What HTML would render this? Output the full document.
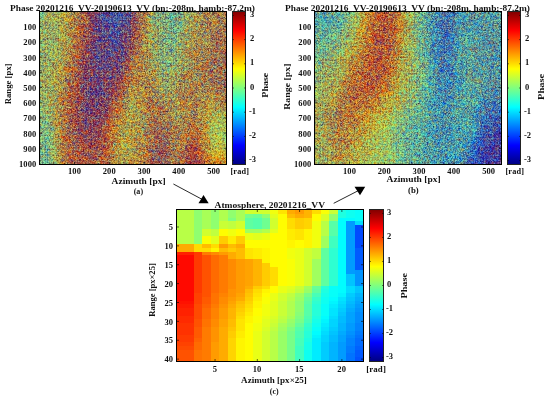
<!DOCTYPE html>
<html><head><meta charset="utf-8"><title>Figure</title>
<style>
html,body{margin:0;padding:0;background:#fff}
svg{display:block}
text{font-family:"Liberation Serif",serif;fill:#111}
.tk{font-size:8.5px;font-weight:bold;letter-spacing:.12px}
.tt{font-size:8.6px;font-weight:bold}
.lb{font-size:8.6px;font-weight:bold}
.cp{font-size:7.6px;font-weight:bold}
</style></head><body>
<svg width="550" height="401" viewBox="0 0 550 401">
<defs>
<linearGradient id="jet" x1="0" y1="0" x2="0" y2="1"><stop offset="0.0000" stop-color="#800000"/><stop offset="0.1250" stop-color="#ff0000"/><stop offset="0.3750" stop-color="#ffff00"/><stop offset="0.6250" stop-color="#00ffff"/><stop offset="0.8750" stop-color="#0000ff"/><stop offset="1.0000" stop-color="#000080"/></linearGradient>
<clipPath id="clipa"><rect x="40" y="12" width="186" height="152"/></clipPath>
<clipPath id="clipb"><rect x="315" y="12" width="186" height="152"/></clipPath>
<clipPath id="clipc"><rect x="177" y="210" width="186" height="151"/></clipPath>
<filter id="fa" filterUnits="userSpaceOnUse" x="24" y="-4" width="218" height="184" color-interpolation-filters="sRGB">
<feGaussianBlur in="SourceGraphic" stdDeviation="3" result="sb"/>
<feColorMatrix in="sb" type="matrix" values="1 0 0 0 0 1 0 0 0 0 1 0 0 0 0 0 0 0 0 1" result="b"/>
<feColorMatrix in="sb" type="matrix" values="0 1 0 0 0 0 1 0 0 0 0 1 0 0 0 0 0 0 0 1" result="a"/>
<feTurbulence type="fractalNoise" baseFrequency="1.618 1.37" numOctaves="1" seed="7"/>
<feComponentTransfer result="n0"><feFuncR type="table" tableValues="0.3333 0.3333 0.3333 0.3333 0.3333 0.3333 0.3333 0.3333 0.3333 0.3334 0.3334 0.3334 0.3334 0.3334 0.3334 0.3334 0.3335 0.3335 0.3336 0.3337 0.3338 0.3339 0.3341 0.3343 0.3345 0.3349 0.3352 0.3357 0.3363 0.337 0.3379 0.3389 0.3401 0.3416 0.3433 0.3453 0.3476 0.3502 0.3532 0.3566 0.3604 0.3645 0.3691 0.374 0.3793 0.3848 0.3906 0.3966 0.4027 0.4089 0.4151 0.4214 0.4276 0.4339 0.4401 0.4462 0.4523 0.4584 0.4644 0.4704 0.4763 0.4823 0.4882 0.4941 0.5 0.5059 0.5118 0.5177 0.5237 0.5296 0.5356 0.5416 0.5477 0.5538 0.5599 0.5661 0.5724 0.5786 0.5849 0.5911 0.5973 0.6034 0.6094 0.6152 0.6207 0.626 0.6309 0.6355 0.6396 0.6434 0.6468 0.6498 0.6524 0.6547 0.6567 0.6584 0.6599 0.6611 0.6621 0.663 0.6637 0.6643 0.6648 0.6651 0.6655 0.6657 0.6659 0.6661 0.6662 0.6663 0.6664 0.6665 0.6665 0.6666 0.6666 0.6666 0.6666 0.6666 0.6666 0.6666 0.6667 0.6667 0.6667 0.6667 0.6667 0.6667 0.6667 0.6667 0.6667"/><feFuncG type="table" tableValues="0.3333 0.3333 0.3333 0.3333 0.3333 0.3333 0.3333 0.3333 0.3333 0.3334 0.3334 0.3334 0.3334 0.3334 0.3334 0.3334 0.3335 0.3335 0.3336 0.3337 0.3338 0.3339 0.3341 0.3343 0.3345 0.3349 0.3352 0.3357 0.3363 0.337 0.3379 0.3389 0.3401 0.3416 0.3433 0.3453 0.3476 0.3502 0.3532 0.3566 0.3604 0.3645 0.3691 0.374 0.3793 0.3848 0.3906 0.3966 0.4027 0.4089 0.4151 0.4214 0.4276 0.4339 0.4401 0.4462 0.4523 0.4584 0.4644 0.4704 0.4763 0.4823 0.4882 0.4941 0.5 0.5059 0.5118 0.5177 0.5237 0.5296 0.5356 0.5416 0.5477 0.5538 0.5599 0.5661 0.5724 0.5786 0.5849 0.5911 0.5973 0.6034 0.6094 0.6152 0.6207 0.626 0.6309 0.6355 0.6396 0.6434 0.6468 0.6498 0.6524 0.6547 0.6567 0.6584 0.6599 0.6611 0.6621 0.663 0.6637 0.6643 0.6648 0.6651 0.6655 0.6657 0.6659 0.6661 0.6662 0.6663 0.6664 0.6665 0.6665 0.6666 0.6666 0.6666 0.6666 0.6666 0.6666 0.6666 0.6667 0.6667 0.6667 0.6667 0.6667 0.6667 0.6667 0.6667 0.6667"/><feFuncB type="table" tableValues="0.3333 0.3333 0.3333 0.3333 0.3333 0.3333 0.3333 0.3333 0.3333 0.3334 0.3334 0.3334 0.3334 0.3334 0.3334 0.3334 0.3335 0.3335 0.3336 0.3337 0.3338 0.3339 0.3341 0.3343 0.3345 0.3349 0.3352 0.3357 0.3363 0.337 0.3379 0.3389 0.3401 0.3416 0.3433 0.3453 0.3476 0.3502 0.3532 0.3566 0.3604 0.3645 0.3691 0.374 0.3793 0.3848 0.3906 0.3966 0.4027 0.4089 0.4151 0.4214 0.4276 0.4339 0.4401 0.4462 0.4523 0.4584 0.4644 0.4704 0.4763 0.4823 0.4882 0.4941 0.5 0.5059 0.5118 0.5177 0.5237 0.5296 0.5356 0.5416 0.5477 0.5538 0.5599 0.5661 0.5724 0.5786 0.5849 0.5911 0.5973 0.6034 0.6094 0.6152 0.6207 0.626 0.6309 0.6355 0.6396 0.6434 0.6468 0.6498 0.6524 0.6547 0.6567 0.6584 0.6599 0.6611 0.6621 0.663 0.6637 0.6643 0.6648 0.6651 0.6655 0.6657 0.6659 0.6661 0.6662 0.6663 0.6664 0.6665 0.6665 0.6666 0.6666 0.6666 0.6666 0.6666 0.6666 0.6666 0.6667 0.6667 0.6667 0.6667 0.6667 0.6667 0.6667 0.6667 0.6667"/><feFuncA type="linear" slope="0" intercept="1"/></feComponentTransfer>
<feColorMatrix in="n0" type="matrix" values="1 0 0 0 0 1 0 0 0 0 1 0 0 0 0 0 0 0 0 1"/>
<feComposite in2="a" operator="arithmetic" k1="1" k2="0" k3="-0.5" k4="0.5"/>
<feComposite in2="b" operator="arithmetic" k1="0" k2="1" k3="1" k4="-0.5"/>
<feComponentTransfer result="c0"><feFuncR type="table" tableValues="0 0 0 0.0846 0.21 0.335 0.46 0.585 0.71 0.835 0.96 1 1 1 1 1 1 1 1 0.915 0.79 0.665 0.54 0 0 0 0 0 0 0 0 0 0 0 0 0.0846 0.21 0.335 0.46 0.585 0.71 0.835 0.96 1 1 1 1 1 1 1 1 0.915 0.79 0.665 0.54 0 0 0 0 0 0 0 0 0 0 0 0 0.0846 0.21 0.335 0.46 0.585 0.71 0.835 0.96 1 1 1 1 1 1 1 1 0.915 0.79 0.665 0.54 0 0 0 0 0 0 0 0 0 0"/><feFuncG type="table" tableValues="0.71 0.835 0.96 1 1 1 1 1 1 1 1 0.915 0.79 0.665 0.54 0.415 0.29 0.165 0.0404 0 0 0 0 0 0 0 0 0.0846 0.21 0.335 0.46 0.585 0.71 0.835 0.96 1 1 1 1 1 1 1 1 0.915 0.79 0.665 0.54 0.415 0.29 0.165 0.0404 0 0 0 0 0 0 0 0 0.0846 0.21 0.335 0.46 0.585 0.71 0.835 0.96 1 1 1 1 1 1 1 1 0.915 0.79 0.665 0.54 0.415 0.29 0.165 0.0404 0 0 0 0 0 0 0 0 0.0846 0.21 0.335 0.46 0.585 0.71"/><feFuncB type="table" tableValues="1 1 1 0.915 0.79 0.665 0.54 0.415 0.29 0.165 0.0404 0 0 0 0 0 0 0 0 0 0 0 0 0.585 0.71 0.835 0.96 1 1 1 1 1 1 1 1 0.915 0.79 0.665 0.54 0.415 0.29 0.165 0.0404 0 0 0 0 0 0 0 0 0 0 0 0 0.585 0.71 0.835 0.96 1 1 1 1 1 1 1 1 0.915 0.79 0.665 0.54 0.415 0.29 0.165 0.0404 0 0 0 0 0 0 0 0 0 0 0 0 0.585 0.71 0.835 0.96 1 1 1 1 1 1"/></feComponentTransfer>
<feColorMatrix in="n0" type="matrix" values="0 1 0 0 0 0 1 0 0 0 0 1 0 0 0 0 0 0 0 1"/>
<feComposite in2="a" operator="arithmetic" k1="1" k2="0" k3="-0.5" k4="0.5"/>
<feComposite in2="b" operator="arithmetic" k1="0" k2="1" k3="1" k4="-0.5"/>
<feComponentTransfer result="c1"><feFuncR type="table" tableValues="0 0 0 0.0846 0.21 0.335 0.46 0.585 0.71 0.835 0.96 1 1 1 1 1 1 1 1 0.915 0.79 0.665 0.54 0 0 0 0 0 0 0 0 0 0 0 0 0.0846 0.21 0.335 0.46 0.585 0.71 0.835 0.96 1 1 1 1 1 1 1 1 0.915 0.79 0.665 0.54 0 0 0 0 0 0 0 0 0 0 0 0 0.0846 0.21 0.335 0.46 0.585 0.71 0.835 0.96 1 1 1 1 1 1 1 1 0.915 0.79 0.665 0.54 0 0 0 0 0 0 0 0 0 0"/><feFuncG type="table" tableValues="0.71 0.835 0.96 1 1 1 1 1 1 1 1 0.915 0.79 0.665 0.54 0.415 0.29 0.165 0.0404 0 0 0 0 0 0 0 0 0.0846 0.21 0.335 0.46 0.585 0.71 0.835 0.96 1 1 1 1 1 1 1 1 0.915 0.79 0.665 0.54 0.415 0.29 0.165 0.0404 0 0 0 0 0 0 0 0 0.0846 0.21 0.335 0.46 0.585 0.71 0.835 0.96 1 1 1 1 1 1 1 1 0.915 0.79 0.665 0.54 0.415 0.29 0.165 0.0404 0 0 0 0 0 0 0 0 0.0846 0.21 0.335 0.46 0.585 0.71"/><feFuncB type="table" tableValues="1 1 1 0.915 0.79 0.665 0.54 0.415 0.29 0.165 0.0404 0 0 0 0 0 0 0 0 0 0 0 0 0.585 0.71 0.835 0.96 1 1 1 1 1 1 1 1 0.915 0.79 0.665 0.54 0.415 0.29 0.165 0.0404 0 0 0 0 0 0 0 0 0 0 0 0 0.585 0.71 0.835 0.96 1 1 1 1 1 1 1 1 0.915 0.79 0.665 0.54 0.415 0.29 0.165 0.0404 0 0 0 0 0 0 0 0 0 0 0 0 0.585 0.71 0.835 0.96 1 1 1 1 1 1"/></feComponentTransfer>
<feTurbulence type="fractalNoise" baseFrequency="1.23 1.71" numOctaves="1" seed="12"/>
<feComponentTransfer result="n1"><feFuncR type="table" tableValues="0.3333 0.3333 0.3333 0.3333 0.3333 0.3333 0.3333 0.3333 0.3333 0.3334 0.3334 0.3334 0.3334 0.3334 0.3334 0.3334 0.3335 0.3335 0.3336 0.3337 0.3338 0.3339 0.3341 0.3343 0.3345 0.3349 0.3352 0.3357 0.3363 0.337 0.3379 0.3389 0.3401 0.3416 0.3433 0.3453 0.3476 0.3502 0.3532 0.3566 0.3604 0.3645 0.3691 0.374 0.3793 0.3848 0.3906 0.3966 0.4027 0.4089 0.4151 0.4214 0.4276 0.4339 0.4401 0.4462 0.4523 0.4584 0.4644 0.4704 0.4763 0.4823 0.4882 0.4941 0.5 0.5059 0.5118 0.5177 0.5237 0.5296 0.5356 0.5416 0.5477 0.5538 0.5599 0.5661 0.5724 0.5786 0.5849 0.5911 0.5973 0.6034 0.6094 0.6152 0.6207 0.626 0.6309 0.6355 0.6396 0.6434 0.6468 0.6498 0.6524 0.6547 0.6567 0.6584 0.6599 0.6611 0.6621 0.663 0.6637 0.6643 0.6648 0.6651 0.6655 0.6657 0.6659 0.6661 0.6662 0.6663 0.6664 0.6665 0.6665 0.6666 0.6666 0.6666 0.6666 0.6666 0.6666 0.6666 0.6667 0.6667 0.6667 0.6667 0.6667 0.6667 0.6667 0.6667 0.6667"/><feFuncG type="table" tableValues="0.3333 0.3333 0.3333 0.3333 0.3333 0.3333 0.3333 0.3333 0.3333 0.3334 0.3334 0.3334 0.3334 0.3334 0.3334 0.3334 0.3335 0.3335 0.3336 0.3337 0.3338 0.3339 0.3341 0.3343 0.3345 0.3349 0.3352 0.3357 0.3363 0.337 0.3379 0.3389 0.3401 0.3416 0.3433 0.3453 0.3476 0.3502 0.3532 0.3566 0.3604 0.3645 0.3691 0.374 0.3793 0.3848 0.3906 0.3966 0.4027 0.4089 0.4151 0.4214 0.4276 0.4339 0.4401 0.4462 0.4523 0.4584 0.4644 0.4704 0.4763 0.4823 0.4882 0.4941 0.5 0.5059 0.5118 0.5177 0.5237 0.5296 0.5356 0.5416 0.5477 0.5538 0.5599 0.5661 0.5724 0.5786 0.5849 0.5911 0.5973 0.6034 0.6094 0.6152 0.6207 0.626 0.6309 0.6355 0.6396 0.6434 0.6468 0.6498 0.6524 0.6547 0.6567 0.6584 0.6599 0.6611 0.6621 0.663 0.6637 0.6643 0.6648 0.6651 0.6655 0.6657 0.6659 0.6661 0.6662 0.6663 0.6664 0.6665 0.6665 0.6666 0.6666 0.6666 0.6666 0.6666 0.6666 0.6666 0.6667 0.6667 0.6667 0.6667 0.6667 0.6667 0.6667 0.6667 0.6667"/><feFuncB type="table" tableValues="0.3333 0.3333 0.3333 0.3333 0.3333 0.3333 0.3333 0.3333 0.3333 0.3334 0.3334 0.3334 0.3334 0.3334 0.3334 0.3334 0.3335 0.3335 0.3336 0.3337 0.3338 0.3339 0.3341 0.3343 0.3345 0.3349 0.3352 0.3357 0.3363 0.337 0.3379 0.3389 0.3401 0.3416 0.3433 0.3453 0.3476 0.3502 0.3532 0.3566 0.3604 0.3645 0.3691 0.374 0.3793 0.3848 0.3906 0.3966 0.4027 0.4089 0.4151 0.4214 0.4276 0.4339 0.4401 0.4462 0.4523 0.4584 0.4644 0.4704 0.4763 0.4823 0.4882 0.4941 0.5 0.5059 0.5118 0.5177 0.5237 0.5296 0.5356 0.5416 0.5477 0.5538 0.5599 0.5661 0.5724 0.5786 0.5849 0.5911 0.5973 0.6034 0.6094 0.6152 0.6207 0.626 0.6309 0.6355 0.6396 0.6434 0.6468 0.6498 0.6524 0.6547 0.6567 0.6584 0.6599 0.6611 0.6621 0.663 0.6637 0.6643 0.6648 0.6651 0.6655 0.6657 0.6659 0.6661 0.6662 0.6663 0.6664 0.6665 0.6665 0.6666 0.6666 0.6666 0.6666 0.6666 0.6666 0.6666 0.6667 0.6667 0.6667 0.6667 0.6667 0.6667 0.6667 0.6667 0.6667"/><feFuncA type="linear" slope="0" intercept="1"/></feComponentTransfer>
<feColorMatrix in="n1" type="matrix" values="1 0 0 0 0 1 0 0 0 0 1 0 0 0 0 0 0 0 0 1"/>
<feComposite in2="a" operator="arithmetic" k1="1" k2="0" k3="-0.5" k4="0.5"/>
<feComposite in2="b" operator="arithmetic" k1="0" k2="1" k3="1" k4="-0.5"/>
<feComponentTransfer result="c2"><feFuncR type="table" tableValues="0 0 0 0.0846 0.21 0.335 0.46 0.585 0.71 0.835 0.96 1 1 1 1 1 1 1 1 0.915 0.79 0.665 0.54 0 0 0 0 0 0 0 0 0 0 0 0 0.0846 0.21 0.335 0.46 0.585 0.71 0.835 0.96 1 1 1 1 1 1 1 1 0.915 0.79 0.665 0.54 0 0 0 0 0 0 0 0 0 0 0 0 0.0846 0.21 0.335 0.46 0.585 0.71 0.835 0.96 1 1 1 1 1 1 1 1 0.915 0.79 0.665 0.54 0 0 0 0 0 0 0 0 0 0"/><feFuncG type="table" tableValues="0.71 0.835 0.96 1 1 1 1 1 1 1 1 0.915 0.79 0.665 0.54 0.415 0.29 0.165 0.0404 0 0 0 0 0 0 0 0 0.0846 0.21 0.335 0.46 0.585 0.71 0.835 0.96 1 1 1 1 1 1 1 1 0.915 0.79 0.665 0.54 0.415 0.29 0.165 0.0404 0 0 0 0 0 0 0 0 0.0846 0.21 0.335 0.46 0.585 0.71 0.835 0.96 1 1 1 1 1 1 1 1 0.915 0.79 0.665 0.54 0.415 0.29 0.165 0.0404 0 0 0 0 0 0 0 0 0.0846 0.21 0.335 0.46 0.585 0.71"/><feFuncB type="table" tableValues="1 1 1 0.915 0.79 0.665 0.54 0.415 0.29 0.165 0.0404 0 0 0 0 0 0 0 0 0 0 0 0 0.585 0.71 0.835 0.96 1 1 1 1 1 1 1 1 0.915 0.79 0.665 0.54 0.415 0.29 0.165 0.0404 0 0 0 0 0 0 0 0 0 0 0 0 0.585 0.71 0.835 0.96 1 1 1 1 1 1 1 1 0.915 0.79 0.665 0.54 0.415 0.29 0.165 0.0404 0 0 0 0 0 0 0 0 0 0 0 0 0.585 0.71 0.835 0.96 1 1 1 1 1 1"/></feComponentTransfer>
<feTurbulence type="fractalNoise" baseFrequency="1.45 1.19" numOctaves="1" seed="17"/>
<feComponentTransfer result="n2"><feFuncR type="table" tableValues="0.3333 0.3333 0.3333 0.3333 0.3333 0.3333 0.3333 0.3333 0.3333 0.3334 0.3334 0.3334 0.3334 0.3334 0.3334 0.3334 0.3335 0.3335 0.3336 0.3337 0.3338 0.3339 0.3341 0.3343 0.3345 0.3349 0.3352 0.3357 0.3363 0.337 0.3379 0.3389 0.3401 0.3416 0.3433 0.3453 0.3476 0.3502 0.3532 0.3566 0.3604 0.3645 0.3691 0.374 0.3793 0.3848 0.3906 0.3966 0.4027 0.4089 0.4151 0.4214 0.4276 0.4339 0.4401 0.4462 0.4523 0.4584 0.4644 0.4704 0.4763 0.4823 0.4882 0.4941 0.5 0.5059 0.5118 0.5177 0.5237 0.5296 0.5356 0.5416 0.5477 0.5538 0.5599 0.5661 0.5724 0.5786 0.5849 0.5911 0.5973 0.6034 0.6094 0.6152 0.6207 0.626 0.6309 0.6355 0.6396 0.6434 0.6468 0.6498 0.6524 0.6547 0.6567 0.6584 0.6599 0.6611 0.6621 0.663 0.6637 0.6643 0.6648 0.6651 0.6655 0.6657 0.6659 0.6661 0.6662 0.6663 0.6664 0.6665 0.6665 0.6666 0.6666 0.6666 0.6666 0.6666 0.6666 0.6666 0.6667 0.6667 0.6667 0.6667 0.6667 0.6667 0.6667 0.6667 0.6667"/><feFuncG type="table" tableValues="0.3333 0.3333 0.3333 0.3333 0.3333 0.3333 0.3333 0.3333 0.3333 0.3334 0.3334 0.3334 0.3334 0.3334 0.3334 0.3334 0.3335 0.3335 0.3336 0.3337 0.3338 0.3339 0.3341 0.3343 0.3345 0.3349 0.3352 0.3357 0.3363 0.337 0.3379 0.3389 0.3401 0.3416 0.3433 0.3453 0.3476 0.3502 0.3532 0.3566 0.3604 0.3645 0.3691 0.374 0.3793 0.3848 0.3906 0.3966 0.4027 0.4089 0.4151 0.4214 0.4276 0.4339 0.4401 0.4462 0.4523 0.4584 0.4644 0.4704 0.4763 0.4823 0.4882 0.4941 0.5 0.5059 0.5118 0.5177 0.5237 0.5296 0.5356 0.5416 0.5477 0.5538 0.5599 0.5661 0.5724 0.5786 0.5849 0.5911 0.5973 0.6034 0.6094 0.6152 0.6207 0.626 0.6309 0.6355 0.6396 0.6434 0.6468 0.6498 0.6524 0.6547 0.6567 0.6584 0.6599 0.6611 0.6621 0.663 0.6637 0.6643 0.6648 0.6651 0.6655 0.6657 0.6659 0.6661 0.6662 0.6663 0.6664 0.6665 0.6665 0.6666 0.6666 0.6666 0.6666 0.6666 0.6666 0.6666 0.6667 0.6667 0.6667 0.6667 0.6667 0.6667 0.6667 0.6667 0.6667"/><feFuncB type="table" tableValues="0.3333 0.3333 0.3333 0.3333 0.3333 0.3333 0.3333 0.3333 0.3333 0.3334 0.3334 0.3334 0.3334 0.3334 0.3334 0.3334 0.3335 0.3335 0.3336 0.3337 0.3338 0.3339 0.3341 0.3343 0.3345 0.3349 0.3352 0.3357 0.3363 0.337 0.3379 0.3389 0.3401 0.3416 0.3433 0.3453 0.3476 0.3502 0.3532 0.3566 0.3604 0.3645 0.3691 0.374 0.3793 0.3848 0.3906 0.3966 0.4027 0.4089 0.4151 0.4214 0.4276 0.4339 0.4401 0.4462 0.4523 0.4584 0.4644 0.4704 0.4763 0.4823 0.4882 0.4941 0.5 0.5059 0.5118 0.5177 0.5237 0.5296 0.5356 0.5416 0.5477 0.5538 0.5599 0.5661 0.5724 0.5786 0.5849 0.5911 0.5973 0.6034 0.6094 0.6152 0.6207 0.626 0.6309 0.6355 0.6396 0.6434 0.6468 0.6498 0.6524 0.6547 0.6567 0.6584 0.6599 0.6611 0.6621 0.663 0.6637 0.6643 0.6648 0.6651 0.6655 0.6657 0.6659 0.6661 0.6662 0.6663 0.6664 0.6665 0.6665 0.6666 0.6666 0.6666 0.6666 0.6666 0.6666 0.6666 0.6667 0.6667 0.6667 0.6667 0.6667 0.6667 0.6667 0.6667 0.6667"/><feFuncA type="linear" slope="0" intercept="1"/></feComponentTransfer>
<feColorMatrix in="n2" type="matrix" values="1 0 0 0 0 1 0 0 0 0 1 0 0 0 0 0 0 0 0 1"/>
<feComposite in2="a" operator="arithmetic" k1="1" k2="0" k3="-0.5" k4="0.5"/>
<feComposite in2="b" operator="arithmetic" k1="0" k2="1" k3="1" k4="-0.5"/>
<feComponentTransfer result="c3"><feFuncR type="table" tableValues="0 0 0 0.0846 0.21 0.335 0.46 0.585 0.71 0.835 0.96 1 1 1 1 1 1 1 1 0.915 0.79 0.665 0.54 0 0 0 0 0 0 0 0 0 0 0 0 0.0846 0.21 0.335 0.46 0.585 0.71 0.835 0.96 1 1 1 1 1 1 1 1 0.915 0.79 0.665 0.54 0 0 0 0 0 0 0 0 0 0 0 0 0.0846 0.21 0.335 0.46 0.585 0.71 0.835 0.96 1 1 1 1 1 1 1 1 0.915 0.79 0.665 0.54 0 0 0 0 0 0 0 0 0 0"/><feFuncG type="table" tableValues="0.71 0.835 0.96 1 1 1 1 1 1 1 1 0.915 0.79 0.665 0.54 0.415 0.29 0.165 0.0404 0 0 0 0 0 0 0 0 0.0846 0.21 0.335 0.46 0.585 0.71 0.835 0.96 1 1 1 1 1 1 1 1 0.915 0.79 0.665 0.54 0.415 0.29 0.165 0.0404 0 0 0 0 0 0 0 0 0.0846 0.21 0.335 0.46 0.585 0.71 0.835 0.96 1 1 1 1 1 1 1 1 0.915 0.79 0.665 0.54 0.415 0.29 0.165 0.0404 0 0 0 0 0 0 0 0 0.0846 0.21 0.335 0.46 0.585 0.71"/><feFuncB type="table" tableValues="1 1 1 0.915 0.79 0.665 0.54 0.415 0.29 0.165 0.0404 0 0 0 0 0 0 0 0 0 0 0 0 0.585 0.71 0.835 0.96 1 1 1 1 1 1 1 1 0.915 0.79 0.665 0.54 0.415 0.29 0.165 0.0404 0 0 0 0 0 0 0 0 0 0 0 0 0.585 0.71 0.835 0.96 1 1 1 1 1 1 1 1 0.915 0.79 0.665 0.54 0.415 0.29 0.165 0.0404 0 0 0 0 0 0 0 0 0 0 0 0 0.585 0.71 0.835 0.96 1 1 1 1 1 1"/></feComponentTransfer>
<feComposite in="c0" in2="c1" operator="arithmetic" k1="0" k2="0.5000" k3="0.5000" k4="0" result="m0_0"/>
<feComposite in="c2" in2="c3" operator="arithmetic" k1="0" k2="0.5000" k3="0.5000" k4="0" result="m0_2"/>
<feComposite in="m0_0" in2="m0_2" operator="arithmetic" k1="0" k2="0.5000" k3="0.5000" k4="0" result="m1_0"/>
<feConvolveMatrix in="m1_0" order="3" kernelMatrix="0 1 0 1 14 1 0 1 0" preserveAlpha="true" edgeMode="duplicate" result="c"/>
<feConvolveMatrix in="c" order="3" kernelMatrix="1 2 1 2 4 2 1 2 1" preserveAlpha="true" edgeMode="duplicate" result="cb"/>
<feColorMatrix in="c" type="matrix" values=".299 .587 .114 0 0 .299 .587 .114 0 0 .299 .587 .114 0 0 0 0 0 0 1" result="g1"/>
<feColorMatrix in="cb" type="matrix" values=".299 .587 .114 0 0 .299 .587 .114 0 0 .299 .587 .114 0 0 0 0 0 0 1" result="g2"/>
<feComposite in="g1" in2="g2" operator="arithmetic" k1="0" k2=".5" k3="-.5" k4=".5" result="d"/>
<feComposite in="cb" in2="d" operator="arithmetic" k1="0" k2="1" k3="2" k4="-1"/>
</filter>
<filter id="fb" filterUnits="userSpaceOnUse" x="299" y="-4" width="218" height="184" color-interpolation-filters="sRGB">
<feGaussianBlur in="SourceGraphic" stdDeviation="3" result="sb"/>
<feColorMatrix in="sb" type="matrix" values="1 0 0 0 0 1 0 0 0 0 1 0 0 0 0 0 0 0 0 1" result="b"/>
<feColorMatrix in="sb" type="matrix" values="0 1 0 0 0 0 1 0 0 0 0 1 0 0 0 0 0 0 0 1" result="a"/>
<feTurbulence type="fractalNoise" baseFrequency="1.618 1.37" numOctaves="1" seed="11"/>
<feComponentTransfer result="n0"><feFuncR type="table" tableValues="0.3333 0.3333 0.3333 0.3333 0.3333 0.3333 0.3333 0.3333 0.3333 0.3334 0.3334 0.3334 0.3334 0.3334 0.3334 0.3334 0.3335 0.3335 0.3336 0.3337 0.3338 0.3339 0.3341 0.3343 0.3345 0.3349 0.3352 0.3357 0.3363 0.337 0.3379 0.3389 0.3401 0.3416 0.3433 0.3453 0.3476 0.3502 0.3532 0.3566 0.3604 0.3645 0.3691 0.374 0.3793 0.3848 0.3906 0.3966 0.4027 0.4089 0.4151 0.4214 0.4276 0.4339 0.4401 0.4462 0.4523 0.4584 0.4644 0.4704 0.4763 0.4823 0.4882 0.4941 0.5 0.5059 0.5118 0.5177 0.5237 0.5296 0.5356 0.5416 0.5477 0.5538 0.5599 0.5661 0.5724 0.5786 0.5849 0.5911 0.5973 0.6034 0.6094 0.6152 0.6207 0.626 0.6309 0.6355 0.6396 0.6434 0.6468 0.6498 0.6524 0.6547 0.6567 0.6584 0.6599 0.6611 0.6621 0.663 0.6637 0.6643 0.6648 0.6651 0.6655 0.6657 0.6659 0.6661 0.6662 0.6663 0.6664 0.6665 0.6665 0.6666 0.6666 0.6666 0.6666 0.6666 0.6666 0.6666 0.6667 0.6667 0.6667 0.6667 0.6667 0.6667 0.6667 0.6667 0.6667"/><feFuncG type="table" tableValues="0.3333 0.3333 0.3333 0.3333 0.3333 0.3333 0.3333 0.3333 0.3333 0.3334 0.3334 0.3334 0.3334 0.3334 0.3334 0.3334 0.3335 0.3335 0.3336 0.3337 0.3338 0.3339 0.3341 0.3343 0.3345 0.3349 0.3352 0.3357 0.3363 0.337 0.3379 0.3389 0.3401 0.3416 0.3433 0.3453 0.3476 0.3502 0.3532 0.3566 0.3604 0.3645 0.3691 0.374 0.3793 0.3848 0.3906 0.3966 0.4027 0.4089 0.4151 0.4214 0.4276 0.4339 0.4401 0.4462 0.4523 0.4584 0.4644 0.4704 0.4763 0.4823 0.4882 0.4941 0.5 0.5059 0.5118 0.5177 0.5237 0.5296 0.5356 0.5416 0.5477 0.5538 0.5599 0.5661 0.5724 0.5786 0.5849 0.5911 0.5973 0.6034 0.6094 0.6152 0.6207 0.626 0.6309 0.6355 0.6396 0.6434 0.6468 0.6498 0.6524 0.6547 0.6567 0.6584 0.6599 0.6611 0.6621 0.663 0.6637 0.6643 0.6648 0.6651 0.6655 0.6657 0.6659 0.6661 0.6662 0.6663 0.6664 0.6665 0.6665 0.6666 0.6666 0.6666 0.6666 0.6666 0.6666 0.6666 0.6667 0.6667 0.6667 0.6667 0.6667 0.6667 0.6667 0.6667 0.6667"/><feFuncB type="table" tableValues="0.3333 0.3333 0.3333 0.3333 0.3333 0.3333 0.3333 0.3333 0.3333 0.3334 0.3334 0.3334 0.3334 0.3334 0.3334 0.3334 0.3335 0.3335 0.3336 0.3337 0.3338 0.3339 0.3341 0.3343 0.3345 0.3349 0.3352 0.3357 0.3363 0.337 0.3379 0.3389 0.3401 0.3416 0.3433 0.3453 0.3476 0.3502 0.3532 0.3566 0.3604 0.3645 0.3691 0.374 0.3793 0.3848 0.3906 0.3966 0.4027 0.4089 0.4151 0.4214 0.4276 0.4339 0.4401 0.4462 0.4523 0.4584 0.4644 0.4704 0.4763 0.4823 0.4882 0.4941 0.5 0.5059 0.5118 0.5177 0.5237 0.5296 0.5356 0.5416 0.5477 0.5538 0.5599 0.5661 0.5724 0.5786 0.5849 0.5911 0.5973 0.6034 0.6094 0.6152 0.6207 0.626 0.6309 0.6355 0.6396 0.6434 0.6468 0.6498 0.6524 0.6547 0.6567 0.6584 0.6599 0.6611 0.6621 0.663 0.6637 0.6643 0.6648 0.6651 0.6655 0.6657 0.6659 0.6661 0.6662 0.6663 0.6664 0.6665 0.6665 0.6666 0.6666 0.6666 0.6666 0.6666 0.6666 0.6666 0.6667 0.6667 0.6667 0.6667 0.6667 0.6667 0.6667 0.6667 0.6667"/><feFuncA type="linear" slope="0" intercept="1"/></feComponentTransfer>
<feColorMatrix in="n0" type="matrix" values="1 0 0 0 0 1 0 0 0 0 1 0 0 0 0 0 0 0 0 1"/>
<feComposite in2="a" operator="arithmetic" k1="1" k2="0" k3="-0.5" k4="0.5"/>
<feComposite in2="b" operator="arithmetic" k1="0" k2="1" k3="1" k4="-0.5"/>
<feComponentTransfer result="c0"><feFuncR type="table" tableValues="0.627 0.502 0 0 0 0 0 0 0 0 0 0 0 0 0.123 0.248 0.373 0.498 0.623 0.748 0.873 0.998 1 1 1 1 1 1 1 1 0.877 0.752 0.627 0.502 0 0 0 0 0 0 0 0 0 0 0 0 0.123 0.248 0.373 0.498 0.623 0.748 0.873 0.998 1 1 1 1 1 1 1 1 0.877 0.752 0.627 0.502 0 0 0 0 0 0 0 0 0 0 0 0 0.123 0.248 0.373 0.498 0.623 0.748 0.873 0.998 1 1 1 1 1 1 1 1 0.877 0.752 0.627"/><feFuncG type="table" tableValues="0 0 0 0 0 0 0.123 0.248 0.373 0.498 0.623 0.748 0.873 0.998 1 1 1 1 1 1 1 1 0.877 0.752 0.627 0.502 0.377 0.252 0.127 0.00232 0 0 0 0 0 0 0 0 0.123 0.248 0.373 0.498 0.623 0.748 0.873 0.998 1 1 1 1 1 1 1 1 0.877 0.752 0.627 0.502 0.377 0.252 0.127 0.00232 0 0 0 0 0 0 0 0 0.123 0.248 0.373 0.498 0.623 0.748 0.873 0.998 1 1 1 1 1 1 1 1 0.877 0.752 0.627 0.502 0.377 0.252 0.127 0.00232 0 0 0"/><feFuncB type="table" tableValues="0 0 0.623 0.748 0.873 0.998 1 1 1 1 1 1 1 1 0.877 0.752 0.627 0.502 0.377 0.252 0.127 0.00232 0 0 0 0 0 0 0 0 0 0 0 0 0.623 0.748 0.873 0.998 1 1 1 1 1 1 1 1 0.877 0.752 0.627 0.502 0.377 0.252 0.127 0.00232 0 0 0 0 0 0 0 0 0 0 0 0 0.623 0.748 0.873 0.998 1 1 1 1 1 1 1 1 0.877 0.752 0.627 0.502 0.377 0.252 0.127 0.00232 0 0 0 0 0 0 0 0 0 0 0"/></feComponentTransfer>
<feColorMatrix in="n0" type="matrix" values="0 1 0 0 0 0 1 0 0 0 0 1 0 0 0 0 0 0 0 1"/>
<feComposite in2="a" operator="arithmetic" k1="1" k2="0" k3="-0.5" k4="0.5"/>
<feComposite in2="b" operator="arithmetic" k1="0" k2="1" k3="1" k4="-0.5"/>
<feComponentTransfer result="c1"><feFuncR type="table" tableValues="0.627 0.502 0 0 0 0 0 0 0 0 0 0 0 0 0.123 0.248 0.373 0.498 0.623 0.748 0.873 0.998 1 1 1 1 1 1 1 1 0.877 0.752 0.627 0.502 0 0 0 0 0 0 0 0 0 0 0 0 0.123 0.248 0.373 0.498 0.623 0.748 0.873 0.998 1 1 1 1 1 1 1 1 0.877 0.752 0.627 0.502 0 0 0 0 0 0 0 0 0 0 0 0 0.123 0.248 0.373 0.498 0.623 0.748 0.873 0.998 1 1 1 1 1 1 1 1 0.877 0.752 0.627"/><feFuncG type="table" tableValues="0 0 0 0 0 0 0.123 0.248 0.373 0.498 0.623 0.748 0.873 0.998 1 1 1 1 1 1 1 1 0.877 0.752 0.627 0.502 0.377 0.252 0.127 0.00232 0 0 0 0 0 0 0 0 0.123 0.248 0.373 0.498 0.623 0.748 0.873 0.998 1 1 1 1 1 1 1 1 0.877 0.752 0.627 0.502 0.377 0.252 0.127 0.00232 0 0 0 0 0 0 0 0 0.123 0.248 0.373 0.498 0.623 0.748 0.873 0.998 1 1 1 1 1 1 1 1 0.877 0.752 0.627 0.502 0.377 0.252 0.127 0.00232 0 0 0"/><feFuncB type="table" tableValues="0 0 0.623 0.748 0.873 0.998 1 1 1 1 1 1 1 1 0.877 0.752 0.627 0.502 0.377 0.252 0.127 0.00232 0 0 0 0 0 0 0 0 0 0 0 0 0.623 0.748 0.873 0.998 1 1 1 1 1 1 1 1 0.877 0.752 0.627 0.502 0.377 0.252 0.127 0.00232 0 0 0 0 0 0 0 0 0 0 0 0 0.623 0.748 0.873 0.998 1 1 1 1 1 1 1 1 0.877 0.752 0.627 0.502 0.377 0.252 0.127 0.00232 0 0 0 0 0 0 0 0 0 0 0"/></feComponentTransfer>
<feTurbulence type="fractalNoise" baseFrequency="1.23 1.71" numOctaves="1" seed="16"/>
<feComponentTransfer result="n1"><feFuncR type="table" tableValues="0.3333 0.3333 0.3333 0.3333 0.3333 0.3333 0.3333 0.3333 0.3333 0.3334 0.3334 0.3334 0.3334 0.3334 0.3334 0.3334 0.3335 0.3335 0.3336 0.3337 0.3338 0.3339 0.3341 0.3343 0.3345 0.3349 0.3352 0.3357 0.3363 0.337 0.3379 0.3389 0.3401 0.3416 0.3433 0.3453 0.3476 0.3502 0.3532 0.3566 0.3604 0.3645 0.3691 0.374 0.3793 0.3848 0.3906 0.3966 0.4027 0.4089 0.4151 0.4214 0.4276 0.4339 0.4401 0.4462 0.4523 0.4584 0.4644 0.4704 0.4763 0.4823 0.4882 0.4941 0.5 0.5059 0.5118 0.5177 0.5237 0.5296 0.5356 0.5416 0.5477 0.5538 0.5599 0.5661 0.5724 0.5786 0.5849 0.5911 0.5973 0.6034 0.6094 0.6152 0.6207 0.626 0.6309 0.6355 0.6396 0.6434 0.6468 0.6498 0.6524 0.6547 0.6567 0.6584 0.6599 0.6611 0.6621 0.663 0.6637 0.6643 0.6648 0.6651 0.6655 0.6657 0.6659 0.6661 0.6662 0.6663 0.6664 0.6665 0.6665 0.6666 0.6666 0.6666 0.6666 0.6666 0.6666 0.6666 0.6667 0.6667 0.6667 0.6667 0.6667 0.6667 0.6667 0.6667 0.6667"/><feFuncG type="table" tableValues="0.3333 0.3333 0.3333 0.3333 0.3333 0.3333 0.3333 0.3333 0.3333 0.3334 0.3334 0.3334 0.3334 0.3334 0.3334 0.3334 0.3335 0.3335 0.3336 0.3337 0.3338 0.3339 0.3341 0.3343 0.3345 0.3349 0.3352 0.3357 0.3363 0.337 0.3379 0.3389 0.3401 0.3416 0.3433 0.3453 0.3476 0.3502 0.3532 0.3566 0.3604 0.3645 0.3691 0.374 0.3793 0.3848 0.3906 0.3966 0.4027 0.4089 0.4151 0.4214 0.4276 0.4339 0.4401 0.4462 0.4523 0.4584 0.4644 0.4704 0.4763 0.4823 0.4882 0.4941 0.5 0.5059 0.5118 0.5177 0.5237 0.5296 0.5356 0.5416 0.5477 0.5538 0.5599 0.5661 0.5724 0.5786 0.5849 0.5911 0.5973 0.6034 0.6094 0.6152 0.6207 0.626 0.6309 0.6355 0.6396 0.6434 0.6468 0.6498 0.6524 0.6547 0.6567 0.6584 0.6599 0.6611 0.6621 0.663 0.6637 0.6643 0.6648 0.6651 0.6655 0.6657 0.6659 0.6661 0.6662 0.6663 0.6664 0.6665 0.6665 0.6666 0.6666 0.6666 0.6666 0.6666 0.6666 0.6666 0.6667 0.6667 0.6667 0.6667 0.6667 0.6667 0.6667 0.6667 0.6667"/><feFuncB type="table" tableValues="0.3333 0.3333 0.3333 0.3333 0.3333 0.3333 0.3333 0.3333 0.3333 0.3334 0.3334 0.3334 0.3334 0.3334 0.3334 0.3334 0.3335 0.3335 0.3336 0.3337 0.3338 0.3339 0.3341 0.3343 0.3345 0.3349 0.3352 0.3357 0.3363 0.337 0.3379 0.3389 0.3401 0.3416 0.3433 0.3453 0.3476 0.3502 0.3532 0.3566 0.3604 0.3645 0.3691 0.374 0.3793 0.3848 0.3906 0.3966 0.4027 0.4089 0.4151 0.4214 0.4276 0.4339 0.4401 0.4462 0.4523 0.4584 0.4644 0.4704 0.4763 0.4823 0.4882 0.4941 0.5 0.5059 0.5118 0.5177 0.5237 0.5296 0.5356 0.5416 0.5477 0.5538 0.5599 0.5661 0.5724 0.5786 0.5849 0.5911 0.5973 0.6034 0.6094 0.6152 0.6207 0.626 0.6309 0.6355 0.6396 0.6434 0.6468 0.6498 0.6524 0.6547 0.6567 0.6584 0.6599 0.6611 0.6621 0.663 0.6637 0.6643 0.6648 0.6651 0.6655 0.6657 0.6659 0.6661 0.6662 0.6663 0.6664 0.6665 0.6665 0.6666 0.6666 0.6666 0.6666 0.6666 0.6666 0.6666 0.6667 0.6667 0.6667 0.6667 0.6667 0.6667 0.6667 0.6667 0.6667"/><feFuncA type="linear" slope="0" intercept="1"/></feComponentTransfer>
<feColorMatrix in="n1" type="matrix" values="1 0 0 0 0 1 0 0 0 0 1 0 0 0 0 0 0 0 0 1"/>
<feComposite in2="a" operator="arithmetic" k1="1" k2="0" k3="-0.5" k4="0.5"/>
<feComposite in2="b" operator="arithmetic" k1="0" k2="1" k3="1" k4="-0.5"/>
<feComponentTransfer result="c2"><feFuncR type="table" tableValues="0.627 0.502 0 0 0 0 0 0 0 0 0 0 0 0 0.123 0.248 0.373 0.498 0.623 0.748 0.873 0.998 1 1 1 1 1 1 1 1 0.877 0.752 0.627 0.502 0 0 0 0 0 0 0 0 0 0 0 0 0.123 0.248 0.373 0.498 0.623 0.748 0.873 0.998 1 1 1 1 1 1 1 1 0.877 0.752 0.627 0.502 0 0 0 0 0 0 0 0 0 0 0 0 0.123 0.248 0.373 0.498 0.623 0.748 0.873 0.998 1 1 1 1 1 1 1 1 0.877 0.752 0.627"/><feFuncG type="table" tableValues="0 0 0 0 0 0 0.123 0.248 0.373 0.498 0.623 0.748 0.873 0.998 1 1 1 1 1 1 1 1 0.877 0.752 0.627 0.502 0.377 0.252 0.127 0.00232 0 0 0 0 0 0 0 0 0.123 0.248 0.373 0.498 0.623 0.748 0.873 0.998 1 1 1 1 1 1 1 1 0.877 0.752 0.627 0.502 0.377 0.252 0.127 0.00232 0 0 0 0 0 0 0 0 0.123 0.248 0.373 0.498 0.623 0.748 0.873 0.998 1 1 1 1 1 1 1 1 0.877 0.752 0.627 0.502 0.377 0.252 0.127 0.00232 0 0 0"/><feFuncB type="table" tableValues="0 0 0.623 0.748 0.873 0.998 1 1 1 1 1 1 1 1 0.877 0.752 0.627 0.502 0.377 0.252 0.127 0.00232 0 0 0 0 0 0 0 0 0 0 0 0 0.623 0.748 0.873 0.998 1 1 1 1 1 1 1 1 0.877 0.752 0.627 0.502 0.377 0.252 0.127 0.00232 0 0 0 0 0 0 0 0 0 0 0 0 0.623 0.748 0.873 0.998 1 1 1 1 1 1 1 1 0.877 0.752 0.627 0.502 0.377 0.252 0.127 0.00232 0 0 0 0 0 0 0 0 0 0 0"/></feComponentTransfer>
<feTurbulence type="fractalNoise" baseFrequency="1.45 1.19" numOctaves="1" seed="21"/>
<feComponentTransfer result="n2"><feFuncR type="table" tableValues="0.3333 0.3333 0.3333 0.3333 0.3333 0.3333 0.3333 0.3333 0.3333 0.3334 0.3334 0.3334 0.3334 0.3334 0.3334 0.3334 0.3335 0.3335 0.3336 0.3337 0.3338 0.3339 0.3341 0.3343 0.3345 0.3349 0.3352 0.3357 0.3363 0.337 0.3379 0.3389 0.3401 0.3416 0.3433 0.3453 0.3476 0.3502 0.3532 0.3566 0.3604 0.3645 0.3691 0.374 0.3793 0.3848 0.3906 0.3966 0.4027 0.4089 0.4151 0.4214 0.4276 0.4339 0.4401 0.4462 0.4523 0.4584 0.4644 0.4704 0.4763 0.4823 0.4882 0.4941 0.5 0.5059 0.5118 0.5177 0.5237 0.5296 0.5356 0.5416 0.5477 0.5538 0.5599 0.5661 0.5724 0.5786 0.5849 0.5911 0.5973 0.6034 0.6094 0.6152 0.6207 0.626 0.6309 0.6355 0.6396 0.6434 0.6468 0.6498 0.6524 0.6547 0.6567 0.6584 0.6599 0.6611 0.6621 0.663 0.6637 0.6643 0.6648 0.6651 0.6655 0.6657 0.6659 0.6661 0.6662 0.6663 0.6664 0.6665 0.6665 0.6666 0.6666 0.6666 0.6666 0.6666 0.6666 0.6666 0.6667 0.6667 0.6667 0.6667 0.6667 0.6667 0.6667 0.6667 0.6667"/><feFuncG type="table" tableValues="0.3333 0.3333 0.3333 0.3333 0.3333 0.3333 0.3333 0.3333 0.3333 0.3334 0.3334 0.3334 0.3334 0.3334 0.3334 0.3334 0.3335 0.3335 0.3336 0.3337 0.3338 0.3339 0.3341 0.3343 0.3345 0.3349 0.3352 0.3357 0.3363 0.337 0.3379 0.3389 0.3401 0.3416 0.3433 0.3453 0.3476 0.3502 0.3532 0.3566 0.3604 0.3645 0.3691 0.374 0.3793 0.3848 0.3906 0.3966 0.4027 0.4089 0.4151 0.4214 0.4276 0.4339 0.4401 0.4462 0.4523 0.4584 0.4644 0.4704 0.4763 0.4823 0.4882 0.4941 0.5 0.5059 0.5118 0.5177 0.5237 0.5296 0.5356 0.5416 0.5477 0.5538 0.5599 0.5661 0.5724 0.5786 0.5849 0.5911 0.5973 0.6034 0.6094 0.6152 0.6207 0.626 0.6309 0.6355 0.6396 0.6434 0.6468 0.6498 0.6524 0.6547 0.6567 0.6584 0.6599 0.6611 0.6621 0.663 0.6637 0.6643 0.6648 0.6651 0.6655 0.6657 0.6659 0.6661 0.6662 0.6663 0.6664 0.6665 0.6665 0.6666 0.6666 0.6666 0.6666 0.6666 0.6666 0.6666 0.6667 0.6667 0.6667 0.6667 0.6667 0.6667 0.6667 0.6667 0.6667"/><feFuncB type="table" tableValues="0.3333 0.3333 0.3333 0.3333 0.3333 0.3333 0.3333 0.3333 0.3333 0.3334 0.3334 0.3334 0.3334 0.3334 0.3334 0.3334 0.3335 0.3335 0.3336 0.3337 0.3338 0.3339 0.3341 0.3343 0.3345 0.3349 0.3352 0.3357 0.3363 0.337 0.3379 0.3389 0.3401 0.3416 0.3433 0.3453 0.3476 0.3502 0.3532 0.3566 0.3604 0.3645 0.3691 0.374 0.3793 0.3848 0.3906 0.3966 0.4027 0.4089 0.4151 0.4214 0.4276 0.4339 0.4401 0.4462 0.4523 0.4584 0.4644 0.4704 0.4763 0.4823 0.4882 0.4941 0.5 0.5059 0.5118 0.5177 0.5237 0.5296 0.5356 0.5416 0.5477 0.5538 0.5599 0.5661 0.5724 0.5786 0.5849 0.5911 0.5973 0.6034 0.6094 0.6152 0.6207 0.626 0.6309 0.6355 0.6396 0.6434 0.6468 0.6498 0.6524 0.6547 0.6567 0.6584 0.6599 0.6611 0.6621 0.663 0.6637 0.6643 0.6648 0.6651 0.6655 0.6657 0.6659 0.6661 0.6662 0.6663 0.6664 0.6665 0.6665 0.6666 0.6666 0.6666 0.6666 0.6666 0.6666 0.6666 0.6667 0.6667 0.6667 0.6667 0.6667 0.6667 0.6667 0.6667 0.6667"/><feFuncA type="linear" slope="0" intercept="1"/></feComponentTransfer>
<feColorMatrix in="n2" type="matrix" values="1 0 0 0 0 1 0 0 0 0 1 0 0 0 0 0 0 0 0 1"/>
<feComposite in2="a" operator="arithmetic" k1="1" k2="0" k3="-0.5" k4="0.5"/>
<feComposite in2="b" operator="arithmetic" k1="0" k2="1" k3="1" k4="-0.5"/>
<feComponentTransfer result="c3"><feFuncR type="table" tableValues="0.627 0.502 0 0 0 0 0 0 0 0 0 0 0 0 0.123 0.248 0.373 0.498 0.623 0.748 0.873 0.998 1 1 1 1 1 1 1 1 0.877 0.752 0.627 0.502 0 0 0 0 0 0 0 0 0 0 0 0 0.123 0.248 0.373 0.498 0.623 0.748 0.873 0.998 1 1 1 1 1 1 1 1 0.877 0.752 0.627 0.502 0 0 0 0 0 0 0 0 0 0 0 0 0.123 0.248 0.373 0.498 0.623 0.748 0.873 0.998 1 1 1 1 1 1 1 1 0.877 0.752 0.627"/><feFuncG type="table" tableValues="0 0 0 0 0 0 0.123 0.248 0.373 0.498 0.623 0.748 0.873 0.998 1 1 1 1 1 1 1 1 0.877 0.752 0.627 0.502 0.377 0.252 0.127 0.00232 0 0 0 0 0 0 0 0 0.123 0.248 0.373 0.498 0.623 0.748 0.873 0.998 1 1 1 1 1 1 1 1 0.877 0.752 0.627 0.502 0.377 0.252 0.127 0.00232 0 0 0 0 0 0 0 0 0.123 0.248 0.373 0.498 0.623 0.748 0.873 0.998 1 1 1 1 1 1 1 1 0.877 0.752 0.627 0.502 0.377 0.252 0.127 0.00232 0 0 0"/><feFuncB type="table" tableValues="0 0 0.623 0.748 0.873 0.998 1 1 1 1 1 1 1 1 0.877 0.752 0.627 0.502 0.377 0.252 0.127 0.00232 0 0 0 0 0 0 0 0 0 0 0 0 0.623 0.748 0.873 0.998 1 1 1 1 1 1 1 1 0.877 0.752 0.627 0.502 0.377 0.252 0.127 0.00232 0 0 0 0 0 0 0 0 0 0 0 0 0.623 0.748 0.873 0.998 1 1 1 1 1 1 1 1 0.877 0.752 0.627 0.502 0.377 0.252 0.127 0.00232 0 0 0 0 0 0 0 0 0 0 0"/></feComponentTransfer>
<feComposite in="c0" in2="c1" operator="arithmetic" k1="0" k2="0.5000" k3="0.5000" k4="0" result="m0_0"/>
<feComposite in="c2" in2="c3" operator="arithmetic" k1="0" k2="0.5000" k3="0.5000" k4="0" result="m0_2"/>
<feComposite in="m0_0" in2="m0_2" operator="arithmetic" k1="0" k2="0.5000" k3="0.5000" k4="0" result="m1_0"/>
<feConvolveMatrix in="m1_0" order="3" kernelMatrix="0 1 0 1 14 1 0 1 0" preserveAlpha="true" edgeMode="duplicate" result="c"/>
<feConvolveMatrix in="c" order="3" kernelMatrix="1 2 1 2 4 2 1 2 1" preserveAlpha="true" edgeMode="duplicate" result="cb"/>
<feColorMatrix in="c" type="matrix" values=".299 .587 .114 0 0 .299 .587 .114 0 0 .299 .587 .114 0 0 0 0 0 0 1" result="g1"/>
<feColorMatrix in="cb" type="matrix" values=".299 .587 .114 0 0 .299 .587 .114 0 0 .299 .587 .114 0 0 0 0 0 0 1" result="g2"/>
<feComposite in="g1" in2="g2" operator="arithmetic" k1="0" k2=".5" k3="-.5" k4=".5" result="d"/>
<feComposite in="cb" in2="d" operator="arithmetic" k1="0" k2="1" k3="2" k4="-1"/>
</filter>
</defs>
<rect width="550" height="401" fill="#fff"/>
<g clip-path="url(#clipa)"><g filter="url(#fa)"><rect x="22" y="-6" width="19" height="7" fill="#67f000"/><rect x="40" y="-6" width="7" height="7" fill="#68f000"/><rect x="46" y="-6" width="7" height="7" fill="#6bf000"/><rect x="52" y="-6" width="7" height="7" fill="#6df000"/><rect x="58" y="-6" width="7" height="7" fill="#71eb00"/><rect x="64" y="-6" width="7" height="7" fill="#74eb00"/><rect x="70" y="-6" width="7" height="7" fill="#79e600"/><rect x="76" y="-6" width="7" height="7" fill="#7ee100"/><rect x="82" y="-6" width="7" height="7" fill="#84e100"/><rect x="88" y="-6" width="7" height="7" fill="#8bdc00"/><rect x="94" y="-6" width="7" height="7" fill="#91dc00"/><rect x="100" y="-6" width="7" height="7" fill="#96dc00"/><rect x="106" y="-6" width="7" height="7" fill="#9ae100"/><rect x="112" y="-6" width="7" height="7" fill="#9de100"/><rect x="118" y="-6" width="7" height="7" fill="#9ce600"/><rect x="124" y="-6" width="7" height="7" fill="#96e600"/><rect x="130" y="-6" width="7" height="7" fill="#8ceb00"/><rect x="136" y="-6" width="7" height="7" fill="#83f000"/><rect x="142" y="-6" width="7" height="7" fill="#79f500"/><rect x="148" y="-6" width="7" height="7" fill="#71fa00"/><rect x="154" y="-6" width="7" height="7" fill="#69ff00"/><rect x="160" y="-6" width="7" height="7" fill="#64ff00"/><rect x="166" y="-6" width="7" height="7" fill="#62ff00"/><rect x="172" y="-6" width="7" height="7" fill="#63ff00"/><rect x="178" y="-6" width="7" height="7" fill="#69ff00"/><rect x="184" y="-6" width="7" height="7" fill="#6eff00"/><rect x="190" y="-6" width="7" height="7" fill="#71ff00"/><rect x="196" y="-6" width="7" height="7" fill="#74ff00"/><rect x="202" y="-6" width="7" height="7" fill="#77ff00"/><rect x="208" y="-6" width="7" height="7" fill="#7aff00"/><rect x="214" y="-6" width="7" height="7" fill="#7cff00"/><rect x="220" y="-6" width="7" height="7" fill="#7dff00"/><rect x="226" y="-6" width="19" height="7" fill="#7eff00"/><rect x="22" y="0" width="19" height="7" fill="#67f000"/><rect x="40" y="0" width="7" height="7" fill="#68f000"/><rect x="46" y="0" width="7" height="7" fill="#6bf000"/><rect x="52" y="0" width="7" height="7" fill="#6df000"/><rect x="58" y="0" width="7" height="7" fill="#71eb00"/><rect x="64" y="0" width="7" height="7" fill="#74eb00"/><rect x="70" y="0" width="7" height="7" fill="#79e600"/><rect x="76" y="0" width="7" height="7" fill="#7ee100"/><rect x="82" y="0" width="7" height="7" fill="#84e100"/><rect x="88" y="0" width="7" height="7" fill="#8bdc00"/><rect x="94" y="0" width="7" height="7" fill="#91dc00"/><rect x="100" y="0" width="7" height="7" fill="#96dc00"/><rect x="106" y="0" width="7" height="7" fill="#9ae100"/><rect x="112" y="0" width="7" height="7" fill="#9de100"/><rect x="118" y="0" width="7" height="7" fill="#9ce600"/><rect x="124" y="0" width="7" height="7" fill="#96e600"/><rect x="130" y="0" width="7" height="7" fill="#8ceb00"/><rect x="136" y="0" width="7" height="7" fill="#83f000"/><rect x="142" y="0" width="7" height="7" fill="#79f500"/><rect x="148" y="0" width="7" height="7" fill="#71fa00"/><rect x="154" y="0" width="7" height="7" fill="#69ff00"/><rect x="160" y="0" width="7" height="7" fill="#64ff00"/><rect x="166" y="0" width="7" height="7" fill="#62ff00"/><rect x="172" y="0" width="7" height="7" fill="#63ff00"/><rect x="178" y="0" width="7" height="7" fill="#69ff00"/><rect x="184" y="0" width="7" height="7" fill="#6eff00"/><rect x="190" y="0" width="7" height="7" fill="#71ff00"/><rect x="196" y="0" width="7" height="7" fill="#74ff00"/><rect x="202" y="0" width="7" height="7" fill="#77ff00"/><rect x="208" y="0" width="7" height="7" fill="#7aff00"/><rect x="214" y="0" width="7" height="7" fill="#7cff00"/><rect x="220" y="0" width="7" height="7" fill="#7dff00"/><rect x="226" y="0" width="19" height="7" fill="#7eff00"/><rect x="22" y="6" width="19" height="7" fill="#67f000"/><rect x="40" y="6" width="7" height="7" fill="#68f000"/><rect x="46" y="6" width="7" height="7" fill="#6bf000"/><rect x="52" y="6" width="7" height="7" fill="#6df000"/><rect x="58" y="6" width="7" height="7" fill="#71eb00"/><rect x="64" y="6" width="7" height="7" fill="#74eb00"/><rect x="70" y="6" width="7" height="7" fill="#79e600"/><rect x="76" y="6" width="7" height="7" fill="#7ee100"/><rect x="82" y="6" width="7" height="7" fill="#84e100"/><rect x="88" y="6" width="7" height="7" fill="#8bdc00"/><rect x="94" y="6" width="7" height="7" fill="#91dc00"/><rect x="100" y="6" width="7" height="7" fill="#96dc00"/><rect x="106" y="6" width="7" height="7" fill="#9ae100"/><rect x="112" y="6" width="7" height="7" fill="#9de100"/><rect x="118" y="6" width="7" height="7" fill="#9ce600"/><rect x="124" y="6" width="7" height="7" fill="#96e600"/><rect x="130" y="6" width="7" height="7" fill="#8ceb00"/><rect x="136" y="6" width="7" height="7" fill="#83f000"/><rect x="142" y="6" width="7" height="7" fill="#79f500"/><rect x="148" y="6" width="7" height="7" fill="#71fa00"/><rect x="154" y="6" width="7" height="7" fill="#69ff00"/><rect x="160" y="6" width="7" height="7" fill="#64ff00"/><rect x="166" y="6" width="7" height="7" fill="#62ff00"/><rect x="172" y="6" width="7" height="7" fill="#63ff00"/><rect x="178" y="6" width="7" height="7" fill="#69ff00"/><rect x="184" y="6" width="7" height="7" fill="#6eff00"/><rect x="190" y="6" width="7" height="7" fill="#71ff00"/><rect x="196" y="6" width="7" height="7" fill="#74ff00"/><rect x="202" y="6" width="7" height="7" fill="#77ff00"/><rect x="208" y="6" width="7" height="7" fill="#7aff00"/><rect x="214" y="6" width="7" height="7" fill="#7cff00"/><rect x="220" y="6" width="7" height="7" fill="#7dff00"/><rect x="226" y="6" width="19" height="7" fill="#7eff00"/><rect x="22" y="12" width="25" height="7" fill="#68f000"/><rect x="46" y="12" width="7" height="7" fill="#6bf000"/><rect x="52" y="12" width="7" height="7" fill="#6df000"/><rect x="58" y="12" width="7" height="7" fill="#71eb00"/><rect x="64" y="12" width="7" height="7" fill="#74eb00"/><rect x="70" y="12" width="7" height="7" fill="#79e600"/><rect x="76" y="12" width="7" height="7" fill="#7fe100"/><rect x="82" y="12" width="7" height="7" fill="#85e100"/><rect x="88" y="12" width="7" height="7" fill="#8bdc00"/><rect x="94" y="12" width="7" height="7" fill="#91dc00"/><rect x="100" y="12" width="7" height="7" fill="#95dc00"/><rect x="106" y="12" width="7" height="7" fill="#9ae100"/><rect x="112" y="12" width="7" height="7" fill="#9ce100"/><rect x="118" y="12" width="7" height="7" fill="#9be600"/><rect x="124" y="12" width="7" height="7" fill="#96e600"/><rect x="130" y="12" width="7" height="7" fill="#8ceb00"/><rect x="136" y="12" width="7" height="7" fill="#83f000"/><rect x="142" y="12" width="7" height="7" fill="#79f500"/><rect x="148" y="12" width="7" height="7" fill="#70fa00"/><rect x="154" y="12" width="7" height="7" fill="#69ff00"/><rect x="160" y="12" width="7" height="7" fill="#64ff00"/><rect x="166" y="12" width="7" height="7" fill="#62ff00"/><rect x="172" y="12" width="7" height="7" fill="#63ff00"/><rect x="178" y="12" width="7" height="7" fill="#69ff00"/><rect x="184" y="12" width="7" height="7" fill="#6eff00"/><rect x="190" y="12" width="7" height="7" fill="#71ff00"/><rect x="196" y="12" width="7" height="7" fill="#74ff00"/><rect x="202" y="12" width="7" height="7" fill="#77ff00"/><rect x="208" y="12" width="7" height="7" fill="#7aff00"/><rect x="214" y="12" width="7" height="7" fill="#7cff00"/><rect x="220" y="12" width="25" height="7" fill="#7eff00"/><rect x="22" y="18" width="25" height="7" fill="#69f000"/><rect x="46" y="18" width="7" height="7" fill="#6bf000"/><rect x="52" y="18" width="7" height="7" fill="#6df000"/><rect x="58" y="18" width="7" height="7" fill="#70eb00"/><rect x="64" y="18" width="7" height="7" fill="#74eb00"/><rect x="70" y="18" width="7" height="7" fill="#79e600"/><rect x="76" y="18" width="7" height="7" fill="#7fe100"/><rect x="82" y="18" width="7" height="7" fill="#86e100"/><rect x="88" y="18" width="7" height="7" fill="#8cdc00"/><rect x="94" y="18" width="7" height="7" fill="#91dc00"/><rect x="100" y="18" width="7" height="7" fill="#95dc00"/><rect x="106" y="18" width="7" height="7" fill="#98e100"/><rect x="112" y="18" width="7" height="7" fill="#9ae100"/><rect x="118" y="18" width="7" height="7" fill="#9ae600"/><rect x="124" y="18" width="7" height="7" fill="#95e600"/><rect x="130" y="18" width="7" height="7" fill="#8ceb00"/><rect x="136" y="18" width="7" height="7" fill="#83f000"/><rect x="142" y="18" width="7" height="7" fill="#79f500"/><rect x="148" y="18" width="7" height="7" fill="#70fa00"/><rect x="154" y="18" width="7" height="7" fill="#69ff00"/><rect x="160" y="18" width="7" height="7" fill="#65ff00"/><rect x="166" y="18" width="7" height="7" fill="#62ff00"/><rect x="172" y="18" width="7" height="7" fill="#63ff00"/><rect x="178" y="18" width="7" height="7" fill="#69ff00"/><rect x="184" y="18" width="7" height="7" fill="#6fff00"/><rect x="190" y="18" width="7" height="7" fill="#73ff00"/><rect x="196" y="18" width="7" height="7" fill="#76ff00"/><rect x="202" y="18" width="7" height="7" fill="#78ff00"/><rect x="208" y="18" width="7" height="7" fill="#7bff00"/><rect x="214" y="18" width="7" height="7" fill="#7dff00"/><rect x="220" y="18" width="7" height="7" fill="#7eff00"/><rect x="226" y="18" width="19" height="7" fill="#7fff00"/><rect x="22" y="24" width="19" height="7" fill="#69f000"/><rect x="40" y="24" width="7" height="7" fill="#6af000"/><rect x="46" y="24" width="7" height="7" fill="#6bf000"/><rect x="52" y="24" width="7" height="7" fill="#6df000"/><rect x="58" y="24" width="7" height="7" fill="#70eb00"/><rect x="64" y="24" width="7" height="7" fill="#74eb00"/><rect x="70" y="24" width="7" height="7" fill="#79e600"/><rect x="76" y="24" width="7" height="7" fill="#80e100"/><rect x="82" y="24" width="7" height="7" fill="#87e100"/><rect x="88" y="24" width="7" height="7" fill="#8cdc00"/><rect x="94" y="24" width="7" height="7" fill="#91dc00"/><rect x="100" y="24" width="7" height="7" fill="#94dc00"/><rect x="106" y="24" width="7" height="7" fill="#97e100"/><rect x="112" y="24" width="7" height="7" fill="#99e100"/><rect x="118" y="24" width="7" height="7" fill="#99e600"/><rect x="124" y="24" width="7" height="7" fill="#94e600"/><rect x="130" y="24" width="7" height="7" fill="#8ceb00"/><rect x="136" y="24" width="7" height="7" fill="#82f000"/><rect x="142" y="24" width="7" height="7" fill="#79f500"/><rect x="148" y="24" width="7" height="7" fill="#70fa00"/><rect x="154" y="24" width="7" height="7" fill="#69ff00"/><rect x="160" y="24" width="7" height="7" fill="#65ff00"/><rect x="166" y="24" width="7" height="7" fill="#63ff00"/><rect x="172" y="24" width="7" height="7" fill="#64ff00"/><rect x="178" y="24" width="7" height="7" fill="#69ff00"/><rect x="184" y="24" width="7" height="7" fill="#6fff00"/><rect x="190" y="24" width="7" height="7" fill="#74ff00"/><rect x="196" y="24" width="7" height="7" fill="#77ff00"/><rect x="202" y="24" width="7" height="7" fill="#79ff00"/><rect x="208" y="24" width="7" height="7" fill="#7bff00"/><rect x="214" y="24" width="7" height="7" fill="#7eff00"/><rect x="220" y="24" width="7" height="7" fill="#7fff00"/><rect x="226" y="24" width="19" height="7" fill="#80ff00"/><rect x="22" y="30" width="25" height="7" fill="#6af000"/><rect x="46" y="30" width="7" height="7" fill="#6bf000"/><rect x="52" y="30" width="7" height="7" fill="#6df000"/><rect x="58" y="30" width="7" height="7" fill="#71eb00"/><rect x="64" y="30" width="7" height="7" fill="#74eb00"/><rect x="70" y="30" width="7" height="7" fill="#7ae600"/><rect x="76" y="30" width="7" height="7" fill="#81e100"/><rect x="82" y="30" width="7" height="7" fill="#87e100"/><rect x="88" y="30" width="7" height="7" fill="#8ddc00"/><rect x="94" y="30" width="7" height="7" fill="#91dc00"/><rect x="100" y="30" width="7" height="7" fill="#94dc00"/><rect x="106" y="30" width="7" height="7" fill="#96e100"/><rect x="112" y="30" width="7" height="7" fill="#98e100"/><rect x="118" y="30" width="7" height="7" fill="#97e600"/><rect x="124" y="30" width="7" height="7" fill="#93e600"/><rect x="130" y="30" width="7" height="7" fill="#8beb00"/><rect x="136" y="30" width="7" height="7" fill="#82f000"/><rect x="142" y="30" width="7" height="7" fill="#78f500"/><rect x="148" y="30" width="7" height="7" fill="#70fa00"/><rect x="154" y="30" width="7" height="7" fill="#6aff00"/><rect x="160" y="30" width="7" height="7" fill="#66ff00"/><rect x="166" y="30" width="7" height="7" fill="#63ff00"/><rect x="172" y="30" width="7" height="7" fill="#64ff00"/><rect x="178" y="30" width="7" height="7" fill="#6aff00"/><rect x="184" y="30" width="7" height="7" fill="#70ff00"/><rect x="190" y="30" width="7" height="7" fill="#75ff00"/><rect x="196" y="30" width="7" height="7" fill="#78ff00"/><rect x="202" y="30" width="7" height="7" fill="#7aff00"/><rect x="208" y="30" width="7" height="7" fill="#7cff00"/><rect x="214" y="30" width="7" height="7" fill="#7eff00"/><rect x="220" y="30" width="25" height="7" fill="#80ff00"/><rect x="22" y="36" width="31" height="7" fill="#6bf000"/><rect x="52" y="36" width="7" height="7" fill="#6ef000"/><rect x="58" y="36" width="7" height="7" fill="#71eb00"/><rect x="64" y="36" width="7" height="7" fill="#75eb00"/><rect x="70" y="36" width="7" height="7" fill="#7ae600"/><rect x="76" y="36" width="7" height="7" fill="#82e100"/><rect x="82" y="36" width="7" height="7" fill="#88e100"/><rect x="88" y="36" width="7" height="7" fill="#8ddc00"/><rect x="94" y="36" width="7" height="7" fill="#91dc00"/><rect x="100" y="36" width="7" height="7" fill="#93dc00"/><rect x="106" y="36" width="7" height="7" fill="#95e100"/><rect x="112" y="36" width="7" height="7" fill="#96e100"/><rect x="118" y="36" width="7" height="7" fill="#95e600"/><rect x="124" y="36" width="7" height="7" fill="#91e600"/><rect x="130" y="36" width="7" height="7" fill="#8aeb00"/><rect x="136" y="36" width="7" height="7" fill="#81f000"/><rect x="142" y="36" width="7" height="7" fill="#78f500"/><rect x="148" y="36" width="7" height="7" fill="#71fa00"/><rect x="154" y="36" width="7" height="7" fill="#6bff00"/><rect x="160" y="36" width="7" height="7" fill="#66ff00"/><rect x="166" y="36" width="7" height="7" fill="#64ff00"/><rect x="172" y="36" width="7" height="7" fill="#65ff00"/><rect x="178" y="36" width="7" height="7" fill="#6bff00"/><rect x="184" y="36" width="7" height="7" fill="#71ff00"/><rect x="190" y="36" width="7" height="7" fill="#76ff00"/><rect x="196" y="36" width="7" height="7" fill="#79ff00"/><rect x="202" y="36" width="7" height="7" fill="#7aff00"/><rect x="208" y="36" width="7" height="7" fill="#7dff00"/><rect x="214" y="36" width="7" height="7" fill="#7fff00"/><rect x="220" y="36" width="7" height="7" fill="#80ff00"/><rect x="226" y="36" width="19" height="7" fill="#81ff00"/><rect x="22" y="42" width="19" height="7" fill="#6cf000"/><rect x="40" y="42" width="7" height="7" fill="#6bf000"/><rect x="46" y="42" width="7" height="7" fill="#6cf000"/><rect x="52" y="42" width="7" height="7" fill="#6ef000"/><rect x="58" y="42" width="7" height="7" fill="#72eb00"/><rect x="64" y="42" width="7" height="7" fill="#76eb00"/><rect x="70" y="42" width="7" height="7" fill="#7be600"/><rect x="76" y="42" width="7" height="7" fill="#83e100"/><rect x="82" y="42" width="7" height="7" fill="#89e100"/><rect x="88" y="42" width="7" height="7" fill="#8edc00"/><rect x="94" y="42" width="7" height="7" fill="#91dc00"/><rect x="100" y="42" width="7" height="7" fill="#93dc00"/><rect x="106" y="42" width="7" height="7" fill="#94e100"/><rect x="112" y="42" width="7" height="7" fill="#95e100"/><rect x="118" y="42" width="7" height="7" fill="#94e600"/><rect x="124" y="42" width="7" height="7" fill="#8fe600"/><rect x="130" y="42" width="7" height="7" fill="#88eb00"/><rect x="136" y="42" width="7" height="7" fill="#80f000"/><rect x="142" y="42" width="7" height="7" fill="#79f500"/><rect x="148" y="42" width="7" height="7" fill="#71fa00"/><rect x="154" y="42" width="7" height="7" fill="#6cff00"/><rect x="160" y="42" width="7" height="7" fill="#67ff00"/><rect x="166" y="42" width="7" height="7" fill="#65ff00"/><rect x="172" y="42" width="7" height="7" fill="#66ff00"/><rect x="178" y="42" width="7" height="7" fill="#6cff00"/><rect x="184" y="42" width="7" height="7" fill="#73ff00"/><rect x="190" y="42" width="7" height="7" fill="#77ff00"/><rect x="196" y="42" width="7" height="7" fill="#79ff00"/><rect x="202" y="42" width="7" height="7" fill="#7bff00"/><rect x="208" y="42" width="7" height="7" fill="#7dff00"/><rect x="214" y="42" width="7" height="7" fill="#7fff00"/><rect x="220" y="42" width="7" height="7" fill="#81ff00"/><rect x="226" y="42" width="19" height="7" fill="#82ff00"/><rect x="22" y="48" width="19" height="7" fill="#6df000"/><rect x="40" y="48" width="13" height="7" fill="#6cf000"/><rect x="52" y="48" width="7" height="7" fill="#6ff000"/><rect x="58" y="48" width="7" height="7" fill="#72eb00"/><rect x="64" y="48" width="7" height="7" fill="#77eb00"/><rect x="70" y="48" width="7" height="7" fill="#7ce600"/><rect x="76" y="48" width="7" height="7" fill="#84e100"/><rect x="82" y="48" width="7" height="7" fill="#8ae100"/><rect x="88" y="48" width="7" height="7" fill="#8edc00"/><rect x="94" y="48" width="7" height="7" fill="#91dc00"/><rect x="100" y="48" width="7" height="7" fill="#93dc00"/><rect x="106" y="48" width="7" height="7" fill="#94e100"/><rect x="112" y="48" width="7" height="7" fill="#93e100"/><rect x="118" y="48" width="7" height="7" fill="#92e600"/><rect x="124" y="48" width="7" height="7" fill="#8de600"/><rect x="130" y="48" width="7" height="7" fill="#86eb00"/><rect x="136" y="48" width="7" height="7" fill="#7ff000"/><rect x="142" y="48" width="7" height="7" fill="#79f500"/><rect x="148" y="48" width="7" height="7" fill="#72fa00"/><rect x="154" y="48" width="7" height="7" fill="#6dff00"/><rect x="160" y="48" width="7" height="7" fill="#68ff00"/><rect x="166" y="48" width="7" height="7" fill="#66ff00"/><rect x="172" y="48" width="7" height="7" fill="#67ff00"/><rect x="178" y="48" width="7" height="7" fill="#6eff00"/><rect x="184" y="48" width="7" height="7" fill="#74ff00"/><rect x="190" y="48" width="7" height="7" fill="#78ff00"/><rect x="196" y="48" width="7" height="7" fill="#7aff00"/><rect x="202" y="48" width="7" height="7" fill="#7bff00"/><rect x="208" y="48" width="7" height="7" fill="#7dff00"/><rect x="214" y="48" width="7" height="7" fill="#80ff00"/><rect x="220" y="48" width="25" height="7" fill="#82ff00"/><rect x="22" y="54" width="31" height="7" fill="#6df000"/><rect x="52" y="54" width="7" height="7" fill="#6ff000"/><rect x="58" y="54" width="7" height="7" fill="#73eb00"/><rect x="64" y="54" width="7" height="7" fill="#78eb00"/><rect x="70" y="54" width="7" height="7" fill="#7de600"/><rect x="76" y="54" width="7" height="7" fill="#85e100"/><rect x="82" y="54" width="7" height="7" fill="#8be100"/><rect x="88" y="54" width="7" height="7" fill="#8edc00"/><rect x="94" y="54" width="7" height="7" fill="#91dc00"/><rect x="100" y="54" width="7" height="7" fill="#92dc00"/><rect x="106" y="54" width="7" height="7" fill="#93e100"/><rect x="112" y="54" width="7" height="7" fill="#92e100"/><rect x="118" y="54" width="7" height="7" fill="#90e600"/><rect x="124" y="54" width="7" height="7" fill="#8be600"/><rect x="130" y="54" width="7" height="7" fill="#84eb00"/><rect x="136" y="54" width="7" height="7" fill="#7ef000"/><rect x="142" y="54" width="7" height="7" fill="#79f500"/><rect x="148" y="54" width="7" height="7" fill="#74fa00"/><rect x="154" y="54" width="7" height="7" fill="#6eff00"/><rect x="160" y="54" width="7" height="7" fill="#69ff00"/><rect x="166" y="54" width="7" height="7" fill="#67ff00"/><rect x="172" y="54" width="7" height="7" fill="#69ff00"/><rect x="178" y="54" width="7" height="7" fill="#6fff00"/><rect x="184" y="54" width="7" height="7" fill="#75ff00"/><rect x="190" y="54" width="7" height="7" fill="#78ff00"/><rect x="196" y="54" width="7" height="7" fill="#7aff00"/><rect x="202" y="54" width="7" height="7" fill="#7bff00"/><rect x="208" y="54" width="7" height="7" fill="#7eff00"/><rect x="214" y="54" width="7" height="7" fill="#80ff00"/><rect x="220" y="54" width="7" height="7" fill="#82ff00"/><rect x="226" y="54" width="19" height="7" fill="#83ff00"/><rect x="22" y="60" width="19" height="7" fill="#6ef000"/><rect x="40" y="60" width="13" height="7" fill="#6df000"/><rect x="52" y="60" width="7" height="7" fill="#70f000"/><rect x="58" y="60" width="7" height="7" fill="#74eb00"/><rect x="64" y="60" width="7" height="7" fill="#79eb00"/><rect x="70" y="60" width="7" height="7" fill="#7fe600"/><rect x="76" y="60" width="7" height="7" fill="#86e100"/><rect x="82" y="60" width="7" height="7" fill="#8be100"/><rect x="88" y="60" width="7" height="7" fill="#8fdc00"/><rect x="94" y="60" width="7" height="7" fill="#91dc00"/><rect x="100" y="60" width="7" height="7" fill="#92dc00"/><rect x="106" y="60" width="7" height="7" fill="#92e100"/><rect x="112" y="60" width="7" height="7" fill="#91e100"/><rect x="118" y="60" width="7" height="7" fill="#8ee600"/><rect x="124" y="60" width="7" height="7" fill="#88e600"/><rect x="130" y="60" width="7" height="7" fill="#81eb00"/><rect x="136" y="60" width="7" height="7" fill="#7df000"/><rect x="142" y="60" width="7" height="7" fill="#79f500"/><rect x="148" y="60" width="7" height="7" fill="#75fa00"/><rect x="154" y="60" width="7" height="7" fill="#70ff00"/><rect x="160" y="60" width="7" height="7" fill="#6aff00"/><rect x="166" y="60" width="7" height="7" fill="#68ff00"/><rect x="172" y="60" width="7" height="7" fill="#6bff00"/><rect x="178" y="60" width="7" height="7" fill="#71ff00"/><rect x="184" y="60" width="7" height="7" fill="#77ff00"/><rect x="190" y="60" width="7" height="7" fill="#79ff00"/><rect x="196" y="60" width="7" height="7" fill="#7aff00"/><rect x="202" y="60" width="7" height="7" fill="#7bff00"/><rect x="208" y="60" width="7" height="7" fill="#7eff00"/><rect x="214" y="60" width="7" height="7" fill="#81ff00"/><rect x="220" y="60" width="7" height="7" fill="#82ff00"/><rect x="226" y="60" width="19" height="7" fill="#83ff00"/><rect x="22" y="66" width="19" height="7" fill="#6ff000"/><rect x="40" y="66" width="13" height="7" fill="#6ef000"/><rect x="52" y="66" width="7" height="7" fill="#71f000"/><rect x="58" y="66" width="7" height="7" fill="#75eb00"/><rect x="64" y="66" width="7" height="7" fill="#7aeb00"/><rect x="70" y="66" width="7" height="7" fill="#80e600"/><rect x="76" y="66" width="7" height="7" fill="#87e100"/><rect x="82" y="66" width="7" height="7" fill="#8ce100"/><rect x="88" y="66" width="7" height="7" fill="#8fdc00"/><rect x="94" y="66" width="7" height="7" fill="#91dc00"/><rect x="100" y="66" width="7" height="7" fill="#92dc00"/><rect x="106" y="66" width="7" height="7" fill="#91e100"/><rect x="112" y="66" width="7" height="7" fill="#8fe100"/><rect x="118" y="66" width="7" height="7" fill="#8ce600"/><rect x="124" y="66" width="7" height="7" fill="#85e600"/><rect x="130" y="66" width="7" height="7" fill="#7eeb00"/><rect x="136" y="66" width="7" height="7" fill="#7cf000"/><rect x="142" y="66" width="7" height="7" fill="#7af500"/><rect x="148" y="66" width="7" height="7" fill="#77fa00"/><rect x="154" y="66" width="7" height="7" fill="#72ff00"/><rect x="160" y="66" width="7" height="7" fill="#6bff00"/><rect x="166" y="66" width="7" height="7" fill="#6aff00"/><rect x="172" y="66" width="7" height="7" fill="#6dff00"/><rect x="178" y="66" width="7" height="7" fill="#73ff00"/><rect x="184" y="66" width="7" height="7" fill="#78ff00"/><rect x="190" y="66" width="7" height="7" fill="#79ff00"/><rect x="196" y="66" width="7" height="7" fill="#7aff00"/><rect x="202" y="66" width="7" height="7" fill="#7bff00"/><rect x="208" y="66" width="7" height="7" fill="#7eff00"/><rect x="214" y="66" width="7" height="7" fill="#81ff00"/><rect x="220" y="66" width="25" height="7" fill="#83ff00"/><rect x="22" y="72" width="19" height="7" fill="#6ff000"/><rect x="40" y="72" width="7" height="7" fill="#6ef000"/><rect x="46" y="72" width="7" height="7" fill="#6ff000"/><rect x="52" y="72" width="7" height="7" fill="#72f000"/><rect x="58" y="72" width="7" height="7" fill="#77eb00"/><rect x="64" y="72" width="7" height="7" fill="#7ceb00"/><rect x="70" y="72" width="7" height="7" fill="#82e600"/><rect x="76" y="72" width="7" height="7" fill="#88e100"/><rect x="82" y="72" width="7" height="7" fill="#8de100"/><rect x="88" y="72" width="7" height="7" fill="#8fdc00"/><rect x="94" y="72" width="13" height="7" fill="#91dc00"/><rect x="106" y="72" width="7" height="7" fill="#90e100"/><rect x="112" y="72" width="7" height="7" fill="#8ee100"/><rect x="118" y="72" width="7" height="7" fill="#89e600"/><rect x="124" y="72" width="7" height="7" fill="#82e600"/><rect x="130" y="72" width="7" height="7" fill="#7beb00"/><rect x="136" y="72" width="7" height="7" fill="#7af000"/><rect x="142" y="72" width="7" height="7" fill="#7af500"/><rect x="148" y="72" width="7" height="7" fill="#79fa00"/><rect x="154" y="72" width="7" height="7" fill="#73ff00"/><rect x="160" y="72" width="7" height="7" fill="#6cff00"/><rect x="166" y="72" width="7" height="7" fill="#6bff00"/><rect x="172" y="72" width="7" height="7" fill="#6fff00"/><rect x="178" y="72" width="7" height="7" fill="#75ff00"/><rect x="184" y="72" width="19" height="7" fill="#7aff00"/><rect x="202" y="72" width="7" height="7" fill="#7bff00"/><rect x="208" y="72" width="7" height="7" fill="#7eff00"/><rect x="214" y="72" width="7" height="7" fill="#81ff00"/><rect x="220" y="72" width="25" height="7" fill="#83ff00"/><rect x="22" y="78" width="19" height="7" fill="#6ff000"/><rect x="40" y="78" width="7" height="7" fill="#6ef000"/><rect x="46" y="78" width="7" height="7" fill="#6ff000"/><rect x="52" y="78" width="7" height="7" fill="#72f000"/><rect x="58" y="78" width="7" height="7" fill="#78eb00"/><rect x="64" y="78" width="7" height="7" fill="#7deb00"/><rect x="70" y="78" width="7" height="7" fill="#83e600"/><rect x="76" y="78" width="7" height="7" fill="#89e100"/><rect x="82" y="78" width="7" height="7" fill="#8de100"/><rect x="88" y="78" width="7" height="7" fill="#8fdc00"/><rect x="94" y="78" width="13" height="7" fill="#91dc00"/><rect x="106" y="78" width="7" height="7" fill="#8fe100"/><rect x="112" y="78" width="7" height="7" fill="#8ce100"/><rect x="118" y="78" width="7" height="7" fill="#87e600"/><rect x="124" y="78" width="7" height="7" fill="#80e600"/><rect x="130" y="78" width="7" height="7" fill="#79eb00"/><rect x="136" y="78" width="7" height="7" fill="#79f000"/><rect x="142" y="78" width="7" height="7" fill="#7bf500"/><rect x="148" y="78" width="7" height="7" fill="#7afa00"/><rect x="154" y="78" width="7" height="7" fill="#75ff00"/><rect x="160" y="78" width="7" height="7" fill="#6eff00"/><rect x="166" y="78" width="7" height="7" fill="#6dff00"/><rect x="172" y="78" width="7" height="7" fill="#70ff00"/><rect x="178" y="78" width="7" height="7" fill="#77ff00"/><rect x="184" y="78" width="7" height="7" fill="#7bff00"/><rect x="190" y="78" width="13" height="7" fill="#7aff00"/><rect x="202" y="78" width="7" height="7" fill="#7bff00"/><rect x="208" y="78" width="7" height="7" fill="#7dff00"/><rect x="214" y="78" width="7" height="7" fill="#80ff00"/><rect x="220" y="78" width="7" height="7" fill="#82ff00"/><rect x="226" y="78" width="19" height="7" fill="#83ff00"/><rect x="22" y="84" width="19" height="7" fill="#6ff000"/><rect x="40" y="84" width="7" height="7" fill="#6ef000"/><rect x="46" y="84" width="7" height="7" fill="#6ff000"/><rect x="52" y="84" width="7" height="7" fill="#73f000"/><rect x="58" y="84" width="7" height="7" fill="#79eb00"/><rect x="64" y="84" width="7" height="7" fill="#7eeb00"/><rect x="70" y="84" width="7" height="7" fill="#84e600"/><rect x="76" y="84" width="7" height="7" fill="#8ae100"/><rect x="82" y="84" width="7" height="7" fill="#8ee100"/><rect x="88" y="84" width="7" height="7" fill="#90dc00"/><rect x="94" y="84" width="7" height="7" fill="#91dc00"/><rect x="100" y="84" width="7" height="7" fill="#90dc00"/><rect x="106" y="84" width="7" height="7" fill="#8ee100"/><rect x="112" y="84" width="7" height="7" fill="#8ae100"/><rect x="118" y="84" width="7" height="7" fill="#85e600"/><rect x="124" y="84" width="7" height="7" fill="#7de600"/><rect x="130" y="84" width="7" height="7" fill="#76eb00"/><rect x="136" y="84" width="7" height="7" fill="#78f000"/><rect x="142" y="84" width="7" height="7" fill="#7bf500"/><rect x="148" y="84" width="7" height="7" fill="#7bfa00"/><rect x="154" y="84" width="7" height="7" fill="#77ff00"/><rect x="160" y="84" width="7" height="7" fill="#70ff00"/><rect x="166" y="84" width="7" height="7" fill="#6eff00"/><rect x="172" y="84" width="7" height="7" fill="#72ff00"/><rect x="178" y="84" width="7" height="7" fill="#78ff00"/><rect x="184" y="84" width="7" height="7" fill="#7cff00"/><rect x="190" y="84" width="7" height="7" fill="#7bff00"/><rect x="196" y="84" width="13" height="7" fill="#7aff00"/><rect x="208" y="84" width="7" height="7" fill="#7cff00"/><rect x="214" y="84" width="7" height="7" fill="#7fff00"/><rect x="220" y="84" width="7" height="7" fill="#80ff00"/><rect x="226" y="84" width="19" height="7" fill="#81ff00"/><rect x="22" y="90" width="19" height="7" fill="#6ff000"/><rect x="40" y="90" width="13" height="7" fill="#6ef000"/><rect x="52" y="90" width="7" height="7" fill="#73f000"/><rect x="58" y="90" width="7" height="7" fill="#7aeb00"/><rect x="64" y="90" width="7" height="7" fill="#7feb00"/><rect x="70" y="90" width="7" height="7" fill="#85e600"/><rect x="76" y="90" width="7" height="7" fill="#8ae100"/><rect x="82" y="90" width="7" height="7" fill="#8ee100"/><rect x="88" y="90" width="7" height="7" fill="#8fdc00"/><rect x="94" y="90" width="13" height="7" fill="#90dc00"/><rect x="106" y="90" width="7" height="7" fill="#8de100"/><rect x="112" y="90" width="7" height="7" fill="#88e100"/><rect x="118" y="90" width="7" height="7" fill="#83e600"/><rect x="124" y="90" width="7" height="7" fill="#7be600"/><rect x="130" y="90" width="7" height="7" fill="#75eb00"/><rect x="136" y="90" width="7" height="7" fill="#76f000"/><rect x="142" y="90" width="7" height="7" fill="#7af500"/><rect x="148" y="90" width="7" height="7" fill="#7cfa00"/><rect x="154" y="90" width="7" height="7" fill="#79ff00"/><rect x="160" y="90" width="7" height="7" fill="#72ff00"/><rect x="166" y="90" width="7" height="7" fill="#70ff00"/><rect x="172" y="90" width="7" height="7" fill="#73ff00"/><rect x="178" y="90" width="7" height="7" fill="#79ff00"/><rect x="184" y="90" width="7" height="7" fill="#7cff00"/><rect x="190" y="90" width="7" height="7" fill="#7bfa00"/><rect x="196" y="90" width="7" height="7" fill="#7afa00"/><rect x="202" y="90" width="7" height="7" fill="#79fa00"/><rect x="208" y="90" width="7" height="7" fill="#7bfa00"/><rect x="214" y="90" width="7" height="7" fill="#7dfa00"/><rect x="220" y="90" width="7" height="7" fill="#7efa00"/><rect x="226" y="90" width="19" height="7" fill="#7ffa00"/><rect x="22" y="96" width="19" height="7" fill="#6ef000"/><rect x="40" y="96" width="7" height="7" fill="#6df000"/><rect x="46" y="96" width="7" height="7" fill="#6ef000"/><rect x="52" y="96" width="7" height="7" fill="#73f000"/><rect x="58" y="96" width="7" height="7" fill="#7aeb00"/><rect x="64" y="96" width="7" height="7" fill="#80eb00"/><rect x="70" y="96" width="7" height="7" fill="#85e600"/><rect x="76" y="96" width="7" height="7" fill="#8ae100"/><rect x="82" y="96" width="7" height="7" fill="#8ee100"/><rect x="88" y="96" width="7" height="7" fill="#8fdc00"/><rect x="94" y="96" width="7" height="7" fill="#90dc00"/><rect x="100" y="96" width="7" height="7" fill="#8fdc00"/><rect x="106" y="96" width="7" height="7" fill="#8be100"/><rect x="112" y="96" width="7" height="7" fill="#86e100"/><rect x="118" y="96" width="7" height="7" fill="#80e600"/><rect x="124" y="96" width="7" height="7" fill="#79e600"/><rect x="130" y="96" width="7" height="7" fill="#74eb00"/><rect x="136" y="96" width="7" height="7" fill="#75f000"/><rect x="142" y="96" width="7" height="7" fill="#7af500"/><rect x="148" y="96" width="7" height="7" fill="#7dfa00"/><rect x="154" y="96" width="7" height="7" fill="#7bff00"/><rect x="160" y="96" width="7" height="7" fill="#75ff00"/><rect x="166" y="96" width="7" height="7" fill="#72ff00"/><rect x="172" y="96" width="7" height="7" fill="#74ff00"/><rect x="178" y="96" width="7" height="7" fill="#79ff00"/><rect x="184" y="96" width="13" height="7" fill="#7cfa00"/><rect x="196" y="96" width="7" height="7" fill="#7af500"/><rect x="202" y="96" width="7" height="7" fill="#78f500"/><rect x="208" y="96" width="7" height="7" fill="#78f000"/><rect x="214" y="96" width="7" height="7" fill="#7af000"/><rect x="220" y="96" width="7" height="7" fill="#7bf000"/><rect x="226" y="96" width="19" height="7" fill="#7cf000"/><rect x="22" y="102" width="19" height="7" fill="#6ef000"/><rect x="40" y="102" width="7" height="7" fill="#6cf000"/><rect x="46" y="102" width="7" height="7" fill="#6df000"/><rect x="52" y="102" width="7" height="7" fill="#73f000"/><rect x="58" y="102" width="7" height="7" fill="#7beb00"/><rect x="64" y="102" width="7" height="7" fill="#80eb00"/><rect x="70" y="102" width="7" height="7" fill="#85e600"/><rect x="76" y="102" width="7" height="7" fill="#8ae100"/><rect x="82" y="102" width="7" height="7" fill="#8ee100"/><rect x="88" y="102" width="13" height="7" fill="#8fdc00"/><rect x="100" y="102" width="7" height="7" fill="#8edc00"/><rect x="106" y="102" width="7" height="7" fill="#8ae100"/><rect x="112" y="102" width="7" height="7" fill="#84e100"/><rect x="118" y="102" width="7" height="7" fill="#7ee600"/><rect x="124" y="102" width="7" height="7" fill="#78e600"/><rect x="130" y="102" width="7" height="7" fill="#73eb00"/><rect x="136" y="102" width="7" height="7" fill="#75f000"/><rect x="142" y="102" width="7" height="7" fill="#79f500"/><rect x="148" y="102" width="7" height="7" fill="#7dfa00"/><rect x="154" y="102" width="7" height="7" fill="#7cff00"/><rect x="160" y="102" width="7" height="7" fill="#77ff00"/><rect x="166" y="102" width="7" height="7" fill="#75ff00"/><rect x="172" y="102" width="7" height="7" fill="#76ff00"/><rect x="178" y="102" width="7" height="7" fill="#79fa00"/><rect x="184" y="102" width="7" height="7" fill="#7cfa00"/><rect x="190" y="102" width="7" height="7" fill="#7cf500"/><rect x="196" y="102" width="7" height="7" fill="#7bf000"/><rect x="202" y="102" width="7" height="7" fill="#77f000"/><rect x="208" y="102" width="7" height="7" fill="#76eb00"/><rect x="214" y="102" width="7" height="7" fill="#76e600"/><rect x="220" y="102" width="7" height="7" fill="#77e600"/><rect x="226" y="102" width="19" height="7" fill="#78e600"/><rect x="22" y="108" width="19" height="7" fill="#6df000"/><rect x="40" y="108" width="13" height="7" fill="#6bf000"/><rect x="52" y="108" width="7" height="7" fill="#72f000"/><rect x="58" y="108" width="7" height="7" fill="#7beb00"/><rect x="64" y="108" width="7" height="7" fill="#81eb00"/><rect x="70" y="108" width="7" height="7" fill="#85e600"/><rect x="76" y="108" width="7" height="7" fill="#8ae100"/><rect x="82" y="108" width="7" height="7" fill="#8de100"/><rect x="88" y="108" width="13" height="7" fill="#8fdc00"/><rect x="100" y="108" width="7" height="7" fill="#8ddc00"/><rect x="106" y="108" width="7" height="7" fill="#88e100"/><rect x="112" y="108" width="7" height="7" fill="#82e100"/><rect x="118" y="108" width="7" height="7" fill="#7ce600"/><rect x="124" y="108" width="7" height="7" fill="#76e600"/><rect x="130" y="108" width="7" height="7" fill="#73eb00"/><rect x="136" y="108" width="7" height="7" fill="#74f000"/><rect x="142" y="108" width="7" height="7" fill="#78f500"/><rect x="148" y="108" width="7" height="7" fill="#7dfa00"/><rect x="154" y="108" width="7" height="7" fill="#7eff00"/><rect x="160" y="108" width="7" height="7" fill="#7aff00"/><rect x="166" y="108" width="7" height="7" fill="#77ff00"/><rect x="172" y="108" width="7" height="7" fill="#76ff00"/><rect x="178" y="108" width="7" height="7" fill="#78fa00"/><rect x="184" y="108" width="7" height="7" fill="#7bf500"/><rect x="190" y="108" width="7" height="7" fill="#7df000"/><rect x="196" y="108" width="7" height="7" fill="#7beb00"/><rect x="202" y="108" width="7" height="7" fill="#76eb00"/><rect x="208" y="108" width="7" height="7" fill="#73e600"/><rect x="214" y="108" width="7" height="7" fill="#72e100"/><rect x="220" y="108" width="7" height="7" fill="#73e100"/><rect x="226" y="108" width="19" height="7" fill="#74e100"/><rect x="22" y="114" width="19" height="7" fill="#6bf000"/><rect x="40" y="114" width="7" height="7" fill="#69f000"/><rect x="46" y="114" width="7" height="7" fill="#6af000"/><rect x="52" y="114" width="7" height="7" fill="#72f000"/><rect x="58" y="114" width="7" height="7" fill="#7ceb00"/><rect x="64" y="114" width="7" height="7" fill="#81eb00"/><rect x="70" y="114" width="7" height="7" fill="#85e600"/><rect x="76" y="114" width="7" height="7" fill="#8ae100"/><rect x="82" y="114" width="7" height="7" fill="#8de100"/><rect x="88" y="114" width="13" height="7" fill="#8edc00"/><rect x="100" y="114" width="7" height="7" fill="#8cdc00"/><rect x="106" y="114" width="7" height="7" fill="#86e100"/><rect x="112" y="114" width="7" height="7" fill="#80e100"/><rect x="118" y="114" width="7" height="7" fill="#7ae600"/><rect x="124" y="114" width="7" height="7" fill="#75e600"/><rect x="130" y="114" width="7" height="7" fill="#73eb00"/><rect x="136" y="114" width="7" height="7" fill="#74f000"/><rect x="142" y="114" width="7" height="7" fill="#77f500"/><rect x="148" y="114" width="7" height="7" fill="#7efa00"/><rect x="154" y="114" width="7" height="7" fill="#80ff00"/><rect x="160" y="114" width="7" height="7" fill="#7dff00"/><rect x="166" y="114" width="7" height="7" fill="#79ff00"/><rect x="172" y="114" width="7" height="7" fill="#77ff00"/><rect x="178" y="114" width="7" height="7" fill="#78fa00"/><rect x="184" y="114" width="7" height="7" fill="#7bf500"/><rect x="190" y="114" width="7" height="7" fill="#7ef000"/><rect x="196" y="114" width="7" height="7" fill="#7ce600"/><rect x="202" y="114" width="7" height="7" fill="#76e100"/><rect x="208" y="114" width="7" height="7" fill="#71dc00"/><rect x="214" y="114" width="13" height="7" fill="#6fd700"/><rect x="226" y="114" width="19" height="7" fill="#70d700"/><rect x="22" y="120" width="19" height="7" fill="#6af000"/><rect x="40" y="120" width="7" height="7" fill="#68f000"/><rect x="46" y="120" width="7" height="7" fill="#69f000"/><rect x="52" y="120" width="7" height="7" fill="#71f000"/><rect x="58" y="120" width="7" height="7" fill="#7ceb00"/><rect x="64" y="120" width="7" height="7" fill="#81eb00"/><rect x="70" y="120" width="7" height="7" fill="#85e600"/><rect x="76" y="120" width="7" height="7" fill="#89e100"/><rect x="82" y="120" width="7" height="7" fill="#8ce100"/><rect x="88" y="120" width="13" height="7" fill="#8ddc00"/><rect x="100" y="120" width="7" height="7" fill="#8adc00"/><rect x="106" y="120" width="7" height="7" fill="#84e100"/><rect x="112" y="120" width="7" height="7" fill="#7ee100"/><rect x="118" y="120" width="7" height="7" fill="#78e600"/><rect x="124" y="120" width="7" height="7" fill="#75e600"/><rect x="130" y="120" width="7" height="7" fill="#73eb00"/><rect x="136" y="120" width="7" height="7" fill="#74f000"/><rect x="142" y="120" width="7" height="7" fill="#77f500"/><rect x="148" y="120" width="7" height="7" fill="#7efa00"/><rect x="154" y="120" width="7" height="7" fill="#81ff00"/><rect x="160" y="120" width="7" height="7" fill="#7fff00"/><rect x="166" y="120" width="7" height="7" fill="#7bff00"/><rect x="172" y="120" width="7" height="7" fill="#78ff00"/><rect x="178" y="120" width="7" height="7" fill="#78fa00"/><rect x="184" y="120" width="7" height="7" fill="#7bf000"/><rect x="190" y="120" width="7" height="7" fill="#7feb00"/><rect x="196" y="120" width="7" height="7" fill="#7de600"/><rect x="202" y="120" width="7" height="7" fill="#76dc00"/><rect x="208" y="120" width="7" height="7" fill="#70d700"/><rect x="214" y="120" width="13" height="7" fill="#6dd200"/><rect x="226" y="120" width="19" height="7" fill="#6ed200"/><rect x="22" y="126" width="19" height="7" fill="#69f000"/><rect x="40" y="126" width="7" height="7" fill="#67f000"/><rect x="46" y="126" width="7" height="7" fill="#68f000"/><rect x="52" y="126" width="7" height="7" fill="#71f000"/><rect x="58" y="126" width="7" height="7" fill="#7ceb00"/><rect x="64" y="126" width="7" height="7" fill="#81eb00"/><rect x="70" y="126" width="7" height="7" fill="#85e600"/><rect x="76" y="126" width="7" height="7" fill="#89e100"/><rect x="82" y="126" width="7" height="7" fill="#8be100"/><rect x="88" y="126" width="7" height="7" fill="#8ddc00"/><rect x="94" y="126" width="7" height="7" fill="#8cdc00"/><rect x="100" y="126" width="7" height="7" fill="#89dc00"/><rect x="106" y="126" width="7" height="7" fill="#83e100"/><rect x="112" y="126" width="7" height="7" fill="#7ce100"/><rect x="118" y="126" width="7" height="7" fill="#77e600"/><rect x="124" y="126" width="7" height="7" fill="#74e600"/><rect x="130" y="126" width="7" height="7" fill="#74eb00"/><rect x="136" y="126" width="7" height="7" fill="#74f000"/><rect x="142" y="126" width="7" height="7" fill="#77f500"/><rect x="148" y="126" width="7" height="7" fill="#7ffa00"/><rect x="154" y="126" width="7" height="7" fill="#83ff00"/><rect x="160" y="126" width="7" height="7" fill="#81ff00"/><rect x="166" y="126" width="7" height="7" fill="#7dff00"/><rect x="172" y="126" width="7" height="7" fill="#79ff00"/><rect x="178" y="126" width="7" height="7" fill="#79f500"/><rect x="184" y="126" width="7" height="7" fill="#7cf000"/><rect x="190" y="126" width="7" height="7" fill="#80e600"/><rect x="196" y="126" width="7" height="7" fill="#7ee100"/><rect x="202" y="126" width="7" height="7" fill="#76d700"/><rect x="208" y="126" width="7" height="7" fill="#70d200"/><rect x="214" y="126" width="13" height="7" fill="#6cc800"/><rect x="226" y="126" width="19" height="7" fill="#6dc800"/><rect x="22" y="132" width="19" height="7" fill="#68f000"/><rect x="40" y="132" width="7" height="7" fill="#66f000"/><rect x="46" y="132" width="7" height="7" fill="#67f000"/><rect x="52" y="132" width="7" height="7" fill="#70f000"/><rect x="58" y="132" width="7" height="7" fill="#7beb00"/><rect x="64" y="132" width="7" height="7" fill="#81eb00"/><rect x="70" y="132" width="7" height="7" fill="#84e600"/><rect x="76" y="132" width="7" height="7" fill="#88e100"/><rect x="82" y="132" width="7" height="7" fill="#8ae100"/><rect x="88" y="132" width="13" height="7" fill="#8bdc00"/><rect x="100" y="132" width="7" height="7" fill="#88dc00"/><rect x="106" y="132" width="7" height="7" fill="#81e100"/><rect x="112" y="132" width="7" height="7" fill="#7be100"/><rect x="118" y="132" width="7" height="7" fill="#76e600"/><rect x="124" y="132" width="7" height="7" fill="#74e600"/><rect x="130" y="132" width="7" height="7" fill="#74eb00"/><rect x="136" y="132" width="7" height="7" fill="#75f000"/><rect x="142" y="132" width="7" height="7" fill="#78f500"/><rect x="148" y="132" width="7" height="7" fill="#7ffa00"/><rect x="154" y="132" width="7" height="7" fill="#84ff00"/><rect x="160" y="132" width="7" height="7" fill="#83ff00"/><rect x="166" y="132" width="7" height="7" fill="#7fff00"/><rect x="172" y="132" width="7" height="7" fill="#7aff00"/><rect x="178" y="132" width="7" height="7" fill="#7af500"/><rect x="184" y="132" width="7" height="7" fill="#7deb00"/><rect x="190" y="132" width="7" height="7" fill="#81e100"/><rect x="196" y="132" width="7" height="7" fill="#7fdc00"/><rect x="202" y="132" width="7" height="7" fill="#77d200"/><rect x="208" y="132" width="7" height="7" fill="#70cd00"/><rect x="214" y="132" width="13" height="7" fill="#6cc800"/><rect x="226" y="132" width="19" height="7" fill="#6dc800"/><rect x="22" y="138" width="19" height="7" fill="#67f000"/><rect x="40" y="138" width="7" height="7" fill="#65f000"/><rect x="46" y="138" width="7" height="7" fill="#66f000"/><rect x="52" y="138" width="7" height="7" fill="#70f000"/><rect x="58" y="138" width="7" height="7" fill="#7beb00"/><rect x="64" y="138" width="7" height="7" fill="#81eb00"/><rect x="70" y="138" width="7" height="7" fill="#84e600"/><rect x="76" y="138" width="7" height="7" fill="#87e100"/><rect x="82" y="138" width="7" height="7" fill="#89e100"/><rect x="88" y="138" width="7" height="7" fill="#8adc00"/><rect x="94" y="138" width="7" height="7" fill="#89dc00"/><rect x="100" y="138" width="7" height="7" fill="#86dc00"/><rect x="106" y="138" width="7" height="7" fill="#80e100"/><rect x="112" y="138" width="7" height="7" fill="#7ae100"/><rect x="118" y="138" width="7" height="7" fill="#75e600"/><rect x="124" y="138" width="7" height="7" fill="#74e600"/><rect x="130" y="138" width="7" height="7" fill="#75eb00"/><rect x="136" y="138" width="7" height="7" fill="#76f000"/><rect x="142" y="138" width="7" height="7" fill="#79f500"/><rect x="148" y="138" width="7" height="7" fill="#80fa00"/><rect x="154" y="138" width="13" height="7" fill="#85ff00"/><rect x="166" y="138" width="7" height="7" fill="#80ff00"/><rect x="172" y="138" width="7" height="7" fill="#7bff00"/><rect x="178" y="138" width="7" height="7" fill="#7bf500"/><rect x="184" y="138" width="7" height="7" fill="#7eeb00"/><rect x="190" y="138" width="7" height="7" fill="#83e100"/><rect x="196" y="138" width="7" height="7" fill="#81d700"/><rect x="202" y="138" width="7" height="7" fill="#78d200"/><rect x="208" y="138" width="7" height="7" fill="#71c800"/><rect x="214" y="138" width="13" height="7" fill="#6dc300"/><rect x="226" y="138" width="19" height="7" fill="#6ec300"/><rect x="22" y="144" width="19" height="7" fill="#66f000"/><rect x="40" y="144" width="7" height="7" fill="#64f000"/><rect x="46" y="144" width="7" height="7" fill="#66f000"/><rect x="52" y="144" width="7" height="7" fill="#6ff000"/><rect x="58" y="144" width="7" height="7" fill="#7aeb00"/><rect x="64" y="144" width="7" height="7" fill="#80eb00"/><rect x="70" y="144" width="7" height="7" fill="#83e600"/><rect x="76" y="144" width="7" height="7" fill="#86e100"/><rect x="82" y="144" width="7" height="7" fill="#88e100"/><rect x="88" y="144" width="7" height="7" fill="#89dc00"/><rect x="94" y="144" width="7" height="7" fill="#88dc00"/><rect x="100" y="144" width="7" height="7" fill="#85dc00"/><rect x="106" y="144" width="7" height="7" fill="#7fe100"/><rect x="112" y="144" width="7" height="7" fill="#79e100"/><rect x="118" y="144" width="7" height="7" fill="#75e600"/><rect x="124" y="144" width="7" height="7" fill="#74e600"/><rect x="130" y="144" width="7" height="7" fill="#76eb00"/><rect x="136" y="144" width="7" height="7" fill="#77f000"/><rect x="142" y="144" width="7" height="7" fill="#7af500"/><rect x="148" y="144" width="7" height="7" fill="#82fa00"/><rect x="154" y="144" width="13" height="7" fill="#86ff00"/><rect x="166" y="144" width="7" height="7" fill="#81ff00"/><rect x="172" y="144" width="7" height="7" fill="#7cff00"/><rect x="178" y="144" width="7" height="7" fill="#7cf500"/><rect x="184" y="144" width="7" height="7" fill="#80e600"/><rect x="190" y="144" width="7" height="7" fill="#85dc00"/><rect x="196" y="144" width="7" height="7" fill="#82d200"/><rect x="202" y="144" width="7" height="7" fill="#7acd00"/><rect x="208" y="144" width="7" height="7" fill="#73c300"/><rect x="214" y="144" width="13" height="7" fill="#6fbe00"/><rect x="226" y="144" width="19" height="7" fill="#70be00"/><rect x="22" y="150" width="19" height="7" fill="#65f000"/><rect x="40" y="150" width="7" height="7" fill="#63f000"/><rect x="46" y="150" width="7" height="7" fill="#65f000"/><rect x="52" y="150" width="7" height="7" fill="#6ef000"/><rect x="58" y="150" width="7" height="7" fill="#7aeb00"/><rect x="64" y="150" width="7" height="7" fill="#80eb00"/><rect x="70" y="150" width="7" height="7" fill="#83e600"/><rect x="76" y="150" width="7" height="7" fill="#85e100"/><rect x="82" y="150" width="7" height="7" fill="#87e100"/><rect x="88" y="150" width="7" height="7" fill="#87dc00"/><rect x="94" y="150" width="7" height="7" fill="#86dc00"/><rect x="100" y="150" width="7" height="7" fill="#83dc00"/><rect x="106" y="150" width="7" height="7" fill="#7de100"/><rect x="112" y="150" width="7" height="7" fill="#78e100"/><rect x="118" y="150" width="13" height="7" fill="#75e600"/><rect x="130" y="150" width="7" height="7" fill="#77eb00"/><rect x="136" y="150" width="7" height="7" fill="#79f000"/><rect x="142" y="150" width="7" height="7" fill="#7cf500"/><rect x="148" y="150" width="7" height="7" fill="#83fa00"/><rect x="154" y="150" width="13" height="7" fill="#87ff00"/><rect x="166" y="150" width="7" height="7" fill="#82ff00"/><rect x="172" y="150" width="7" height="7" fill="#7dff00"/><rect x="178" y="150" width="7" height="7" fill="#7ef000"/><rect x="184" y="150" width="7" height="7" fill="#82e600"/><rect x="190" y="150" width="7" height="7" fill="#87d700"/><rect x="196" y="150" width="7" height="7" fill="#84cd00"/><rect x="202" y="150" width="7" height="7" fill="#7cc800"/><rect x="208" y="150" width="7" height="7" fill="#76be00"/><rect x="214" y="150" width="13" height="7" fill="#72b900"/><rect x="226" y="150" width="19" height="7" fill="#73b900"/><rect x="22" y="156" width="19" height="7" fill="#64f000"/><rect x="40" y="156" width="7" height="7" fill="#63f000"/><rect x="46" y="156" width="7" height="7" fill="#65f000"/><rect x="52" y="156" width="7" height="7" fill="#6ef000"/><rect x="58" y="156" width="7" height="7" fill="#79eb00"/><rect x="64" y="156" width="7" height="7" fill="#7feb00"/><rect x="70" y="156" width="7" height="7" fill="#82e600"/><rect x="76" y="156" width="7" height="7" fill="#84e100"/><rect x="82" y="156" width="7" height="7" fill="#85e100"/><rect x="88" y="156" width="7" height="7" fill="#85dc00"/><rect x="94" y="156" width="7" height="7" fill="#84dc00"/><rect x="100" y="156" width="7" height="7" fill="#82dc00"/><rect x="106" y="156" width="7" height="7" fill="#7ce100"/><rect x="112" y="156" width="7" height="7" fill="#78e100"/><rect x="118" y="156" width="7" height="7" fill="#75e600"/><rect x="124" y="156" width="7" height="7" fill="#76e600"/><rect x="130" y="156" width="7" height="7" fill="#79eb00"/><rect x="136" y="156" width="7" height="7" fill="#7bf000"/><rect x="142" y="156" width="7" height="7" fill="#7ef500"/><rect x="148" y="156" width="7" height="7" fill="#84fa00"/><rect x="154" y="156" width="13" height="7" fill="#88ff00"/><rect x="166" y="156" width="7" height="7" fill="#83ff00"/><rect x="172" y="156" width="7" height="7" fill="#7dff00"/><rect x="178" y="156" width="7" height="7" fill="#80f000"/><rect x="184" y="156" width="7" height="7" fill="#85e100"/><rect x="190" y="156" width="7" height="7" fill="#89d700"/><rect x="196" y="156" width="7" height="7" fill="#86cd00"/><rect x="202" y="156" width="7" height="7" fill="#7fc300"/><rect x="208" y="156" width="7" height="7" fill="#79be00"/><rect x="214" y="156" width="13" height="7" fill="#76b400"/><rect x="226" y="156" width="19" height="7" fill="#77b400"/><rect x="22" y="162" width="19" height="7" fill="#63f000"/><rect x="40" y="162" width="7" height="7" fill="#62f000"/><rect x="46" y="162" width="7" height="7" fill="#64f000"/><rect x="52" y="162" width="7" height="7" fill="#6df000"/><rect x="58" y="162" width="7" height="7" fill="#78eb00"/><rect x="64" y="162" width="7" height="7" fill="#7eeb00"/><rect x="70" y="162" width="7" height="7" fill="#82e600"/><rect x="76" y="162" width="7" height="7" fill="#83e100"/><rect x="82" y="162" width="7" height="7" fill="#84e100"/><rect x="88" y="162" width="7" height="7" fill="#84dc00"/><rect x="94" y="162" width="7" height="7" fill="#83dc00"/><rect x="100" y="162" width="7" height="7" fill="#80dc00"/><rect x="106" y="162" width="7" height="7" fill="#7be100"/><rect x="112" y="162" width="7" height="7" fill="#77e100"/><rect x="118" y="162" width="7" height="7" fill="#76e600"/><rect x="124" y="162" width="7" height="7" fill="#77e600"/><rect x="130" y="162" width="7" height="7" fill="#7aeb00"/><rect x="136" y="162" width="7" height="7" fill="#7df000"/><rect x="142" y="162" width="7" height="7" fill="#80f500"/><rect x="148" y="162" width="7" height="7" fill="#86fa00"/><rect x="154" y="162" width="7" height="7" fill="#89ff00"/><rect x="160" y="162" width="7" height="7" fill="#88ff00"/><rect x="166" y="162" width="7" height="7" fill="#83ff00"/><rect x="172" y="162" width="7" height="7" fill="#7eff00"/><rect x="178" y="162" width="7" height="7" fill="#82f000"/><rect x="184" y="162" width="7" height="7" fill="#88e100"/><rect x="190" y="162" width="7" height="7" fill="#8bd200"/><rect x="196" y="162" width="7" height="7" fill="#88c800"/><rect x="202" y="162" width="7" height="7" fill="#82be00"/><rect x="208" y="162" width="7" height="7" fill="#7db900"/><rect x="214" y="162" width="13" height="7" fill="#7ab400"/><rect x="226" y="162" width="19" height="7" fill="#7bb400"/><rect x="22" y="168" width="19" height="7" fill="#63f000"/><rect x="40" y="168" width="7" height="7" fill="#62f000"/><rect x="46" y="168" width="7" height="7" fill="#64f000"/><rect x="52" y="168" width="7" height="7" fill="#6df000"/><rect x="58" y="168" width="7" height="7" fill="#78eb00"/><rect x="64" y="168" width="7" height="7" fill="#7eeb00"/><rect x="70" y="168" width="7" height="7" fill="#82e600"/><rect x="76" y="168" width="7" height="7" fill="#83e100"/><rect x="82" y="168" width="7" height="7" fill="#84e100"/><rect x="88" y="168" width="7" height="7" fill="#84dc00"/><rect x="94" y="168" width="7" height="7" fill="#83dc00"/><rect x="100" y="168" width="7" height="7" fill="#80dc00"/><rect x="106" y="168" width="7" height="7" fill="#7be100"/><rect x="112" y="168" width="7" height="7" fill="#77e100"/><rect x="118" y="168" width="7" height="7" fill="#76e600"/><rect x="124" y="168" width="7" height="7" fill="#77e600"/><rect x="130" y="168" width="7" height="7" fill="#7aeb00"/><rect x="136" y="168" width="7" height="7" fill="#7df000"/><rect x="142" y="168" width="7" height="7" fill="#80f500"/><rect x="148" y="168" width="7" height="7" fill="#86fa00"/><rect x="154" y="168" width="7" height="7" fill="#89ff00"/><rect x="160" y="168" width="7" height="7" fill="#88ff00"/><rect x="166" y="168" width="7" height="7" fill="#83ff00"/><rect x="172" y="168" width="7" height="7" fill="#7eff00"/><rect x="178" y="168" width="7" height="7" fill="#82f000"/><rect x="184" y="168" width="7" height="7" fill="#88e100"/><rect x="190" y="168" width="7" height="7" fill="#8bd200"/><rect x="196" y="168" width="7" height="7" fill="#88c800"/><rect x="202" y="168" width="7" height="7" fill="#82be00"/><rect x="208" y="168" width="7" height="7" fill="#7db900"/><rect x="214" y="168" width="13" height="7" fill="#7ab400"/><rect x="226" y="168" width="19" height="7" fill="#7bb400"/><rect x="22" y="174" width="19" height="7" fill="#63f000"/><rect x="40" y="174" width="7" height="7" fill="#62f000"/><rect x="46" y="174" width="7" height="7" fill="#64f000"/><rect x="52" y="174" width="7" height="7" fill="#6df000"/><rect x="58" y="174" width="7" height="7" fill="#78eb00"/><rect x="64" y="174" width="7" height="7" fill="#7eeb00"/><rect x="70" y="174" width="7" height="7" fill="#82e600"/><rect x="76" y="174" width="7" height="7" fill="#83e100"/><rect x="82" y="174" width="7" height="7" fill="#84e100"/><rect x="88" y="174" width="7" height="7" fill="#84dc00"/><rect x="94" y="174" width="7" height="7" fill="#83dc00"/><rect x="100" y="174" width="7" height="7" fill="#80dc00"/><rect x="106" y="174" width="7" height="7" fill="#7be100"/><rect x="112" y="174" width="7" height="7" fill="#77e100"/><rect x="118" y="174" width="7" height="7" fill="#76e600"/><rect x="124" y="174" width="7" height="7" fill="#77e600"/><rect x="130" y="174" width="7" height="7" fill="#7aeb00"/><rect x="136" y="174" width="7" height="7" fill="#7df000"/><rect x="142" y="174" width="7" height="7" fill="#80f500"/><rect x="148" y="174" width="7" height="7" fill="#86fa00"/><rect x="154" y="174" width="7" height="7" fill="#89ff00"/><rect x="160" y="174" width="7" height="7" fill="#88ff00"/><rect x="166" y="174" width="7" height="7" fill="#83ff00"/><rect x="172" y="174" width="7" height="7" fill="#7eff00"/><rect x="178" y="174" width="7" height="7" fill="#82f000"/><rect x="184" y="174" width="7" height="7" fill="#88e100"/><rect x="190" y="174" width="7" height="7" fill="#8bd200"/><rect x="196" y="174" width="7" height="7" fill="#88c800"/><rect x="202" y="174" width="7" height="7" fill="#82be00"/><rect x="208" y="174" width="7" height="7" fill="#7db900"/><rect x="214" y="174" width="13" height="7" fill="#7ab400"/><rect x="226" y="174" width="19" height="7" fill="#7bb400"/><rect x="22" y="180" width="19" height="7" fill="#63f000"/><rect x="40" y="180" width="7" height="7" fill="#62f000"/><rect x="46" y="180" width="7" height="7" fill="#64f000"/><rect x="52" y="180" width="7" height="7" fill="#6df000"/><rect x="58" y="180" width="7" height="7" fill="#78eb00"/><rect x="64" y="180" width="7" height="7" fill="#7eeb00"/><rect x="70" y="180" width="7" height="7" fill="#82e600"/><rect x="76" y="180" width="7" height="7" fill="#83e100"/><rect x="82" y="180" width="7" height="7" fill="#84e100"/><rect x="88" y="180" width="7" height="7" fill="#84dc00"/><rect x="94" y="180" width="7" height="7" fill="#83dc00"/><rect x="100" y="180" width="7" height="7" fill="#80dc00"/><rect x="106" y="180" width="7" height="7" fill="#7be100"/><rect x="112" y="180" width="7" height="7" fill="#77e100"/><rect x="118" y="180" width="7" height="7" fill="#76e600"/><rect x="124" y="180" width="7" height="7" fill="#77e600"/><rect x="130" y="180" width="7" height="7" fill="#7aeb00"/><rect x="136" y="180" width="7" height="7" fill="#7df000"/><rect x="142" y="180" width="7" height="7" fill="#80f500"/><rect x="148" y="180" width="7" height="7" fill="#86fa00"/><rect x="154" y="180" width="7" height="7" fill="#89ff00"/><rect x="160" y="180" width="7" height="7" fill="#88ff00"/><rect x="166" y="180" width="7" height="7" fill="#83ff00"/><rect x="172" y="180" width="7" height="7" fill="#7eff00"/><rect x="178" y="180" width="7" height="7" fill="#82f000"/><rect x="184" y="180" width="7" height="7" fill="#88e100"/><rect x="190" y="180" width="7" height="7" fill="#8bd200"/><rect x="196" y="180" width="7" height="7" fill="#88c800"/><rect x="202" y="180" width="7" height="7" fill="#82be00"/><rect x="208" y="180" width="7" height="7" fill="#7db900"/><rect x="214" y="180" width="13" height="7" fill="#7ab400"/><rect x="226" y="180" width="19" height="7" fill="#7bb400"/></g></g>
<rect x="39.5" y="11.5" width="187" height="153" fill="none" stroke="#000" stroke-width="1"/>
<text class="tk" x="74.50" y="174.4" text-anchor="middle">100</text>
<text class="tk" x="109.30" y="174.4" text-anchor="middle">200</text>
<text class="tk" x="144.10" y="174.4" text-anchor="middle">300</text>
<text class="tk" x="178.90" y="174.4" text-anchor="middle">400</text>
<text class="tk" x="213.70" y="174.4" text-anchor="middle">500</text>
<text class="tk" x="36.4" y="30.20" text-anchor="end">100</text>
<text class="tk" x="36.4" y="45.40" text-anchor="end">200</text>
<text class="tk" x="36.4" y="60.60" text-anchor="end">300</text>
<text class="tk" x="36.4" y="75.80" text-anchor="end">400</text>
<text class="tk" x="36.4" y="91.00" text-anchor="end">500</text>
<text class="tk" x="36.4" y="106.20" text-anchor="end">600</text>
<text class="tk" x="36.4" y="121.40" text-anchor="end">700</text>
<text class="tk" x="36.4" y="136.60" text-anchor="end">800</text>
<text class="tk" x="36.4" y="151.80" text-anchor="end">900</text>
<text class="tk" x="36.4" y="167.00" text-anchor="end">1000</text>
<path d="M74.50 164v-2M74.50 12v2M109.30 164v-2M109.30 12v2M144.10 164v-2M144.10 12v2M178.90 164v-2M178.90 12v2M213.70 164v-2M213.70 12v2M40 26.70h2M226 26.70h-2M40 41.90h2M226 41.90h-2M40 57.10h2M226 57.10h-2M40 72.30h2M226 72.30h-2M40 87.50h2M226 87.50h-2M40 102.70h2M226 102.70h-2M40 117.90h2M226 117.90h-2M40 133.10h2M226 133.10h-2M40 148.30h2M226 148.30h-2" stroke="#000" stroke-width=".6" fill="none"/>
<text class="tt" x="132.5" y="10.6" text-anchor="middle" textLength="245" lengthAdjust="spacingAndGlyphs">Phase 20201216_VV-20190613_VV (bn:-208m, hamb:-87.2m)</text>
<text class="lb" x="138.6" y="183.6" text-anchor="middle" textLength="54" lengthAdjust="spacingAndGlyphs">Azimuth [px]</text>
<text class="lb" transform="translate(11.399999999999999,83.9) rotate(-90)" text-anchor="middle" textLength="40.8" lengthAdjust="spacingAndGlyphs">Range [px]</text>
<text class="cp" x="138.4" y="194.4" text-anchor="middle" textLength="9.4" lengthAdjust="spacingAndGlyphs">(a)</text>
<rect x="232.5" y="11.5" width="13" height="153" fill="url(#jet)" stroke="#222" stroke-width="1"/>
<text class="tk" x="248.9" y="162.17">-3</text>
<path d="M232.5 160.57h1.5M245.5 160.57h-1.5" stroke="#000" stroke-width=".5"/>
<text class="tk" x="248.9" y="137.98">-2</text>
<path d="M232.5 136.38h1.5M245.5 136.38h-1.5" stroke="#000" stroke-width=".5"/>
<text class="tk" x="248.9" y="113.79">-1</text>
<path d="M232.5 112.19h1.5M245.5 112.19h-1.5" stroke="#000" stroke-width=".5"/>
<text class="tk" x="250.1" y="89.60">0</text>
<path d="M232.5 88.00h1.5M245.5 88.00h-1.5" stroke="#000" stroke-width=".5"/>
<text class="tk" x="250.1" y="65.41">1</text>
<path d="M232.5 63.81h1.5M245.5 63.81h-1.5" stroke="#000" stroke-width=".5"/>
<text class="tk" x="250.1" y="41.22">2</text>
<path d="M232.5 39.62h1.5M245.5 39.62h-1.5" stroke="#000" stroke-width=".5"/>
<text class="tk" x="250.1" y="17.03">3</text>
<path d="M232.5 15.43h1.5M245.5 15.43h-1.5" stroke="#000" stroke-width=".5"/>
<text class="tk" x="230.5" y="174.2" textLength="18.5" lengthAdjust="spacingAndGlyphs">[rad]</text>
<text class="lb" transform="translate(268.4,85.2) rotate(-90)" text-anchor="middle" textLength="25" lengthAdjust="spacingAndGlyphs">Phase</text>
<g clip-path="url(#clipb)"><g filter="url(#fb)"><rect x="297" y="-6" width="19" height="7" fill="#73f000"/><rect x="315" y="-6" width="13" height="7" fill="#74f000"/><rect x="327" y="-6" width="7" height="7" fill="#75f000"/><rect x="333" y="-6" width="7" height="7" fill="#78eb00"/><rect x="339" y="-6" width="7" height="7" fill="#7ce600"/><rect x="345" y="-6" width="7" height="7" fill="#81e100"/><rect x="351" y="-6" width="7" height="7" fill="#87d700"/><rect x="357" y="-6" width="7" height="7" fill="#8dd200"/><rect x="363" y="-6" width="7" height="7" fill="#93cd00"/><rect x="369" y="-6" width="7" height="7" fill="#98cd00"/><rect x="375" y="-6" width="7" height="7" fill="#9ccd00"/><rect x="381" y="-6" width="7" height="7" fill="#9fcd00"/><rect x="387" y="-6" width="7" height="7" fill="#9ecd00"/><rect x="393" y="-6" width="7" height="7" fill="#9bd200"/><rect x="399" y="-6" width="7" height="7" fill="#95dc00"/><rect x="405" y="-6" width="7" height="7" fill="#8de600"/><rect x="411" y="-6" width="7" height="7" fill="#87eb00"/><rect x="417" y="-6" width="7" height="7" fill="#81f000"/><rect x="423" y="-6" width="7" height="7" fill="#7af000"/><rect x="429" y="-6" width="7" height="7" fill="#72f000"/><rect x="435" y="-6" width="7" height="7" fill="#6be600"/><rect x="441" y="-6" width="7" height="7" fill="#68e600"/><rect x="447" y="-6" width="7" height="7" fill="#69e600"/><rect x="453" y="-6" width="7" height="7" fill="#6deb00"/><rect x="459" y="-6" width="7" height="7" fill="#72f500"/><rect x="465" y="-6" width="7" height="7" fill="#76fa00"/><rect x="471" y="-6" width="7" height="7" fill="#75ff00"/><rect x="477" y="-6" width="7" height="7" fill="#72ff00"/><rect x="483" y="-6" width="7" height="7" fill="#73ff00"/><rect x="489" y="-6" width="7" height="7" fill="#75ff00"/><rect x="495" y="-6" width="25" height="7" fill="#77ff00"/><rect x="297" y="0" width="19" height="7" fill="#73f000"/><rect x="315" y="0" width="13" height="7" fill="#74f000"/><rect x="327" y="0" width="7" height="7" fill="#75f000"/><rect x="333" y="0" width="7" height="7" fill="#78eb00"/><rect x="339" y="0" width="7" height="7" fill="#7ce600"/><rect x="345" y="0" width="7" height="7" fill="#81e100"/><rect x="351" y="0" width="7" height="7" fill="#87d700"/><rect x="357" y="0" width="7" height="7" fill="#8dd200"/><rect x="363" y="0" width="7" height="7" fill="#93cd00"/><rect x="369" y="0" width="7" height="7" fill="#98cd00"/><rect x="375" y="0" width="7" height="7" fill="#9ccd00"/><rect x="381" y="0" width="7" height="7" fill="#9fcd00"/><rect x="387" y="0" width="7" height="7" fill="#9ecd00"/><rect x="393" y="0" width="7" height="7" fill="#9bd200"/><rect x="399" y="0" width="7" height="7" fill="#95dc00"/><rect x="405" y="0" width="7" height="7" fill="#8de600"/><rect x="411" y="0" width="7" height="7" fill="#87eb00"/><rect x="417" y="0" width="7" height="7" fill="#81f000"/><rect x="423" y="0" width="7" height="7" fill="#7af000"/><rect x="429" y="0" width="7" height="7" fill="#72f000"/><rect x="435" y="0" width="7" height="7" fill="#6be600"/><rect x="441" y="0" width="7" height="7" fill="#68e600"/><rect x="447" y="0" width="7" height="7" fill="#69e600"/><rect x="453" y="0" width="7" height="7" fill="#6deb00"/><rect x="459" y="0" width="7" height="7" fill="#72f500"/><rect x="465" y="0" width="7" height="7" fill="#76fa00"/><rect x="471" y="0" width="7" height="7" fill="#75ff00"/><rect x="477" y="0" width="7" height="7" fill="#72ff00"/><rect x="483" y="0" width="7" height="7" fill="#73ff00"/><rect x="489" y="0" width="7" height="7" fill="#75ff00"/><rect x="495" y="0" width="25" height="7" fill="#77ff00"/><rect x="297" y="6" width="19" height="7" fill="#73f000"/><rect x="315" y="6" width="13" height="7" fill="#74f000"/><rect x="327" y="6" width="7" height="7" fill="#75f000"/><rect x="333" y="6" width="7" height="7" fill="#78eb00"/><rect x="339" y="6" width="7" height="7" fill="#7ce600"/><rect x="345" y="6" width="7" height="7" fill="#81e100"/><rect x="351" y="6" width="7" height="7" fill="#87d700"/><rect x="357" y="6" width="7" height="7" fill="#8dd200"/><rect x="363" y="6" width="7" height="7" fill="#93cd00"/><rect x="369" y="6" width="7" height="7" fill="#98cd00"/><rect x="375" y="6" width="7" height="7" fill="#9ccd00"/><rect x="381" y="6" width="7" height="7" fill="#9fcd00"/><rect x="387" y="6" width="7" height="7" fill="#9ecd00"/><rect x="393" y="6" width="7" height="7" fill="#9bd200"/><rect x="399" y="6" width="7" height="7" fill="#95dc00"/><rect x="405" y="6" width="7" height="7" fill="#8de600"/><rect x="411" y="6" width="7" height="7" fill="#87eb00"/><rect x="417" y="6" width="7" height="7" fill="#81f000"/><rect x="423" y="6" width="7" height="7" fill="#7af000"/><rect x="429" y="6" width="7" height="7" fill="#72f000"/><rect x="435" y="6" width="7" height="7" fill="#6be600"/><rect x="441" y="6" width="7" height="7" fill="#68e600"/><rect x="447" y="6" width="7" height="7" fill="#69e600"/><rect x="453" y="6" width="7" height="7" fill="#6deb00"/><rect x="459" y="6" width="7" height="7" fill="#72f500"/><rect x="465" y="6" width="7" height="7" fill="#76fa00"/><rect x="471" y="6" width="7" height="7" fill="#75ff00"/><rect x="477" y="6" width="7" height="7" fill="#72ff00"/><rect x="483" y="6" width="7" height="7" fill="#73ff00"/><rect x="489" y="6" width="7" height="7" fill="#75ff00"/><rect x="495" y="6" width="25" height="7" fill="#77ff00"/><rect x="297" y="12" width="19" height="7" fill="#74f000"/><rect x="315" y="12" width="7" height="7" fill="#75f000"/><rect x="321" y="12" width="7" height="7" fill="#76f000"/><rect x="327" y="12" width="7" height="7" fill="#77f000"/><rect x="333" y="12" width="7" height="7" fill="#79eb00"/><rect x="339" y="12" width="7" height="7" fill="#7de600"/><rect x="345" y="12" width="7" height="7" fill="#82e100"/><rect x="351" y="12" width="7" height="7" fill="#87d700"/><rect x="357" y="12" width="7" height="7" fill="#8dd200"/><rect x="363" y="12" width="7" height="7" fill="#94cd00"/><rect x="369" y="12" width="7" height="7" fill="#99cd00"/><rect x="375" y="12" width="7" height="7" fill="#9dcd00"/><rect x="381" y="12" width="7" height="7" fill="#9fcd00"/><rect x="387" y="12" width="7" height="7" fill="#9ecd00"/><rect x="393" y="12" width="7" height="7" fill="#9bd200"/><rect x="399" y="12" width="7" height="7" fill="#95dc00"/><rect x="405" y="12" width="7" height="7" fill="#8de600"/><rect x="411" y="12" width="7" height="7" fill="#87eb00"/><rect x="417" y="12" width="7" height="7" fill="#81f000"/><rect x="423" y="12" width="7" height="7" fill="#7af000"/><rect x="429" y="12" width="7" height="7" fill="#72f000"/><rect x="435" y="12" width="7" height="7" fill="#6be600"/><rect x="441" y="12" width="7" height="7" fill="#68e600"/><rect x="447" y="12" width="7" height="7" fill="#69e600"/><rect x="453" y="12" width="7" height="7" fill="#6deb00"/><rect x="459" y="12" width="7" height="7" fill="#72f500"/><rect x="465" y="12" width="7" height="7" fill="#76fa00"/><rect x="471" y="12" width="7" height="7" fill="#75ff00"/><rect x="477" y="12" width="13" height="7" fill="#72ff00"/><rect x="489" y="12" width="7" height="7" fill="#75ff00"/><rect x="495" y="12" width="7" height="7" fill="#76ff00"/><rect x="501" y="12" width="19" height="7" fill="#77ff00"/><rect x="297" y="18" width="25" height="7" fill="#76f000"/><rect x="321" y="18" width="7" height="7" fill="#78f000"/><rect x="327" y="18" width="7" height="7" fill="#79f000"/><rect x="333" y="18" width="7" height="7" fill="#7beb00"/><rect x="339" y="18" width="7" height="7" fill="#7fe600"/><rect x="345" y="18" width="7" height="7" fill="#83e100"/><rect x="351" y="18" width="7" height="7" fill="#89d700"/><rect x="357" y="18" width="7" height="7" fill="#8ed200"/><rect x="363" y="18" width="7" height="7" fill="#95cd00"/><rect x="369" y="18" width="7" height="7" fill="#9acd00"/><rect x="375" y="18" width="7" height="7" fill="#9ecd00"/><rect x="381" y="18" width="7" height="7" fill="#a0cd00"/><rect x="387" y="18" width="7" height="7" fill="#9fcd00"/><rect x="393" y="18" width="7" height="7" fill="#9bd200"/><rect x="399" y="18" width="7" height="7" fill="#95dc00"/><rect x="405" y="18" width="7" height="7" fill="#8de600"/><rect x="411" y="18" width="7" height="7" fill="#87eb00"/><rect x="417" y="18" width="7" height="7" fill="#81f000"/><rect x="423" y="18" width="7" height="7" fill="#7af000"/><rect x="429" y="18" width="7" height="7" fill="#72f000"/><rect x="435" y="18" width="7" height="7" fill="#6be600"/><rect x="441" y="18" width="7" height="7" fill="#68e600"/><rect x="447" y="18" width="7" height="7" fill="#69e600"/><rect x="453" y="18" width="7" height="7" fill="#6eeb00"/><rect x="459" y="18" width="7" height="7" fill="#73f500"/><rect x="465" y="18" width="7" height="7" fill="#76fa00"/><rect x="471" y="18" width="7" height="7" fill="#75ff00"/><rect x="477" y="18" width="13" height="7" fill="#72ff00"/><rect x="489" y="18" width="7" height="7" fill="#74ff00"/><rect x="495" y="18" width="7" height="7" fill="#75ff00"/><rect x="501" y="18" width="19" height="7" fill="#76ff00"/><rect x="297" y="24" width="25" height="7" fill="#78f000"/><rect x="321" y="24" width="7" height="7" fill="#7af000"/><rect x="327" y="24" width="7" height="7" fill="#7bf000"/><rect x="333" y="24" width="7" height="7" fill="#7deb00"/><rect x="339" y="24" width="7" height="7" fill="#80e600"/><rect x="345" y="24" width="7" height="7" fill="#85e100"/><rect x="351" y="24" width="7" height="7" fill="#8ad700"/><rect x="357" y="24" width="7" height="7" fill="#90d200"/><rect x="363" y="24" width="7" height="7" fill="#96cd00"/><rect x="369" y="24" width="7" height="7" fill="#9bcd00"/><rect x="375" y="24" width="7" height="7" fill="#9fcd00"/><rect x="381" y="24" width="7" height="7" fill="#a0cd00"/><rect x="387" y="24" width="7" height="7" fill="#9fcd00"/><rect x="393" y="24" width="7" height="7" fill="#9bd200"/><rect x="399" y="24" width="7" height="7" fill="#95dc00"/><rect x="405" y="24" width="7" height="7" fill="#8de600"/><rect x="411" y="24" width="7" height="7" fill="#87eb00"/><rect x="417" y="24" width="7" height="7" fill="#81f000"/><rect x="423" y="24" width="7" height="7" fill="#7af000"/><rect x="429" y="24" width="7" height="7" fill="#72f000"/><rect x="435" y="24" width="7" height="7" fill="#6be600"/><rect x="441" y="24" width="7" height="7" fill="#68e600"/><rect x="447" y="24" width="7" height="7" fill="#69e600"/><rect x="453" y="24" width="7" height="7" fill="#6eeb00"/><rect x="459" y="24" width="7" height="7" fill="#73f500"/><rect x="465" y="24" width="7" height="7" fill="#76fa00"/><rect x="471" y="24" width="7" height="7" fill="#76ff00"/><rect x="477" y="24" width="13" height="7" fill="#72ff00"/><rect x="489" y="24" width="7" height="7" fill="#73ff00"/><rect x="495" y="24" width="25" height="7" fill="#75ff00"/><rect x="297" y="30" width="19" height="7" fill="#79f000"/><rect x="315" y="30" width="7" height="7" fill="#7af000"/><rect x="321" y="30" width="7" height="7" fill="#7bf000"/><rect x="327" y="30" width="7" height="7" fill="#7df000"/><rect x="333" y="30" width="7" height="7" fill="#7feb00"/><rect x="339" y="30" width="7" height="7" fill="#82e600"/><rect x="345" y="30" width="7" height="7" fill="#86e100"/><rect x="351" y="30" width="7" height="7" fill="#8cd700"/><rect x="357" y="30" width="7" height="7" fill="#91d200"/><rect x="363" y="30" width="7" height="7" fill="#97cd00"/><rect x="369" y="30" width="7" height="7" fill="#9ccd00"/><rect x="375" y="30" width="7" height="7" fill="#9fcd00"/><rect x="381" y="30" width="7" height="7" fill="#a0cd00"/><rect x="387" y="30" width="7" height="7" fill="#9fcd00"/><rect x="393" y="30" width="7" height="7" fill="#9ad200"/><rect x="399" y="30" width="7" height="7" fill="#94dc00"/><rect x="405" y="30" width="7" height="7" fill="#8de600"/><rect x="411" y="30" width="7" height="7" fill="#87eb00"/><rect x="417" y="30" width="7" height="7" fill="#81f000"/><rect x="423" y="30" width="7" height="7" fill="#7af000"/><rect x="429" y="30" width="7" height="7" fill="#72f000"/><rect x="435" y="30" width="7" height="7" fill="#6be600"/><rect x="441" y="30" width="7" height="7" fill="#69e600"/><rect x="447" y="30" width="7" height="7" fill="#6ae600"/><rect x="453" y="30" width="7" height="7" fill="#6feb00"/><rect x="459" y="30" width="7" height="7" fill="#73f500"/><rect x="465" y="30" width="7" height="7" fill="#76fa00"/><rect x="471" y="30" width="7" height="7" fill="#76ff00"/><rect x="477" y="30" width="7" height="7" fill="#73ff00"/><rect x="483" y="30" width="7" height="7" fill="#72ff00"/><rect x="489" y="30" width="7" height="7" fill="#73ff00"/><rect x="495" y="30" width="25" height="7" fill="#74ff00"/><rect x="297" y="36" width="19" height="7" fill="#7bf000"/><rect x="315" y="36" width="7" height="7" fill="#7cf000"/><rect x="321" y="36" width="7" height="7" fill="#7df000"/><rect x="327" y="36" width="7" height="7" fill="#7ff000"/><rect x="333" y="36" width="7" height="7" fill="#81eb00"/><rect x="339" y="36" width="7" height="7" fill="#84e600"/><rect x="345" y="36" width="7" height="7" fill="#88e100"/><rect x="351" y="36" width="7" height="7" fill="#8dd700"/><rect x="357" y="36" width="7" height="7" fill="#93d200"/><rect x="363" y="36" width="7" height="7" fill="#98cd00"/><rect x="369" y="36" width="7" height="7" fill="#9dcd00"/><rect x="375" y="36" width="13" height="7" fill="#a0cd00"/><rect x="387" y="36" width="7" height="7" fill="#9ecd00"/><rect x="393" y="36" width="7" height="7" fill="#9ad200"/><rect x="399" y="36" width="7" height="7" fill="#94dc00"/><rect x="405" y="36" width="7" height="7" fill="#8de600"/><rect x="411" y="36" width="7" height="7" fill="#87eb00"/><rect x="417" y="36" width="7" height="7" fill="#81f000"/><rect x="423" y="36" width="7" height="7" fill="#7af000"/><rect x="429" y="36" width="7" height="7" fill="#72f000"/><rect x="435" y="36" width="7" height="7" fill="#6be600"/><rect x="441" y="36" width="7" height="7" fill="#69e600"/><rect x="447" y="36" width="7" height="7" fill="#6ae600"/><rect x="453" y="36" width="7" height="7" fill="#6feb00"/><rect x="459" y="36" width="7" height="7" fill="#74f500"/><rect x="465" y="36" width="7" height="7" fill="#77fa00"/><rect x="471" y="36" width="7" height="7" fill="#76ff00"/><rect x="477" y="36" width="7" height="7" fill="#73ff00"/><rect x="483" y="36" width="13" height="7" fill="#72ff00"/><rect x="495" y="36" width="7" height="7" fill="#73ff00"/><rect x="501" y="36" width="19" height="7" fill="#74ff00"/><rect x="297" y="42" width="25" height="7" fill="#7df000"/><rect x="321" y="42" width="7" height="7" fill="#7ff000"/><rect x="327" y="42" width="7" height="7" fill="#81f000"/><rect x="333" y="42" width="7" height="7" fill="#83eb00"/><rect x="339" y="42" width="7" height="7" fill="#86e600"/><rect x="345" y="42" width="7" height="7" fill="#8ae100"/><rect x="351" y="42" width="7" height="7" fill="#8fd700"/><rect x="357" y="42" width="7" height="7" fill="#94d200"/><rect x="363" y="42" width="7" height="7" fill="#99cd00"/><rect x="369" y="42" width="7" height="7" fill="#9dcd00"/><rect x="375" y="42" width="13" height="7" fill="#a0cd00"/><rect x="387" y="42" width="7" height="7" fill="#9ecd00"/><rect x="393" y="42" width="7" height="7" fill="#99d200"/><rect x="399" y="42" width="7" height="7" fill="#93dc00"/><rect x="405" y="42" width="7" height="7" fill="#8ce600"/><rect x="411" y="42" width="7" height="7" fill="#87eb00"/><rect x="417" y="42" width="7" height="7" fill="#81f000"/><rect x="423" y="42" width="7" height="7" fill="#7af000"/><rect x="429" y="42" width="7" height="7" fill="#72f000"/><rect x="435" y="42" width="7" height="7" fill="#6ce600"/><rect x="441" y="42" width="7" height="7" fill="#69e600"/><rect x="447" y="42" width="7" height="7" fill="#6be600"/><rect x="453" y="42" width="7" height="7" fill="#70eb00"/><rect x="459" y="42" width="7" height="7" fill="#74f500"/><rect x="465" y="42" width="7" height="7" fill="#77fa00"/><rect x="471" y="42" width="7" height="7" fill="#76ff00"/><rect x="477" y="42" width="7" height="7" fill="#73ff00"/><rect x="483" y="42" width="13" height="7" fill="#72ff00"/><rect x="495" y="42" width="25" height="7" fill="#73ff00"/><rect x="297" y="48" width="19" height="7" fill="#7ef000"/><rect x="315" y="48" width="7" height="7" fill="#7ff000"/><rect x="321" y="48" width="7" height="7" fill="#81f000"/><rect x="327" y="48" width="7" height="7" fill="#83f000"/><rect x="333" y="48" width="7" height="7" fill="#85eb00"/><rect x="339" y="48" width="7" height="7" fill="#88e600"/><rect x="345" y="48" width="7" height="7" fill="#8ce100"/><rect x="351" y="48" width="7" height="7" fill="#91d700"/><rect x="357" y="48" width="7" height="7" fill="#96d200"/><rect x="363" y="48" width="7" height="7" fill="#9acd00"/><rect x="369" y="48" width="7" height="7" fill="#9ecd00"/><rect x="375" y="48" width="13" height="7" fill="#a0cd00"/><rect x="387" y="48" width="7" height="7" fill="#9dcd00"/><rect x="393" y="48" width="7" height="7" fill="#98d200"/><rect x="399" y="48" width="7" height="7" fill="#92dc00"/><rect x="405" y="48" width="7" height="7" fill="#8ce600"/><rect x="411" y="48" width="7" height="7" fill="#87eb00"/><rect x="417" y="48" width="7" height="7" fill="#81f000"/><rect x="423" y="48" width="7" height="7" fill="#7af000"/><rect x="429" y="48" width="7" height="7" fill="#73f000"/><rect x="435" y="48" width="7" height="7" fill="#6ce600"/><rect x="441" y="48" width="7" height="7" fill="#6ae600"/><rect x="447" y="48" width="7" height="7" fill="#6be600"/><rect x="453" y="48" width="7" height="7" fill="#70eb00"/><rect x="459" y="48" width="7" height="7" fill="#75f500"/><rect x="465" y="48" width="7" height="7" fill="#77fa00"/><rect x="471" y="48" width="7" height="7" fill="#77ff00"/><rect x="477" y="48" width="7" height="7" fill="#74ff00"/><rect x="483" y="48" width="13" height="7" fill="#72ff00"/><rect x="495" y="48" width="25" height="7" fill="#73ff00"/><rect x="297" y="54" width="19" height="7" fill="#80f000"/><rect x="315" y="54" width="7" height="7" fill="#81f000"/><rect x="321" y="54" width="7" height="7" fill="#82f000"/><rect x="327" y="54" width="7" height="7" fill="#85f000"/><rect x="333" y="54" width="7" height="7" fill="#87eb00"/><rect x="339" y="54" width="7" height="7" fill="#8ae600"/><rect x="345" y="54" width="7" height="7" fill="#8ee100"/><rect x="351" y="54" width="7" height="7" fill="#93d700"/><rect x="357" y="54" width="7" height="7" fill="#97d200"/><rect x="363" y="54" width="7" height="7" fill="#9bcd00"/><rect x="369" y="54" width="7" height="7" fill="#9ecd00"/><rect x="375" y="54" width="7" height="7" fill="#a0cd00"/><rect x="381" y="54" width="7" height="7" fill="#9fcd00"/><rect x="387" y="54" width="7" height="7" fill="#9ccd00"/><rect x="393" y="54" width="7" height="7" fill="#97d200"/><rect x="399" y="54" width="7" height="7" fill="#91dc00"/><rect x="405" y="54" width="7" height="7" fill="#8be600"/><rect x="411" y="54" width="7" height="7" fill="#86eb00"/><rect x="417" y="54" width="7" height="7" fill="#81f000"/><rect x="423" y="54" width="7" height="7" fill="#7af000"/><rect x="429" y="54" width="7" height="7" fill="#73f000"/><rect x="435" y="54" width="7" height="7" fill="#6de600"/><rect x="441" y="54" width="7" height="7" fill="#6be600"/><rect x="447" y="54" width="7" height="7" fill="#6ce600"/><rect x="453" y="54" width="7" height="7" fill="#70eb00"/><rect x="459" y="54" width="7" height="7" fill="#75f500"/><rect x="465" y="54" width="7" height="7" fill="#78fa00"/><rect x="471" y="54" width="7" height="7" fill="#77ff00"/><rect x="477" y="54" width="7" height="7" fill="#74ff00"/><rect x="483" y="54" width="19" height="7" fill="#72ff00"/><rect x="501" y="54" width="19" height="7" fill="#73ff00"/><rect x="297" y="60" width="25" height="7" fill="#82f000"/><rect x="321" y="60" width="7" height="7" fill="#84f000"/><rect x="327" y="60" width="7" height="7" fill="#86f000"/><rect x="333" y="60" width="7" height="7" fill="#89eb00"/><rect x="339" y="60" width="7" height="7" fill="#8ce600"/><rect x="345" y="60" width="7" height="7" fill="#90e100"/><rect x="351" y="60" width="7" height="7" fill="#95d700"/><rect x="357" y="60" width="7" height="7" fill="#99d200"/><rect x="363" y="60" width="7" height="7" fill="#9ccd00"/><rect x="369" y="60" width="7" height="7" fill="#9fcd00"/><rect x="375" y="60" width="7" height="7" fill="#a0cd00"/><rect x="381" y="60" width="7" height="7" fill="#9fcd00"/><rect x="387" y="60" width="7" height="7" fill="#9bcd00"/><rect x="393" y="60" width="7" height="7" fill="#96d200"/><rect x="399" y="60" width="7" height="7" fill="#90dc00"/><rect x="405" y="60" width="7" height="7" fill="#8be600"/><rect x="411" y="60" width="7" height="7" fill="#86eb00"/><rect x="417" y="60" width="7" height="7" fill="#81f000"/><rect x="423" y="60" width="7" height="7" fill="#7af000"/><rect x="429" y="60" width="7" height="7" fill="#73f000"/><rect x="435" y="60" width="7" height="7" fill="#6de600"/><rect x="441" y="60" width="7" height="7" fill="#6be600"/><rect x="447" y="60" width="7" height="7" fill="#6de600"/><rect x="453" y="60" width="7" height="7" fill="#71eb00"/><rect x="459" y="60" width="7" height="7" fill="#75f500"/><rect x="465" y="60" width="7" height="7" fill="#78fa00"/><rect x="471" y="60" width="7" height="7" fill="#77ff00"/><rect x="477" y="60" width="7" height="7" fill="#75ff00"/><rect x="483" y="60" width="7" height="7" fill="#73ff00"/><rect x="489" y="60" width="13" height="7" fill="#72ff00"/><rect x="501" y="60" width="19" height="7" fill="#73ff00"/><rect x="297" y="66" width="19" height="7" fill="#83f000"/><rect x="315" y="66" width="7" height="7" fill="#84f000"/><rect x="321" y="66" width="7" height="7" fill="#85f000"/><rect x="327" y="66" width="7" height="7" fill="#88f000"/><rect x="333" y="66" width="7" height="7" fill="#8beb00"/><rect x="339" y="66" width="7" height="7" fill="#8fe600"/><rect x="345" y="66" width="7" height="7" fill="#92e100"/><rect x="351" y="66" width="7" height="7" fill="#97d700"/><rect x="357" y="66" width="7" height="7" fill="#9ad200"/><rect x="363" y="66" width="7" height="7" fill="#9dcd00"/><rect x="369" y="66" width="13" height="7" fill="#9fcd00"/><rect x="381" y="66" width="7" height="7" fill="#9ecd00"/><rect x="387" y="66" width="7" height="7" fill="#9acd00"/><rect x="393" y="66" width="7" height="7" fill="#95d200"/><rect x="399" y="66" width="7" height="7" fill="#8fdc00"/><rect x="405" y="66" width="7" height="7" fill="#8ae600"/><rect x="411" y="66" width="7" height="7" fill="#86eb00"/><rect x="417" y="66" width="7" height="7" fill="#82f000"/><rect x="423" y="66" width="7" height="7" fill="#7bf000"/><rect x="429" y="66" width="7" height="7" fill="#74f000"/><rect x="435" y="66" width="7" height="7" fill="#6ee600"/><rect x="441" y="66" width="7" height="7" fill="#6ce600"/><rect x="447" y="66" width="7" height="7" fill="#6de600"/><rect x="453" y="66" width="7" height="7" fill="#72eb00"/><rect x="459" y="66" width="7" height="7" fill="#76f500"/><rect x="465" y="66" width="7" height="7" fill="#78fa00"/><rect x="471" y="66" width="7" height="7" fill="#78ff00"/><rect x="477" y="66" width="7" height="7" fill="#75ff00"/><rect x="483" y="66" width="7" height="7" fill="#73ff00"/><rect x="489" y="66" width="13" height="7" fill="#72ff00"/><rect x="501" y="66" width="19" height="7" fill="#73ff00"/><rect x="297" y="72" width="25" height="7" fill="#85f000"/><rect x="321" y="72" width="7" height="7" fill="#87f000"/><rect x="327" y="72" width="7" height="7" fill="#8af000"/><rect x="333" y="72" width="7" height="7" fill="#8deb00"/><rect x="339" y="72" width="7" height="7" fill="#91e600"/><rect x="345" y="72" width="7" height="7" fill="#94e100"/><rect x="351" y="72" width="7" height="7" fill="#99d700"/><rect x="357" y="72" width="7" height="7" fill="#9cd200"/><rect x="363" y="72" width="7" height="7" fill="#9ecd00"/><rect x="369" y="72" width="13" height="7" fill="#9fcd00"/><rect x="381" y="72" width="7" height="7" fill="#9ccd00"/><rect x="387" y="72" width="7" height="7" fill="#99cd00"/><rect x="393" y="72" width="7" height="7" fill="#94d200"/><rect x="399" y="72" width="7" height="7" fill="#8edc00"/><rect x="405" y="72" width="7" height="7" fill="#89e600"/><rect x="411" y="72" width="7" height="7" fill="#86eb00"/><rect x="417" y="72" width="7" height="7" fill="#82f000"/><rect x="423" y="72" width="7" height="7" fill="#7bf000"/><rect x="429" y="72" width="7" height="7" fill="#74f000"/><rect x="435" y="72" width="7" height="7" fill="#6fe600"/><rect x="441" y="72" width="7" height="7" fill="#6de600"/><rect x="447" y="72" width="7" height="7" fill="#6ee600"/><rect x="453" y="72" width="7" height="7" fill="#72eb00"/><rect x="459" y="72" width="7" height="7" fill="#76f500"/><rect x="465" y="72" width="7" height="7" fill="#79fa00"/><rect x="471" y="72" width="7" height="7" fill="#78ff00"/><rect x="477" y="72" width="7" height="7" fill="#76ff00"/><rect x="483" y="72" width="7" height="7" fill="#73ff00"/><rect x="489" y="72" width="31" height="7" fill="#72ff00"/><rect x="297" y="78" width="25" height="7" fill="#86f000"/><rect x="321" y="78" width="7" height="7" fill="#88f000"/><rect x="327" y="78" width="7" height="7" fill="#8bf000"/><rect x="333" y="78" width="7" height="7" fill="#8feb00"/><rect x="339" y="78" width="7" height="7" fill="#93e600"/><rect x="345" y="78" width="7" height="7" fill="#96e100"/><rect x="351" y="78" width="7" height="7" fill="#9ad700"/><rect x="357" y="78" width="7" height="7" fill="#9dd200"/><rect x="363" y="78" width="19" height="7" fill="#9ecd00"/><rect x="381" y="78" width="7" height="7" fill="#9bcd00"/><rect x="387" y="78" width="7" height="7" fill="#97cd00"/><rect x="393" y="78" width="7" height="7" fill="#92d200"/><rect x="399" y="78" width="7" height="7" fill="#8ddc00"/><rect x="405" y="78" width="7" height="7" fill="#88e600"/><rect x="411" y="78" width="7" height="7" fill="#85eb00"/><rect x="417" y="78" width="7" height="7" fill="#82f000"/><rect x="423" y="78" width="7" height="7" fill="#7bf000"/><rect x="429" y="78" width="7" height="7" fill="#74f000"/><rect x="435" y="78" width="7" height="7" fill="#6fe600"/><rect x="441" y="78" width="7" height="7" fill="#6ee600"/><rect x="447" y="78" width="7" height="7" fill="#6fe600"/><rect x="453" y="78" width="7" height="7" fill="#73eb00"/><rect x="459" y="78" width="7" height="7" fill="#77f500"/><rect x="465" y="78" width="7" height="7" fill="#79fa00"/><rect x="471" y="78" width="7" height="7" fill="#78ff00"/><rect x="477" y="78" width="7" height="7" fill="#76ff00"/><rect x="483" y="78" width="7" height="7" fill="#73ff00"/><rect x="489" y="78" width="7" height="7" fill="#72ff00"/><rect x="495" y="78" width="7" height="7" fill="#71ff00"/><rect x="501" y="78" width="19" height="7" fill="#72ff00"/><rect x="297" y="84" width="19" height="7" fill="#87f000"/><rect x="315" y="84" width="7" height="7" fill="#88f000"/><rect x="321" y="84" width="7" height="7" fill="#89f000"/><rect x="327" y="84" width="7" height="7" fill="#8df000"/><rect x="333" y="84" width="7" height="7" fill="#91eb00"/><rect x="339" y="84" width="7" height="7" fill="#94e600"/><rect x="345" y="84" width="7" height="7" fill="#97e100"/><rect x="351" y="84" width="7" height="7" fill="#9bd700"/><rect x="357" y="84" width="7" height="7" fill="#9dd200"/><rect x="363" y="84" width="13" height="7" fill="#9dcd00"/><rect x="375" y="84" width="7" height="7" fill="#9ccd00"/><rect x="381" y="84" width="7" height="7" fill="#99cd00"/><rect x="387" y="84" width="7" height="7" fill="#95cd00"/><rect x="393" y="84" width="7" height="7" fill="#90d200"/><rect x="399" y="84" width="7" height="7" fill="#8bdc00"/><rect x="405" y="84" width="7" height="7" fill="#87e600"/><rect x="411" y="84" width="7" height="7" fill="#84eb00"/><rect x="417" y="84" width="7" height="7" fill="#81f000"/><rect x="423" y="84" width="7" height="7" fill="#7bf000"/><rect x="429" y="84" width="7" height="7" fill="#75f000"/><rect x="435" y="84" width="7" height="7" fill="#70e600"/><rect x="441" y="84" width="7" height="7" fill="#6ee600"/><rect x="447" y="84" width="7" height="7" fill="#6fe600"/><rect x="453" y="84" width="7" height="7" fill="#73eb00"/><rect x="459" y="84" width="7" height="7" fill="#77f500"/><rect x="465" y="84" width="7" height="7" fill="#79fa00"/><rect x="471" y="84" width="7" height="7" fill="#78ff00"/><rect x="477" y="84" width="7" height="7" fill="#75ff00"/><rect x="483" y="84" width="7" height="7" fill="#73ff00"/><rect x="489" y="84" width="7" height="7" fill="#71ff00"/><rect x="495" y="84" width="7" height="7" fill="#70ff00"/><rect x="501" y="84" width="19" height="7" fill="#71ff00"/><rect x="297" y="90" width="25" height="7" fill="#89f000"/><rect x="321" y="90" width="7" height="7" fill="#8bf000"/><rect x="327" y="90" width="7" height="7" fill="#8ef000"/><rect x="333" y="90" width="7" height="7" fill="#93eb00"/><rect x="339" y="90" width="7" height="7" fill="#96e600"/><rect x="345" y="90" width="7" height="7" fill="#98e100"/><rect x="351" y="90" width="7" height="7" fill="#9bd700"/><rect x="357" y="90" width="7" height="7" fill="#9dd200"/><rect x="363" y="90" width="13" height="7" fill="#9ccd00"/><rect x="375" y="90" width="7" height="7" fill="#9acd00"/><rect x="381" y="90" width="7" height="7" fill="#97cd00"/><rect x="387" y="90" width="7" height="7" fill="#93cd00"/><rect x="393" y="90" width="7" height="7" fill="#8fd200"/><rect x="399" y="90" width="7" height="7" fill="#8adc00"/><rect x="405" y="90" width="7" height="7" fill="#86e600"/><rect x="411" y="90" width="7" height="7" fill="#84eb00"/><rect x="417" y="90" width="7" height="7" fill="#81f000"/><rect x="423" y="90" width="7" height="7" fill="#7bf000"/><rect x="429" y="90" width="7" height="7" fill="#75f000"/><rect x="435" y="90" width="7" height="7" fill="#70e600"/><rect x="441" y="90" width="7" height="7" fill="#6fe600"/><rect x="447" y="90" width="7" height="7" fill="#70e600"/><rect x="453" y="90" width="7" height="7" fill="#74eb00"/><rect x="459" y="90" width="7" height="7" fill="#77f500"/><rect x="465" y="90" width="7" height="7" fill="#79fa00"/><rect x="471" y="90" width="7" height="7" fill="#77fa00"/><rect x="477" y="90" width="7" height="7" fill="#74fa00"/><rect x="483" y="90" width="7" height="7" fill="#71fa00"/><rect x="489" y="90" width="31" height="7" fill="#6ffa00"/><rect x="297" y="96" width="25" height="7" fill="#8af000"/><rect x="321" y="96" width="7" height="7" fill="#8cf000"/><rect x="327" y="96" width="7" height="7" fill="#90f000"/><rect x="333" y="96" width="7" height="7" fill="#94eb00"/><rect x="339" y="96" width="7" height="7" fill="#97e600"/><rect x="345" y="96" width="7" height="7" fill="#99e100"/><rect x="351" y="96" width="7" height="7" fill="#9bd700"/><rect x="357" y="96" width="7" height="7" fill="#9cd200"/><rect x="363" y="96" width="7" height="7" fill="#9bcd00"/><rect x="369" y="96" width="7" height="7" fill="#9acd00"/><rect x="375" y="96" width="7" height="7" fill="#97cd00"/><rect x="381" y="96" width="7" height="7" fill="#95cd00"/><rect x="387" y="96" width="7" height="7" fill="#91cd00"/><rect x="393" y="96" width="7" height="7" fill="#8dd200"/><rect x="399" y="96" width="7" height="7" fill="#88dc00"/><rect x="405" y="96" width="7" height="7" fill="#84e600"/><rect x="411" y="96" width="7" height="7" fill="#83eb00"/><rect x="417" y="96" width="7" height="7" fill="#80f000"/><rect x="423" y="96" width="7" height="7" fill="#7af000"/><rect x="429" y="96" width="7" height="7" fill="#75f000"/><rect x="435" y="96" width="7" height="7" fill="#71e600"/><rect x="441" y="96" width="7" height="7" fill="#6fe600"/><rect x="447" y="96" width="7" height="7" fill="#70e600"/><rect x="453" y="96" width="7" height="7" fill="#74eb00"/><rect x="459" y="96" width="13" height="7" fill="#78f500"/><rect x="471" y="96" width="7" height="7" fill="#77f500"/><rect x="477" y="96" width="7" height="7" fill="#73f500"/><rect x="483" y="96" width="7" height="7" fill="#70f000"/><rect x="489" y="96" width="7" height="7" fill="#6ef000"/><rect x="495" y="96" width="25" height="7" fill="#6df000"/><rect x="297" y="102" width="25" height="7" fill="#8bf000"/><rect x="321" y="102" width="7" height="7" fill="#8df000"/><rect x="327" y="102" width="7" height="7" fill="#91f000"/><rect x="333" y="102" width="7" height="7" fill="#96eb00"/><rect x="339" y="102" width="7" height="7" fill="#98e600"/><rect x="345" y="102" width="7" height="7" fill="#99e100"/><rect x="351" y="102" width="7" height="7" fill="#9ad700"/><rect x="357" y="102" width="7" height="7" fill="#9ad200"/><rect x="363" y="102" width="7" height="7" fill="#99cd00"/><rect x="369" y="102" width="7" height="7" fill="#97cd00"/><rect x="375" y="102" width="7" height="7" fill="#95cd00"/><rect x="381" y="102" width="7" height="7" fill="#92cd00"/><rect x="387" y="102" width="7" height="7" fill="#8fcd00"/><rect x="393" y="102" width="7" height="7" fill="#8bd200"/><rect x="399" y="102" width="7" height="7" fill="#87dc00"/><rect x="405" y="102" width="7" height="7" fill="#83e600"/><rect x="411" y="102" width="7" height="7" fill="#81eb00"/><rect x="417" y="102" width="7" height="7" fill="#7ff000"/><rect x="423" y="102" width="7" height="7" fill="#7af000"/><rect x="429" y="102" width="7" height="7" fill="#75f000"/><rect x="435" y="102" width="7" height="7" fill="#71e600"/><rect x="441" y="102" width="7" height="7" fill="#6fe600"/><rect x="447" y="102" width="7" height="7" fill="#71e600"/><rect x="453" y="102" width="7" height="7" fill="#75eb00"/><rect x="459" y="102" width="7" height="7" fill="#78f000"/><rect x="465" y="102" width="7" height="7" fill="#78f500"/><rect x="471" y="102" width="7" height="7" fill="#76f000"/><rect x="477" y="102" width="7" height="7" fill="#71f000"/><rect x="483" y="102" width="7" height="7" fill="#6eeb00"/><rect x="489" y="102" width="7" height="7" fill="#6ce600"/><rect x="495" y="102" width="25" height="7" fill="#6be600"/><rect x="297" y="108" width="25" height="7" fill="#8cf000"/><rect x="321" y="108" width="7" height="7" fill="#8ef000"/><rect x="327" y="108" width="7" height="7" fill="#92f000"/><rect x="333" y="108" width="7" height="7" fill="#97eb00"/><rect x="339" y="108" width="7" height="7" fill="#98e600"/><rect x="345" y="108" width="7" height="7" fill="#99e100"/><rect x="351" y="108" width="7" height="7" fill="#99d700"/><rect x="357" y="108" width="7" height="7" fill="#98d200"/><rect x="363" y="108" width="7" height="7" fill="#97cd00"/><rect x="369" y="108" width="7" height="7" fill="#94cd00"/><rect x="375" y="108" width="7" height="7" fill="#91cd00"/><rect x="381" y="108" width="7" height="7" fill="#8fcd00"/><rect x="387" y="108" width="7" height="7" fill="#8ccd00"/><rect x="393" y="108" width="7" height="7" fill="#88d200"/><rect x="399" y="108" width="7" height="7" fill="#85dc00"/><rect x="405" y="108" width="7" height="7" fill="#82e600"/><rect x="411" y="108" width="7" height="7" fill="#80eb00"/><rect x="417" y="108" width="7" height="7" fill="#7df000"/><rect x="423" y="108" width="7" height="7" fill="#79f000"/><rect x="429" y="108" width="7" height="7" fill="#74f000"/><rect x="435" y="108" width="7" height="7" fill="#71e600"/><rect x="441" y="108" width="7" height="7" fill="#70e600"/><rect x="447" y="108" width="7" height="7" fill="#71e600"/><rect x="453" y="108" width="7" height="7" fill="#75eb00"/><rect x="459" y="108" width="7" height="7" fill="#78f000"/><rect x="465" y="108" width="7" height="7" fill="#77f000"/><rect x="471" y="108" width="7" height="7" fill="#74eb00"/><rect x="477" y="108" width="7" height="7" fill="#6feb00"/><rect x="483" y="108" width="7" height="7" fill="#6ce600"/><rect x="489" y="108" width="7" height="7" fill="#69e100"/><rect x="495" y="108" width="25" height="7" fill="#68e100"/><rect x="297" y="114" width="25" height="7" fill="#8df000"/><rect x="321" y="114" width="7" height="7" fill="#8ff000"/><rect x="327" y="114" width="7" height="7" fill="#93f000"/><rect x="333" y="114" width="7" height="7" fill="#98eb00"/><rect x="339" y="114" width="7" height="7" fill="#99e600"/><rect x="345" y="114" width="7" height="7" fill="#98e100"/><rect x="351" y="114" width="7" height="7" fill="#98d700"/><rect x="357" y="114" width="7" height="7" fill="#96d200"/><rect x="363" y="114" width="7" height="7" fill="#94cd00"/><rect x="369" y="114" width="7" height="7" fill="#91cd00"/><rect x="375" y="114" width="7" height="7" fill="#8fcd00"/><rect x="381" y="114" width="7" height="7" fill="#8dcd00"/><rect x="387" y="114" width="7" height="7" fill="#8acd00"/><rect x="393" y="114" width="7" height="7" fill="#87d200"/><rect x="399" y="114" width="7" height="7" fill="#83dc00"/><rect x="405" y="114" width="7" height="7" fill="#81e600"/><rect x="411" y="114" width="7" height="7" fill="#7feb00"/><rect x="417" y="114" width="7" height="7" fill="#7cf000"/><rect x="423" y="114" width="7" height="7" fill="#78f000"/><rect x="429" y="114" width="7" height="7" fill="#74f000"/><rect x="435" y="114" width="7" height="7" fill="#71e600"/><rect x="441" y="114" width="7" height="7" fill="#70e600"/><rect x="447" y="114" width="7" height="7" fill="#72e600"/><rect x="453" y="114" width="7" height="7" fill="#76eb00"/><rect x="459" y="114" width="7" height="7" fill="#78f000"/><rect x="465" y="114" width="7" height="7" fill="#77eb00"/><rect x="471" y="114" width="7" height="7" fill="#73e600"/><rect x="477" y="114" width="7" height="7" fill="#6de100"/><rect x="483" y="114" width="7" height="7" fill="#69dc00"/><rect x="489" y="114" width="7" height="7" fill="#67d700"/><rect x="495" y="114" width="25" height="7" fill="#66d700"/><rect x="297" y="120" width="25" height="7" fill="#8df000"/><rect x="321" y="120" width="7" height="7" fill="#8ff000"/><rect x="327" y="120" width="7" height="7" fill="#93f000"/><rect x="333" y="120" width="7" height="7" fill="#98eb00"/><rect x="339" y="120" width="7" height="7" fill="#99e600"/><rect x="345" y="120" width="7" height="7" fill="#98e100"/><rect x="351" y="120" width="7" height="7" fill="#97d700"/><rect x="357" y="120" width="7" height="7" fill="#95d200"/><rect x="363" y="120" width="7" height="7" fill="#92cd00"/><rect x="369" y="120" width="7" height="7" fill="#8fcd00"/><rect x="375" y="120" width="7" height="7" fill="#8ccd00"/><rect x="381" y="120" width="7" height="7" fill="#8bcd00"/><rect x="387" y="120" width="7" height="7" fill="#89cd00"/><rect x="393" y="120" width="7" height="7" fill="#85d200"/><rect x="399" y="120" width="7" height="7" fill="#82dc00"/><rect x="405" y="120" width="7" height="7" fill="#80e600"/><rect x="411" y="120" width="7" height="7" fill="#7eeb00"/><rect x="417" y="120" width="7" height="7" fill="#7bf000"/><rect x="423" y="120" width="7" height="7" fill="#78f000"/><rect x="429" y="120" width="7" height="7" fill="#74f000"/><rect x="435" y="120" width="7" height="7" fill="#71e600"/><rect x="441" y="120" width="7" height="7" fill="#70e600"/><rect x="447" y="120" width="7" height="7" fill="#72e600"/><rect x="453" y="120" width="7" height="7" fill="#76eb00"/><rect x="459" y="120" width="7" height="7" fill="#78f000"/><rect x="465" y="120" width="7" height="7" fill="#76eb00"/><rect x="471" y="120" width="7" height="7" fill="#71e600"/><rect x="477" y="120" width="7" height="7" fill="#6cdc00"/><rect x="483" y="120" width="7" height="7" fill="#68d700"/><rect x="489" y="120" width="7" height="7" fill="#65d200"/><rect x="495" y="120" width="25" height="7" fill="#64d200"/><rect x="297" y="126" width="25" height="7" fill="#8df000"/><rect x="321" y="126" width="7" height="7" fill="#8ff000"/><rect x="327" y="126" width="7" height="7" fill="#93f000"/><rect x="333" y="126" width="7" height="7" fill="#98eb00"/><rect x="339" y="126" width="7" height="7" fill="#98e600"/><rect x="345" y="126" width="7" height="7" fill="#97e100"/><rect x="351" y="126" width="7" height="7" fill="#95d700"/><rect x="357" y="126" width="7" height="7" fill="#93d200"/><rect x="363" y="126" width="7" height="7" fill="#91cd00"/><rect x="369" y="126" width="7" height="7" fill="#8dcd00"/><rect x="375" y="126" width="7" height="7" fill="#8bcd00"/><rect x="381" y="126" width="7" height="7" fill="#89cd00"/><rect x="387" y="126" width="7" height="7" fill="#87cd00"/><rect x="393" y="126" width="7" height="7" fill="#84d200"/><rect x="399" y="126" width="7" height="7" fill="#81dc00"/><rect x="405" y="126" width="7" height="7" fill="#7fe600"/><rect x="411" y="126" width="7" height="7" fill="#7deb00"/><rect x="417" y="126" width="7" height="7" fill="#7af000"/><rect x="423" y="126" width="7" height="7" fill="#78f000"/><rect x="429" y="126" width="7" height="7" fill="#74f000"/><rect x="435" y="126" width="7" height="7" fill="#71e600"/><rect x="441" y="126" width="7" height="7" fill="#70e600"/><rect x="447" y="126" width="7" height="7" fill="#72e600"/><rect x="453" y="126" width="7" height="7" fill="#76eb00"/><rect x="459" y="126" width="7" height="7" fill="#77f000"/><rect x="465" y="126" width="7" height="7" fill="#74e600"/><rect x="471" y="126" width="7" height="7" fill="#70e100"/><rect x="477" y="126" width="7" height="7" fill="#6ad700"/><rect x="483" y="126" width="7" height="7" fill="#66d200"/><rect x="489" y="126" width="7" height="7" fill="#63c800"/><rect x="495" y="126" width="25" height="7" fill="#62c800"/><rect x="297" y="132" width="19" height="7" fill="#8cf000"/><rect x="315" y="132" width="7" height="7" fill="#8df000"/><rect x="321" y="132" width="7" height="7" fill="#8ff000"/><rect x="327" y="132" width="7" height="7" fill="#93f000"/><rect x="333" y="132" width="7" height="7" fill="#97eb00"/><rect x="339" y="132" width="7" height="7" fill="#98e600"/><rect x="345" y="132" width="7" height="7" fill="#96e100"/><rect x="351" y="132" width="7" height="7" fill="#94d700"/><rect x="357" y="132" width="7" height="7" fill="#92d200"/><rect x="363" y="132" width="7" height="7" fill="#8fcd00"/><rect x="369" y="132" width="7" height="7" fill="#8ccd00"/><rect x="375" y="132" width="7" height="7" fill="#89cd00"/><rect x="381" y="132" width="7" height="7" fill="#88cd00"/><rect x="387" y="132" width="7" height="7" fill="#86cd00"/><rect x="393" y="132" width="7" height="7" fill="#83d200"/><rect x="399" y="132" width="7" height="7" fill="#81dc00"/><rect x="405" y="132" width="7" height="7" fill="#7fe600"/><rect x="411" y="132" width="7" height="7" fill="#7ceb00"/><rect x="417" y="132" width="7" height="7" fill="#7af000"/><rect x="423" y="132" width="7" height="7" fill="#77f000"/><rect x="429" y="132" width="7" height="7" fill="#74f000"/><rect x="435" y="132" width="13" height="7" fill="#71e600"/><rect x="447" y="132" width="7" height="7" fill="#72e600"/><rect x="453" y="132" width="7" height="7" fill="#75eb00"/><rect x="459" y="132" width="7" height="7" fill="#76eb00"/><rect x="465" y="132" width="7" height="7" fill="#73e100"/><rect x="471" y="132" width="7" height="7" fill="#6edc00"/><rect x="477" y="132" width="7" height="7" fill="#68d200"/><rect x="483" y="132" width="7" height="7" fill="#64cd00"/><rect x="489" y="132" width="7" height="7" fill="#62c800"/><rect x="495" y="132" width="25" height="7" fill="#61c800"/><rect x="297" y="138" width="25" height="7" fill="#8cf000"/><rect x="321" y="138" width="7" height="7" fill="#8ef000"/><rect x="327" y="138" width="7" height="7" fill="#92f000"/><rect x="333" y="138" width="7" height="7" fill="#96eb00"/><rect x="339" y="138" width="7" height="7" fill="#97e600"/><rect x="345" y="138" width="7" height="7" fill="#95e100"/><rect x="351" y="138" width="7" height="7" fill="#93d700"/><rect x="357" y="138" width="7" height="7" fill="#90d200"/><rect x="363" y="138" width="7" height="7" fill="#8ecd00"/><rect x="369" y="138" width="7" height="7" fill="#8bcd00"/><rect x="375" y="138" width="7" height="7" fill="#88cd00"/><rect x="381" y="138" width="7" height="7" fill="#87cd00"/><rect x="387" y="138" width="7" height="7" fill="#86cd00"/><rect x="393" y="138" width="7" height="7" fill="#83d200"/><rect x="399" y="138" width="7" height="7" fill="#80dc00"/><rect x="405" y="138" width="7" height="7" fill="#7ee600"/><rect x="411" y="138" width="7" height="7" fill="#7ceb00"/><rect x="417" y="138" width="7" height="7" fill="#79f000"/><rect x="423" y="138" width="7" height="7" fill="#77f000"/><rect x="429" y="138" width="7" height="7" fill="#74f000"/><rect x="435" y="138" width="13" height="7" fill="#71e600"/><rect x="447" y="138" width="7" height="7" fill="#72e600"/><rect x="453" y="138" width="7" height="7" fill="#74eb00"/><rect x="459" y="138" width="7" height="7" fill="#75eb00"/><rect x="465" y="138" width="7" height="7" fill="#71e100"/><rect x="471" y="138" width="7" height="7" fill="#6cd700"/><rect x="477" y="138" width="7" height="7" fill="#66d200"/><rect x="483" y="138" width="7" height="7" fill="#63c800"/><rect x="489" y="138" width="7" height="7" fill="#61c300"/><rect x="495" y="138" width="25" height="7" fill="#60c300"/><rect x="297" y="144" width="19" height="7" fill="#8af000"/><rect x="315" y="144" width="7" height="7" fill="#8bf000"/><rect x="321" y="144" width="7" height="7" fill="#8df000"/><rect x="327" y="144" width="7" height="7" fill="#91f000"/><rect x="333" y="144" width="7" height="7" fill="#95eb00"/><rect x="339" y="144" width="7" height="7" fill="#95e600"/><rect x="345" y="144" width="7" height="7" fill="#94e100"/><rect x="351" y="144" width="7" height="7" fill="#91d700"/><rect x="357" y="144" width="7" height="7" fill="#8fd200"/><rect x="363" y="144" width="7" height="7" fill="#8dcd00"/><rect x="369" y="144" width="7" height="7" fill="#8acd00"/><rect x="375" y="144" width="7" height="7" fill="#88cd00"/><rect x="381" y="144" width="7" height="7" fill="#87cd00"/><rect x="387" y="144" width="7" height="7" fill="#85cd00"/><rect x="393" y="144" width="7" height="7" fill="#82d200"/><rect x="399" y="144" width="7" height="7" fill="#80dc00"/><rect x="405" y="144" width="7" height="7" fill="#7ee600"/><rect x="411" y="144" width="7" height="7" fill="#7ceb00"/><rect x="417" y="144" width="7" height="7" fill="#79f000"/><rect x="423" y="144" width="7" height="7" fill="#77f000"/><rect x="429" y="144" width="7" height="7" fill="#74f000"/><rect x="435" y="144" width="7" height="7" fill="#72e600"/><rect x="441" y="144" width="7" height="7" fill="#71e600"/><rect x="447" y="144" width="7" height="7" fill="#72e600"/><rect x="453" y="144" width="7" height="7" fill="#74eb00"/><rect x="459" y="144" width="7" height="7" fill="#73e600"/><rect x="465" y="144" width="7" height="7" fill="#70dc00"/><rect x="471" y="144" width="7" height="7" fill="#6ad200"/><rect x="477" y="144" width="7" height="7" fill="#65cd00"/><rect x="483" y="144" width="7" height="7" fill="#62c300"/><rect x="489" y="144" width="7" height="7" fill="#60be00"/><rect x="495" y="144" width="25" height="7" fill="#5fbe00"/><rect x="297" y="150" width="25" height="7" fill="#89f000"/><rect x="321" y="150" width="7" height="7" fill="#8cf000"/><rect x="327" y="150" width="7" height="7" fill="#8ff000"/><rect x="333" y="150" width="7" height="7" fill="#93eb00"/><rect x="339" y="150" width="7" height="7" fill="#94e600"/><rect x="345" y="150" width="7" height="7" fill="#92e100"/><rect x="351" y="150" width="7" height="7" fill="#90d700"/><rect x="357" y="150" width="7" height="7" fill="#8ed200"/><rect x="363" y="150" width="7" height="7" fill="#8ccd00"/><rect x="369" y="150" width="7" height="7" fill="#89cd00"/><rect x="375" y="150" width="7" height="7" fill="#88cd00"/><rect x="381" y="150" width="7" height="7" fill="#87cd00"/><rect x="387" y="150" width="7" height="7" fill="#86cd00"/><rect x="393" y="150" width="7" height="7" fill="#82d200"/><rect x="399" y="150" width="7" height="7" fill="#80dc00"/><rect x="405" y="150" width="7" height="7" fill="#7ee600"/><rect x="411" y="150" width="7" height="7" fill="#7ceb00"/><rect x="417" y="150" width="7" height="7" fill="#79f000"/><rect x="423" y="150" width="7" height="7" fill="#77f000"/><rect x="429" y="150" width="7" height="7" fill="#75f000"/><rect x="435" y="150" width="7" height="7" fill="#72e600"/><rect x="441" y="150" width="13" height="7" fill="#71e600"/><rect x="453" y="150" width="7" height="7" fill="#72e600"/><rect x="459" y="150" width="7" height="7" fill="#71e600"/><rect x="465" y="150" width="7" height="7" fill="#6dd700"/><rect x="471" y="150" width="7" height="7" fill="#68cd00"/><rect x="477" y="150" width="7" height="7" fill="#63c800"/><rect x="483" y="150" width="7" height="7" fill="#61be00"/><rect x="489" y="150" width="31" height="7" fill="#5fb900"/><rect x="297" y="156" width="19" height="7" fill="#87f000"/><rect x="315" y="156" width="7" height="7" fill="#88f000"/><rect x="321" y="156" width="7" height="7" fill="#8af000"/><rect x="327" y="156" width="7" height="7" fill="#8df000"/><rect x="333" y="156" width="7" height="7" fill="#91eb00"/><rect x="339" y="156" width="7" height="7" fill="#92e600"/><rect x="345" y="156" width="7" height="7" fill="#91e100"/><rect x="351" y="156" width="7" height="7" fill="#8fd700"/><rect x="357" y="156" width="7" height="7" fill="#8dd200"/><rect x="363" y="156" width="7" height="7" fill="#8bcd00"/><rect x="369" y="156" width="7" height="7" fill="#89cd00"/><rect x="375" y="156" width="13" height="7" fill="#88cd00"/><rect x="387" y="156" width="7" height="7" fill="#86cd00"/><rect x="393" y="156" width="7" height="7" fill="#83d200"/><rect x="399" y="156" width="7" height="7" fill="#80dc00"/><rect x="405" y="156" width="7" height="7" fill="#7ee600"/><rect x="411" y="156" width="7" height="7" fill="#7ceb00"/><rect x="417" y="156" width="7" height="7" fill="#79f000"/><rect x="423" y="156" width="7" height="7" fill="#77f000"/><rect x="429" y="156" width="7" height="7" fill="#75f000"/><rect x="435" y="156" width="7" height="7" fill="#72e600"/><rect x="441" y="156" width="19" height="7" fill="#71e600"/><rect x="459" y="156" width="7" height="7" fill="#6fe100"/><rect x="465" y="156" width="7" height="7" fill="#6bd700"/><rect x="471" y="156" width="7" height="7" fill="#66cd00"/><rect x="477" y="156" width="7" height="7" fill="#62c300"/><rect x="483" y="156" width="7" height="7" fill="#60be00"/><rect x="489" y="156" width="31" height="7" fill="#5fb400"/><rect x="297" y="162" width="19" height="7" fill="#85f000"/><rect x="315" y="162" width="7" height="7" fill="#86f000"/><rect x="321" y="162" width="7" height="7" fill="#88f000"/><rect x="327" y="162" width="7" height="7" fill="#8cf000"/><rect x="333" y="162" width="7" height="7" fill="#8eeb00"/><rect x="339" y="162" width="7" height="7" fill="#90e600"/><rect x="345" y="162" width="7" height="7" fill="#8fe100"/><rect x="351" y="162" width="7" height="7" fill="#8ed700"/><rect x="357" y="162" width="7" height="7" fill="#8cd200"/><rect x="363" y="162" width="13" height="7" fill="#8acd00"/><rect x="375" y="162" width="7" height="7" fill="#89cd00"/><rect x="381" y="162" width="7" height="7" fill="#88cd00"/><rect x="387" y="162" width="7" height="7" fill="#87cd00"/><rect x="393" y="162" width="7" height="7" fill="#83d200"/><rect x="399" y="162" width="7" height="7" fill="#80dc00"/><rect x="405" y="162" width="7" height="7" fill="#7ee600"/><rect x="411" y="162" width="7" height="7" fill="#7ceb00"/><rect x="417" y="162" width="7" height="7" fill="#7af000"/><rect x="423" y="162" width="7" height="7" fill="#77f000"/><rect x="429" y="162" width="7" height="7" fill="#75f000"/><rect x="435" y="162" width="7" height="7" fill="#72e600"/><rect x="441" y="162" width="13" height="7" fill="#71e600"/><rect x="453" y="162" width="7" height="7" fill="#6fe600"/><rect x="459" y="162" width="7" height="7" fill="#6de100"/><rect x="465" y="162" width="7" height="7" fill="#69d200"/><rect x="471" y="162" width="7" height="7" fill="#65c800"/><rect x="477" y="162" width="7" height="7" fill="#61be00"/><rect x="483" y="162" width="7" height="7" fill="#5fb900"/><rect x="489" y="162" width="31" height="7" fill="#5fb400"/><rect x="297" y="168" width="19" height="7" fill="#85f000"/><rect x="315" y="168" width="7" height="7" fill="#86f000"/><rect x="321" y="168" width="7" height="7" fill="#88f000"/><rect x="327" y="168" width="7" height="7" fill="#8cf000"/><rect x="333" y="168" width="7" height="7" fill="#8eeb00"/><rect x="339" y="168" width="7" height="7" fill="#90e600"/><rect x="345" y="168" width="7" height="7" fill="#8fe100"/><rect x="351" y="168" width="7" height="7" fill="#8ed700"/><rect x="357" y="168" width="7" height="7" fill="#8cd200"/><rect x="363" y="168" width="13" height="7" fill="#8acd00"/><rect x="375" y="168" width="7" height="7" fill="#89cd00"/><rect x="381" y="168" width="7" height="7" fill="#88cd00"/><rect x="387" y="168" width="7" height="7" fill="#87cd00"/><rect x="393" y="168" width="7" height="7" fill="#83d200"/><rect x="399" y="168" width="7" height="7" fill="#80dc00"/><rect x="405" y="168" width="7" height="7" fill="#7ee600"/><rect x="411" y="168" width="7" height="7" fill="#7ceb00"/><rect x="417" y="168" width="7" height="7" fill="#7af000"/><rect x="423" y="168" width="7" height="7" fill="#77f000"/><rect x="429" y="168" width="7" height="7" fill="#75f000"/><rect x="435" y="168" width="7" height="7" fill="#72e600"/><rect x="441" y="168" width="13" height="7" fill="#71e600"/><rect x="453" y="168" width="7" height="7" fill="#6fe600"/><rect x="459" y="168" width="7" height="7" fill="#6de100"/><rect x="465" y="168" width="7" height="7" fill="#69d200"/><rect x="471" y="168" width="7" height="7" fill="#65c800"/><rect x="477" y="168" width="7" height="7" fill="#61be00"/><rect x="483" y="168" width="7" height="7" fill="#5fb900"/><rect x="489" y="168" width="31" height="7" fill="#5fb400"/><rect x="297" y="174" width="19" height="7" fill="#85f000"/><rect x="315" y="174" width="7" height="7" fill="#86f000"/><rect x="321" y="174" width="7" height="7" fill="#88f000"/><rect x="327" y="174" width="7" height="7" fill="#8cf000"/><rect x="333" y="174" width="7" height="7" fill="#8eeb00"/><rect x="339" y="174" width="7" height="7" fill="#90e600"/><rect x="345" y="174" width="7" height="7" fill="#8fe100"/><rect x="351" y="174" width="7" height="7" fill="#8ed700"/><rect x="357" y="174" width="7" height="7" fill="#8cd200"/><rect x="363" y="174" width="13" height="7" fill="#8acd00"/><rect x="375" y="174" width="7" height="7" fill="#89cd00"/><rect x="381" y="174" width="7" height="7" fill="#88cd00"/><rect x="387" y="174" width="7" height="7" fill="#87cd00"/><rect x="393" y="174" width="7" height="7" fill="#83d200"/><rect x="399" y="174" width="7" height="7" fill="#80dc00"/><rect x="405" y="174" width="7" height="7" fill="#7ee600"/><rect x="411" y="174" width="7" height="7" fill="#7ceb00"/><rect x="417" y="174" width="7" height="7" fill="#7af000"/><rect x="423" y="174" width="7" height="7" fill="#77f000"/><rect x="429" y="174" width="7" height="7" fill="#75f000"/><rect x="435" y="174" width="7" height="7" fill="#72e600"/><rect x="441" y="174" width="13" height="7" fill="#71e600"/><rect x="453" y="174" width="7" height="7" fill="#6fe600"/><rect x="459" y="174" width="7" height="7" fill="#6de100"/><rect x="465" y="174" width="7" height="7" fill="#69d200"/><rect x="471" y="174" width="7" height="7" fill="#65c800"/><rect x="477" y="174" width="7" height="7" fill="#61be00"/><rect x="483" y="174" width="7" height="7" fill="#5fb900"/><rect x="489" y="174" width="31" height="7" fill="#5fb400"/><rect x="297" y="180" width="19" height="7" fill="#85f000"/><rect x="315" y="180" width="7" height="7" fill="#86f000"/><rect x="321" y="180" width="7" height="7" fill="#88f000"/><rect x="327" y="180" width="7" height="7" fill="#8cf000"/><rect x="333" y="180" width="7" height="7" fill="#8eeb00"/><rect x="339" y="180" width="7" height="7" fill="#90e600"/><rect x="345" y="180" width="7" height="7" fill="#8fe100"/><rect x="351" y="180" width="7" height="7" fill="#8ed700"/><rect x="357" y="180" width="7" height="7" fill="#8cd200"/><rect x="363" y="180" width="13" height="7" fill="#8acd00"/><rect x="375" y="180" width="7" height="7" fill="#89cd00"/><rect x="381" y="180" width="7" height="7" fill="#88cd00"/><rect x="387" y="180" width="7" height="7" fill="#87cd00"/><rect x="393" y="180" width="7" height="7" fill="#83d200"/><rect x="399" y="180" width="7" height="7" fill="#80dc00"/><rect x="405" y="180" width="7" height="7" fill="#7ee600"/><rect x="411" y="180" width="7" height="7" fill="#7ceb00"/><rect x="417" y="180" width="7" height="7" fill="#7af000"/><rect x="423" y="180" width="7" height="7" fill="#77f000"/><rect x="429" y="180" width="7" height="7" fill="#75f000"/><rect x="435" y="180" width="7" height="7" fill="#72e600"/><rect x="441" y="180" width="13" height="7" fill="#71e600"/><rect x="453" y="180" width="7" height="7" fill="#6fe600"/><rect x="459" y="180" width="7" height="7" fill="#6de100"/><rect x="465" y="180" width="7" height="7" fill="#69d200"/><rect x="471" y="180" width="7" height="7" fill="#65c800"/><rect x="477" y="180" width="7" height="7" fill="#61be00"/><rect x="483" y="180" width="7" height="7" fill="#5fb900"/><rect x="489" y="180" width="31" height="7" fill="#5fb400"/></g></g>
<rect x="314.5" y="11.5" width="187" height="153" fill="none" stroke="#000" stroke-width="1"/>
<text class="tk" x="349.50" y="174.4" text-anchor="middle">100</text>
<text class="tk" x="384.30" y="174.4" text-anchor="middle">200</text>
<text class="tk" x="419.10" y="174.4" text-anchor="middle">300</text>
<text class="tk" x="453.90" y="174.4" text-anchor="middle">400</text>
<text class="tk" x="488.70" y="174.4" text-anchor="middle">500</text>
<text class="tk" x="311.4" y="30.20" text-anchor="end">100</text>
<text class="tk" x="311.4" y="45.40" text-anchor="end">200</text>
<text class="tk" x="311.4" y="60.60" text-anchor="end">300</text>
<text class="tk" x="311.4" y="75.80" text-anchor="end">400</text>
<text class="tk" x="311.4" y="91.00" text-anchor="end">500</text>
<text class="tk" x="311.4" y="106.20" text-anchor="end">600</text>
<text class="tk" x="311.4" y="121.40" text-anchor="end">700</text>
<text class="tk" x="311.4" y="136.60" text-anchor="end">800</text>
<text class="tk" x="311.4" y="151.80" text-anchor="end">900</text>
<text class="tk" x="311.4" y="167.00" text-anchor="end">1000</text>
<path d="M349.50 164v-2M349.50 12v2M384.30 164v-2M384.30 12v2M419.10 164v-2M419.10 12v2M453.90 164v-2M453.90 12v2M488.70 164v-2M488.70 12v2M315 26.70h2M501 26.70h-2M315 41.90h2M501 41.90h-2M315 57.10h2M501 57.10h-2M315 72.30h2M501 72.30h-2M315 87.50h2M501 87.50h-2M315 102.70h2M501 102.70h-2M315 117.90h2M501 117.90h-2M315 133.10h2M501 133.10h-2M315 148.30h2M501 148.30h-2" stroke="#000" stroke-width=".6" fill="none"/>
<text class="tt" x="407.5" y="10.6" text-anchor="middle" textLength="245" lengthAdjust="spacingAndGlyphs">Phase 20201216_VV-20190613_VV (bn:-208m, hamb:-87.2m)</text>
<text class="lb" x="413.6" y="182.1" text-anchor="middle" textLength="54" lengthAdjust="spacingAndGlyphs">Azimuth [px]</text>
<text class="lb" transform="translate(290.29999999999995,86.7) rotate(-90)" text-anchor="middle" textLength="46.3" lengthAdjust="spacingAndGlyphs">Range [px]</text>
<text class="cp" x="413.4" y="193.2" text-anchor="middle" textLength="10.6" lengthAdjust="spacingAndGlyphs">(b)</text>
<rect x="507.5" y="11.5" width="13" height="153" fill="url(#jet)" stroke="#222" stroke-width="1"/>
<text class="tk" x="523.9" y="162.17">-3</text>
<path d="M507.5 160.57h1.5M520.5 160.57h-1.5" stroke="#000" stroke-width=".5"/>
<text class="tk" x="523.9" y="137.98">-2</text>
<path d="M507.5 136.38h1.5M520.5 136.38h-1.5" stroke="#000" stroke-width=".5"/>
<text class="tk" x="523.9" y="113.79">-1</text>
<path d="M507.5 112.19h1.5M520.5 112.19h-1.5" stroke="#000" stroke-width=".5"/>
<text class="tk" x="525.1" y="89.60">0</text>
<path d="M507.5 88.00h1.5M520.5 88.00h-1.5" stroke="#000" stroke-width=".5"/>
<text class="tk" x="525.1" y="65.41">1</text>
<path d="M507.5 63.81h1.5M520.5 63.81h-1.5" stroke="#000" stroke-width=".5"/>
<text class="tk" x="525.1" y="41.22">2</text>
<path d="M507.5 39.62h1.5M520.5 39.62h-1.5" stroke="#000" stroke-width=".5"/>
<text class="tk" x="525.1" y="17.03">3</text>
<path d="M507.5 15.43h1.5M520.5 15.43h-1.5" stroke="#000" stroke-width=".5"/>
<text class="tk" x="505.5" y="174.2" textLength="18.5" lengthAdjust="spacingAndGlyphs">[rad]</text>
<text class="lb" transform="translate(543.9,86.9) rotate(-90)" text-anchor="middle" textLength="26.2" lengthAdjust="spacingAndGlyphs">Phase</text>
<g clip-path="url(#clipc)" shape-rendering="crispEdges"><rect x="177.00" y="210.00" width="8.75" height="34.27" fill="#b8ff47"/><rect x="177.00" y="243.97" width="8.75" height="7.85" fill="#ffab00"/><rect x="177.00" y="251.53" width="8.75" height="4.08" fill="#ff2100"/><rect x="177.00" y="255.30" width="8.75" height="45.60" fill="#ff0900"/><rect x="177.00" y="300.60" width="8.75" height="4.08" fill="#ff1100"/><rect x="177.00" y="304.38" width="8.75" height="4.08" fill="#ff1900"/><rect x="177.00" y="308.15" width="8.75" height="7.85" fill="#ff2100"/><rect x="177.00" y="315.70" width="8.75" height="7.85" fill="#ff2a00"/><rect x="177.00" y="323.25" width="8.75" height="11.62" fill="#ff3200"/><rect x="177.00" y="334.57" width="8.75" height="7.85" fill="#ff3a00"/><rect x="177.00" y="342.12" width="8.75" height="4.08" fill="#ff4200"/><rect x="177.00" y="345.90" width="8.75" height="4.08" fill="#ff4a00"/><rect x="177.00" y="349.67" width="8.75" height="11.62" fill="#ff5200"/><rect x="185.45" y="210.00" width="8.75" height="34.27" fill="#b8ff47"/><rect x="185.45" y="243.97" width="8.75" height="7.85" fill="#ffab00"/><rect x="185.45" y="251.53" width="8.75" height="4.08" fill="#ff2100"/><rect x="185.45" y="255.30" width="8.75" height="45.60" fill="#ff0900"/><rect x="185.45" y="300.60" width="8.75" height="4.08" fill="#ff1100"/><rect x="185.45" y="304.38" width="8.75" height="4.08" fill="#ff1900"/><rect x="185.45" y="308.15" width="8.75" height="7.85" fill="#ff2100"/><rect x="185.45" y="315.70" width="8.75" height="7.85" fill="#ff2a00"/><rect x="185.45" y="323.25" width="8.75" height="11.62" fill="#ff3200"/><rect x="185.45" y="334.57" width="8.75" height="7.85" fill="#ff3a00"/><rect x="185.45" y="342.12" width="8.75" height="4.08" fill="#ff4200"/><rect x="185.45" y="345.90" width="8.75" height="4.08" fill="#ff4a00"/><rect x="185.45" y="349.67" width="8.75" height="11.62" fill="#ff5200"/><rect x="193.91" y="210.00" width="8.75" height="34.27" fill="#90ff6f"/><rect x="193.91" y="243.97" width="8.75" height="7.85" fill="#ffdc00"/><rect x="193.91" y="251.53" width="8.75" height="41.82" fill="#ff3a00"/><rect x="193.91" y="293.05" width="8.75" height="11.62" fill="#ff4200"/><rect x="193.91" y="304.38" width="8.75" height="15.40" fill="#ff4a00"/><rect x="193.91" y="319.48" width="8.75" height="7.85" fill="#ff5200"/><rect x="193.91" y="327.02" width="8.75" height="11.62" fill="#ff5a00"/><rect x="193.91" y="338.35" width="8.75" height="4.08" fill="#ff6200"/><rect x="193.91" y="342.12" width="8.75" height="7.85" fill="#ff6b00"/><rect x="193.91" y="349.67" width="8.75" height="11.62" fill="#ff7300"/><rect x="202.36" y="210.00" width="8.75" height="19.18" fill="#a8ff57"/><rect x="202.36" y="228.88" width="8.75" height="7.85" fill="#d1ff2e"/><rect x="202.36" y="236.43" width="8.75" height="7.85" fill="#f9ff06"/><rect x="202.36" y="243.97" width="8.75" height="4.08" fill="#ffbc00"/><rect x="202.36" y="247.75" width="8.75" height="4.08" fill="#ffdc00"/><rect x="202.36" y="251.53" width="8.75" height="4.08" fill="#ff7b00"/><rect x="202.36" y="255.30" width="8.75" height="41.82" fill="#ff5200"/><rect x="202.36" y="296.82" width="8.75" height="7.85" fill="#ff5a00"/><rect x="202.36" y="304.38" width="8.75" height="4.08" fill="#ff6200"/><rect x="202.36" y="308.15" width="8.75" height="11.62" fill="#ff6b00"/><rect x="202.36" y="319.48" width="8.75" height="7.85" fill="#ff7300"/><rect x="202.36" y="327.02" width="8.75" height="34.27" fill="#ff7b00"/><rect x="210.82" y="210.00" width="8.75" height="19.18" fill="#90ff6f"/><rect x="210.82" y="228.88" width="8.75" height="7.85" fill="#c0ff3f"/><rect x="210.82" y="236.43" width="8.75" height="7.85" fill="#e1ff1e"/><rect x="210.82" y="243.97" width="8.75" height="4.08" fill="#ffdc00"/><rect x="210.82" y="247.75" width="8.75" height="4.08" fill="#fff500"/><rect x="210.82" y="251.53" width="8.75" height="4.08" fill="#ff8b00"/><rect x="210.82" y="255.30" width="8.75" height="38.05" fill="#ff6b00"/><rect x="210.82" y="293.05" width="8.75" height="11.62" fill="#ff7300"/><rect x="210.82" y="304.38" width="8.75" height="4.08" fill="#ff7b00"/><rect x="210.82" y="308.15" width="8.75" height="11.62" fill="#ff8300"/><rect x="210.82" y="319.48" width="8.75" height="7.85" fill="#ff8b00"/><rect x="210.82" y="327.02" width="8.75" height="15.40" fill="#ff9300"/><rect x="210.82" y="342.12" width="8.75" height="19.18" fill="#ff9b00"/><rect x="219.27" y="210.00" width="8.75" height="11.62" fill="#b0ff4f"/><rect x="219.27" y="221.32" width="8.75" height="7.85" fill="#c9ff36"/><rect x="219.27" y="228.88" width="8.75" height="7.85" fill="#fffd00"/><rect x="219.27" y="236.43" width="8.75" height="7.85" fill="#ffcc00"/><rect x="219.27" y="243.97" width="8.75" height="4.08" fill="#ff9b00"/><rect x="219.27" y="247.75" width="8.75" height="4.08" fill="#ffbc00"/><rect x="219.27" y="251.53" width="8.75" height="4.08" fill="#ff9b00"/><rect x="219.27" y="255.30" width="8.75" height="38.05" fill="#ff7b00"/><rect x="219.27" y="293.05" width="8.75" height="4.08" fill="#ff8300"/><rect x="219.27" y="296.82" width="8.75" height="7.85" fill="#ff8b00"/><rect x="219.27" y="304.38" width="8.75" height="4.08" fill="#ff9300"/><rect x="219.27" y="308.15" width="8.75" height="11.62" fill="#ff9b00"/><rect x="219.27" y="319.48" width="8.75" height="7.85" fill="#ffa300"/><rect x="219.27" y="327.02" width="8.75" height="34.27" fill="#ffab00"/><rect x="227.73" y="210.00" width="8.75" height="7.85" fill="#90ff6f"/><rect x="227.73" y="217.55" width="8.75" height="4.08" fill="#80ff80"/><rect x="227.73" y="221.32" width="8.75" height="7.85" fill="#c0ff3f"/><rect x="227.73" y="228.88" width="8.75" height="7.85" fill="#f1ff0e"/><rect x="227.73" y="236.43" width="8.75" height="7.85" fill="#ffec00"/><rect x="227.73" y="243.97" width="8.75" height="4.08" fill="#ffbc00"/><rect x="227.73" y="247.75" width="8.75" height="4.08" fill="#ffcc00"/><rect x="227.73" y="251.53" width="8.75" height="7.85" fill="#ffab00"/><rect x="227.73" y="259.07" width="8.75" height="30.50" fill="#ff8b00"/><rect x="227.73" y="289.27" width="8.75" height="7.85" fill="#ff9300"/><rect x="227.73" y="296.82" width="8.75" height="4.08" fill="#ff9b00"/><rect x="227.73" y="300.60" width="8.75" height="4.08" fill="#ffa300"/><rect x="227.73" y="304.38" width="8.75" height="4.08" fill="#ffab00"/><rect x="227.73" y="308.15" width="8.75" height="11.62" fill="#ffb400"/><rect x="227.73" y="319.48" width="8.75" height="7.85" fill="#ffbc00"/><rect x="227.73" y="327.02" width="8.75" height="4.08" fill="#ffc400"/><rect x="227.73" y="330.80" width="8.75" height="7.85" fill="#ffcc00"/><rect x="227.73" y="338.35" width="8.75" height="22.95" fill="#ffd400"/><rect x="236.18" y="210.00" width="8.75" height="11.62" fill="#a8ff57"/><rect x="236.18" y="221.32" width="8.75" height="7.85" fill="#d1ff2e"/><rect x="236.18" y="228.88" width="8.75" height="7.85" fill="#fffd00"/><rect x="236.18" y="236.43" width="8.75" height="7.85" fill="#ffcc00"/><rect x="236.18" y="243.97" width="8.75" height="4.08" fill="#ffab00"/><rect x="236.18" y="247.75" width="8.75" height="11.62" fill="#ffbc00"/><rect x="236.18" y="259.07" width="8.75" height="34.27" fill="#ff9b00"/><rect x="236.18" y="293.05" width="8.75" height="4.08" fill="#ffa300"/><rect x="236.18" y="296.82" width="8.75" height="4.08" fill="#ffab00"/><rect x="236.18" y="300.60" width="8.75" height="4.08" fill="#ffbc00"/><rect x="236.18" y="304.38" width="8.75" height="4.08" fill="#ffc400"/><rect x="236.18" y="308.15" width="8.75" height="4.08" fill="#ffcc00"/><rect x="236.18" y="311.93" width="8.75" height="4.08" fill="#ffd400"/><rect x="236.18" y="315.70" width="8.75" height="4.08" fill="#ffdc00"/><rect x="236.18" y="319.48" width="8.75" height="11.62" fill="#ffe400"/><rect x="236.18" y="330.80" width="8.75" height="7.85" fill="#ffec00"/><rect x="236.18" y="338.35" width="8.75" height="22.95" fill="#fff500"/><rect x="244.64" y="210.00" width="8.75" height="4.08" fill="#d1ff2e"/><rect x="244.64" y="213.78" width="8.75" height="4.08" fill="#77ff88"/><rect x="244.64" y="217.55" width="8.75" height="11.62" fill="#5fffa0"/><rect x="244.64" y="228.88" width="8.75" height="4.08" fill="#a0ff5f"/><rect x="244.64" y="232.65" width="8.75" height="7.85" fill="#e9ff16"/><rect x="244.64" y="240.20" width="8.75" height="7.85" fill="#fffd00"/><rect x="244.64" y="247.75" width="8.75" height="11.62" fill="#ffe400"/><rect x="244.64" y="259.07" width="8.75" height="26.73" fill="#ffa300"/><rect x="244.64" y="285.50" width="8.75" height="4.08" fill="#ffab00"/><rect x="244.64" y="289.27" width="8.75" height="4.08" fill="#ffbc00"/><rect x="244.64" y="293.05" width="8.75" height="4.08" fill="#ffc400"/><rect x="244.64" y="296.82" width="8.75" height="4.08" fill="#ffcc00"/><rect x="244.64" y="300.60" width="8.75" height="4.08" fill="#ffd400"/><rect x="244.64" y="304.38" width="8.75" height="4.08" fill="#ffdc00"/><rect x="244.64" y="308.15" width="8.75" height="4.08" fill="#ffe400"/><rect x="244.64" y="311.93" width="8.75" height="4.08" fill="#ffec00"/><rect x="244.64" y="315.70" width="8.75" height="7.85" fill="#fff500"/><rect x="244.64" y="323.25" width="8.75" height="38.05" fill="#fffd00"/><rect x="253.09" y="210.00" width="8.75" height="4.08" fill="#d1ff2e"/><rect x="253.09" y="213.78" width="8.75" height="4.08" fill="#6fff90"/><rect x="253.09" y="217.55" width="8.75" height="11.62" fill="#57ffa8"/><rect x="253.09" y="228.88" width="8.75" height="4.08" fill="#a0ff5f"/><rect x="253.09" y="232.65" width="8.75" height="7.85" fill="#e1ff1e"/><rect x="253.09" y="240.20" width="8.75" height="7.85" fill="#fffd00"/><rect x="253.09" y="247.75" width="8.75" height="11.62" fill="#ffec00"/><rect x="253.09" y="259.07" width="8.75" height="26.73" fill="#ffb400"/><rect x="253.09" y="285.50" width="8.75" height="4.08" fill="#ffcc00"/><rect x="253.09" y="289.27" width="8.75" height="4.08" fill="#ffdc00"/><rect x="253.09" y="293.05" width="8.75" height="4.08" fill="#ffe400"/><rect x="253.09" y="296.82" width="8.75" height="4.08" fill="#ffec00"/><rect x="253.09" y="300.60" width="8.75" height="7.85" fill="#fff500"/><rect x="253.09" y="308.15" width="8.75" height="7.85" fill="#fffd00"/><rect x="253.09" y="315.70" width="8.75" height="7.85" fill="#f9ff06"/><rect x="253.09" y="323.25" width="8.75" height="7.85" fill="#f1ff0e"/><rect x="253.09" y="330.80" width="8.75" height="30.50" fill="#e9ff16"/><rect x="261.55" y="210.00" width="8.75" height="4.08" fill="#d1ff2e"/><rect x="261.55" y="213.78" width="8.75" height="4.08" fill="#90ff6f"/><rect x="261.55" y="217.55" width="8.75" height="11.62" fill="#6fff90"/><rect x="261.55" y="228.88" width="8.75" height="4.08" fill="#b0ff4f"/><rect x="261.55" y="232.65" width="8.75" height="7.85" fill="#e9ff16"/><rect x="261.55" y="240.20" width="8.75" height="7.85" fill="#fffd00"/><rect x="261.55" y="247.75" width="8.75" height="15.40" fill="#fff500"/><rect x="261.55" y="262.85" width="8.75" height="22.95" fill="#ffcc00"/><rect x="261.55" y="285.50" width="8.75" height="4.08" fill="#ffdc00"/><rect x="261.55" y="289.27" width="8.75" height="4.08" fill="#fff500"/><rect x="261.55" y="293.05" width="8.75" height="4.08" fill="#fffd00"/><rect x="261.55" y="296.82" width="8.75" height="7.85" fill="#f9ff06"/><rect x="261.55" y="304.38" width="8.75" height="11.62" fill="#f1ff0e"/><rect x="261.55" y="315.70" width="8.75" height="4.08" fill="#e9ff16"/><rect x="261.55" y="319.48" width="8.75" height="7.85" fill="#e1ff1e"/><rect x="261.55" y="327.02" width="8.75" height="4.08" fill="#d9ff26"/><rect x="261.55" y="330.80" width="8.75" height="30.50" fill="#d1ff2e"/><rect x="270.00" y="210.00" width="8.75" height="4.08" fill="#f1ff0e"/><rect x="270.00" y="213.78" width="8.75" height="4.08" fill="#e1ff1e"/><rect x="270.00" y="217.55" width="8.75" height="11.62" fill="#d1ff2e"/><rect x="270.00" y="228.88" width="8.75" height="4.08" fill="#e1ff1e"/><rect x="270.00" y="232.65" width="8.75" height="34.27" fill="#fffd00"/><rect x="270.00" y="266.62" width="8.75" height="19.18" fill="#ffdc00"/><rect x="270.00" y="285.50" width="8.75" height="7.85" fill="#fffd00"/><rect x="270.00" y="293.05" width="8.75" height="7.85" fill="#e9ff16"/><rect x="270.00" y="300.60" width="8.75" height="15.40" fill="#e1ff1e"/><rect x="270.00" y="315.70" width="8.75" height="4.08" fill="#d9ff26"/><rect x="270.00" y="319.48" width="8.75" height="4.08" fill="#d1ff2e"/><rect x="270.00" y="323.25" width="8.75" height="4.08" fill="#c9ff36"/><rect x="270.00" y="327.02" width="8.75" height="4.08" fill="#c0ff3f"/><rect x="270.00" y="330.80" width="8.75" height="30.50" fill="#b8ff47"/><rect x="278.45" y="210.00" width="8.75" height="4.08" fill="#ffe400"/><rect x="278.45" y="213.78" width="8.75" height="72.02" fill="#fffd00"/><rect x="278.45" y="285.50" width="8.75" height="7.85" fill="#e9ff16"/><rect x="278.45" y="293.05" width="8.75" height="7.85" fill="#d1ff2e"/><rect x="278.45" y="300.60" width="8.75" height="15.40" fill="#c9ff36"/><rect x="278.45" y="315.70" width="8.75" height="4.08" fill="#c0ff3f"/><rect x="278.45" y="319.48" width="8.75" height="4.08" fill="#b8ff47"/><rect x="278.45" y="323.25" width="8.75" height="4.08" fill="#a8ff57"/><rect x="278.45" y="327.02" width="8.75" height="4.08" fill="#a0ff5f"/><rect x="278.45" y="330.80" width="8.75" height="30.50" fill="#98ff67"/><rect x="286.91" y="210.00" width="8.75" height="4.08" fill="#ffab00"/><rect x="286.91" y="213.78" width="8.75" height="4.08" fill="#ffbc00"/><rect x="286.91" y="217.55" width="8.75" height="11.62" fill="#ffdc00"/><rect x="286.91" y="228.88" width="8.75" height="11.62" fill="#ffec00"/><rect x="286.91" y="240.20" width="8.75" height="7.85" fill="#fff500"/><rect x="286.91" y="247.75" width="8.75" height="11.62" fill="#f1ff0e"/><rect x="286.91" y="259.07" width="8.75" height="26.73" fill="#f9ff06"/><rect x="286.91" y="285.50" width="8.75" height="4.08" fill="#e1ff1e"/><rect x="286.91" y="289.27" width="8.75" height="4.08" fill="#d9ff26"/><rect x="286.91" y="293.05" width="8.75" height="4.08" fill="#c0ff3f"/><rect x="286.91" y="296.82" width="8.75" height="4.08" fill="#b8ff47"/><rect x="286.91" y="300.60" width="8.75" height="15.40" fill="#b0ff4f"/><rect x="286.91" y="315.70" width="8.75" height="4.08" fill="#a8ff57"/><rect x="286.91" y="319.48" width="8.75" height="4.08" fill="#98ff67"/><rect x="286.91" y="323.25" width="8.75" height="4.08" fill="#90ff6f"/><rect x="286.91" y="327.02" width="8.75" height="4.08" fill="#80ff80"/><rect x="286.91" y="330.80" width="8.75" height="30.50" fill="#77ff88"/><rect x="295.36" y="210.00" width="8.75" height="4.08" fill="#ff9b00"/><rect x="295.36" y="213.78" width="8.75" height="4.08" fill="#ffab00"/><rect x="295.36" y="217.55" width="8.75" height="11.62" fill="#ffcc00"/><rect x="295.36" y="228.88" width="8.75" height="11.62" fill="#ffe400"/><rect x="295.36" y="240.20" width="8.75" height="7.85" fill="#fffd00"/><rect x="295.36" y="247.75" width="8.75" height="38.05" fill="#e9ff16"/><rect x="295.36" y="285.50" width="8.75" height="4.08" fill="#c9ff36"/><rect x="295.36" y="289.27" width="8.75" height="4.08" fill="#c0ff3f"/><rect x="295.36" y="293.05" width="8.75" height="4.08" fill="#a0ff5f"/><rect x="295.36" y="296.82" width="8.75" height="4.08" fill="#98ff67"/><rect x="295.36" y="300.60" width="8.75" height="11.62" fill="#90ff6f"/><rect x="295.36" y="311.93" width="8.75" height="4.08" fill="#88ff77"/><rect x="295.36" y="315.70" width="8.75" height="4.08" fill="#80ff80"/><rect x="295.36" y="319.48" width="8.75" height="4.08" fill="#77ff88"/><rect x="295.36" y="323.25" width="8.75" height="4.08" fill="#67ff98"/><rect x="295.36" y="327.02" width="8.75" height="4.08" fill="#57ffa8"/><rect x="295.36" y="330.80" width="8.75" height="7.85" fill="#4fffb0"/><rect x="295.36" y="338.35" width="8.75" height="7.85" fill="#47ffb8"/><rect x="295.36" y="345.90" width="8.75" height="15.40" fill="#3fffc0"/><rect x="303.82" y="210.00" width="8.75" height="7.85" fill="#ffb400"/><rect x="303.82" y="217.55" width="8.75" height="11.62" fill="#ffd400"/><rect x="303.82" y="228.88" width="8.75" height="19.18" fill="#fff500"/><rect x="303.82" y="247.75" width="8.75" height="38.05" fill="#d1ff2e"/><rect x="303.82" y="285.50" width="8.75" height="4.08" fill="#a0ff5f"/><rect x="303.82" y="289.27" width="8.75" height="4.08" fill="#98ff67"/><rect x="303.82" y="293.05" width="8.75" height="4.08" fill="#77ff88"/><rect x="303.82" y="296.82" width="8.75" height="4.08" fill="#67ff98"/><rect x="303.82" y="300.60" width="8.75" height="4.08" fill="#5fffa0"/><rect x="303.82" y="304.38" width="8.75" height="11.62" fill="#57ffa8"/><rect x="303.82" y="315.70" width="8.75" height="4.08" fill="#4fffb0"/><rect x="303.82" y="319.48" width="8.75" height="4.08" fill="#47ffb8"/><rect x="303.82" y="323.25" width="8.75" height="4.08" fill="#36ffc9"/><rect x="303.82" y="327.02" width="8.75" height="4.08" fill="#2effd1"/><rect x="303.82" y="330.80" width="8.75" height="7.85" fill="#26ffd9"/><rect x="303.82" y="338.35" width="8.75" height="4.08" fill="#1effe1"/><rect x="303.82" y="342.12" width="8.75" height="7.85" fill="#16ffe9"/><rect x="303.82" y="349.67" width="8.75" height="11.62" fill="#0efff1"/><rect x="312.27" y="210.00" width="8.75" height="4.08" fill="#ffdc00"/><rect x="312.27" y="213.78" width="8.75" height="7.85" fill="#fffd00"/><rect x="312.27" y="221.32" width="8.75" height="26.73" fill="#f1ff0e"/><rect x="312.27" y="247.75" width="8.75" height="11.62" fill="#c0ff3f"/><rect x="312.27" y="259.07" width="8.75" height="26.73" fill="#a0ff5f"/><rect x="312.27" y="285.50" width="8.75" height="4.08" fill="#67ff98"/><rect x="312.27" y="289.27" width="8.75" height="4.08" fill="#5fffa0"/><rect x="312.27" y="293.05" width="8.75" height="4.08" fill="#47ffb8"/><rect x="312.27" y="296.82" width="8.75" height="4.08" fill="#36ffc9"/><rect x="312.27" y="300.60" width="8.75" height="4.08" fill="#2effd1"/><rect x="312.27" y="304.38" width="8.75" height="11.62" fill="#26ffd9"/><rect x="312.27" y="315.70" width="8.75" height="4.08" fill="#1effe1"/><rect x="312.27" y="319.48" width="8.75" height="4.08" fill="#16ffe9"/><rect x="312.27" y="323.25" width="8.75" height="4.08" fill="#0efff1"/><rect x="312.27" y="327.02" width="8.75" height="4.08" fill="#06fff9"/><rect x="312.27" y="330.80" width="8.75" height="4.08" fill="#00fdff"/><rect x="312.27" y="334.57" width="8.75" height="4.08" fill="#00f5ff"/><rect x="312.27" y="338.35" width="8.75" height="22.95" fill="#00ecff"/><rect x="320.73" y="210.00" width="8.75" height="4.08" fill="#f9ff06"/><rect x="320.73" y="213.78" width="8.75" height="7.85" fill="#d9ff26"/><rect x="320.73" y="221.32" width="8.75" height="15.40" fill="#b8ff47"/><rect x="320.73" y="236.43" width="8.75" height="11.62" fill="#a0ff5f"/><rect x="320.73" y="247.75" width="8.75" height="38.05" fill="#5fffa0"/><rect x="320.73" y="285.50" width="8.75" height="4.08" fill="#26ffd9"/><rect x="320.73" y="289.27" width="8.75" height="4.08" fill="#1effe1"/><rect x="320.73" y="293.05" width="8.75" height="4.08" fill="#16ffe9"/><rect x="320.73" y="296.82" width="8.75" height="7.85" fill="#0efff1"/><rect x="320.73" y="304.38" width="8.75" height="11.62" fill="#06fff9"/><rect x="320.73" y="315.70" width="8.75" height="4.08" fill="#00fdff"/><rect x="320.73" y="319.48" width="8.75" height="4.08" fill="#00f5ff"/><rect x="320.73" y="323.25" width="8.75" height="4.08" fill="#00ecff"/><rect x="320.73" y="327.02" width="8.75" height="4.08" fill="#00e4ff"/><rect x="320.73" y="330.80" width="8.75" height="4.08" fill="#00dcff"/><rect x="320.73" y="334.57" width="8.75" height="7.85" fill="#00d4ff"/><rect x="320.73" y="342.12" width="8.75" height="19.18" fill="#00ccff"/><rect x="329.18" y="210.00" width="8.75" height="4.08" fill="#c9ff36"/><rect x="329.18" y="213.78" width="8.75" height="7.85" fill="#90ff6f"/><rect x="329.18" y="221.32" width="8.75" height="15.40" fill="#57ffa8"/><rect x="329.18" y="236.43" width="8.75" height="11.62" fill="#3fffc0"/><rect x="329.18" y="247.75" width="8.75" height="38.05" fill="#2effd1"/><rect x="329.18" y="285.50" width="8.75" height="11.62" fill="#06fff9"/><rect x="329.18" y="296.82" width="8.75" height="4.08" fill="#00fdff"/><rect x="329.18" y="300.60" width="8.75" height="4.08" fill="#00f5ff"/><rect x="329.18" y="304.38" width="8.75" height="4.08" fill="#00ecff"/><rect x="329.18" y="308.15" width="8.75" height="7.85" fill="#00e4ff"/><rect x="329.18" y="315.70" width="8.75" height="4.08" fill="#00dcff"/><rect x="329.18" y="319.48" width="8.75" height="7.85" fill="#00d4ff"/><rect x="329.18" y="327.02" width="8.75" height="4.08" fill="#00ccff"/><rect x="329.18" y="330.80" width="8.75" height="4.08" fill="#00c4ff"/><rect x="329.18" y="334.57" width="8.75" height="7.85" fill="#00bcff"/><rect x="329.18" y="342.12" width="8.75" height="19.18" fill="#00b4ff"/><rect x="337.64" y="210.00" width="8.75" height="7.85" fill="#1effe1"/><rect x="337.64" y="217.55" width="8.75" height="75.80" fill="#00fdff"/><rect x="337.64" y="293.05" width="8.75" height="4.08" fill="#00f5ff"/><rect x="337.64" y="296.82" width="8.75" height="4.08" fill="#00e4ff"/><rect x="337.64" y="300.60" width="8.75" height="4.08" fill="#00dcff"/><rect x="337.64" y="304.38" width="8.75" height="4.08" fill="#00d4ff"/><rect x="337.64" y="308.15" width="8.75" height="4.08" fill="#00ccff"/><rect x="337.64" y="311.93" width="8.75" height="4.08" fill="#00c4ff"/><rect x="337.64" y="315.70" width="8.75" height="7.85" fill="#00bcff"/><rect x="337.64" y="323.25" width="8.75" height="7.85" fill="#00b4ff"/><rect x="337.64" y="330.80" width="8.75" height="4.08" fill="#00abff"/><rect x="337.64" y="334.57" width="8.75" height="7.85" fill="#00a3ff"/><rect x="337.64" y="342.12" width="8.75" height="19.18" fill="#009bff"/><rect x="346.09" y="210.00" width="8.75" height="7.85" fill="#0efff1"/><rect x="346.09" y="217.55" width="8.75" height="4.08" fill="#00fdff"/><rect x="346.09" y="221.32" width="8.75" height="53.15" fill="#009bff"/><rect x="346.09" y="274.18" width="8.75" height="11.62" fill="#00c4ff"/><rect x="346.09" y="285.50" width="8.75" height="7.85" fill="#00dcff"/><rect x="346.09" y="293.05" width="8.75" height="4.08" fill="#00ccff"/><rect x="346.09" y="296.82" width="8.75" height="4.08" fill="#00c4ff"/><rect x="346.09" y="300.60" width="8.75" height="4.08" fill="#00bcff"/><rect x="346.09" y="304.38" width="8.75" height="4.08" fill="#00b4ff"/><rect x="346.09" y="308.15" width="8.75" height="4.08" fill="#00abff"/><rect x="346.09" y="311.93" width="8.75" height="11.62" fill="#00a3ff"/><rect x="346.09" y="323.25" width="8.75" height="7.85" fill="#009bff"/><rect x="346.09" y="330.80" width="8.75" height="4.08" fill="#0093ff"/><rect x="346.09" y="334.57" width="8.75" height="4.08" fill="#008bff"/><rect x="346.09" y="338.35" width="8.75" height="7.85" fill="#0083ff"/><rect x="346.09" y="345.90" width="8.75" height="7.85" fill="#007bff"/><rect x="346.09" y="353.45" width="8.75" height="7.85" fill="#0073ff"/><rect x="354.55" y="210.00" width="8.75" height="11.62" fill="#06fff9"/><rect x="354.55" y="221.32" width="8.75" height="4.08" fill="#00dcff"/><rect x="354.55" y="225.10" width="8.75" height="22.95" fill="#004aff"/><rect x="354.55" y="247.75" width="8.75" height="22.95" fill="#005aff"/><rect x="354.55" y="270.40" width="8.75" height="15.40" fill="#0093ff"/><rect x="354.55" y="285.50" width="8.75" height="7.85" fill="#00c4ff"/><rect x="354.55" y="293.05" width="8.75" height="4.08" fill="#00b4ff"/><rect x="354.55" y="296.82" width="8.75" height="4.08" fill="#00abff"/><rect x="354.55" y="300.60" width="8.75" height="4.08" fill="#00a3ff"/><rect x="354.55" y="304.38" width="8.75" height="4.08" fill="#009bff"/><rect x="354.55" y="308.15" width="8.75" height="4.08" fill="#0093ff"/><rect x="354.55" y="311.93" width="8.75" height="11.62" fill="#008bff"/><rect x="354.55" y="323.25" width="8.75" height="7.85" fill="#0083ff"/><rect x="354.55" y="330.80" width="8.75" height="4.08" fill="#007bff"/><rect x="354.55" y="334.57" width="8.75" height="4.08" fill="#0073ff"/><rect x="354.55" y="338.35" width="8.75" height="7.85" fill="#006bff"/><rect x="354.55" y="345.90" width="8.75" height="4.08" fill="#0062ff"/><rect x="354.55" y="349.67" width="8.75" height="7.85" fill="#005aff"/><rect x="354.55" y="357.23" width="8.75" height="4.08" fill="#0052ff"/></g>
<rect x="176.5" y="209.5" width="187" height="152" fill="none" stroke="#000" stroke-width="1"/>
<text class="tk" x="214.85" y="371.8" text-anchor="middle">5</text>
<text class="tk" x="257.12" y="371.8" text-anchor="middle">10</text>
<text class="tk" x="299.39" y="371.8" text-anchor="middle">15</text>
<text class="tk" x="341.66" y="371.8" text-anchor="middle">20</text>
<text class="tk" x="173.2" y="230.19" text-anchor="end">5</text>
<text class="tk" x="173.2" y="249.06" text-anchor="end">10</text>
<text class="tk" x="173.2" y="267.94" text-anchor="end">15</text>
<text class="tk" x="173.2" y="286.81" text-anchor="end">20</text>
<text class="tk" x="173.2" y="305.69" text-anchor="end">25</text>
<text class="tk" x="173.2" y="324.56" text-anchor="end">30</text>
<text class="tk" x="173.2" y="343.44" text-anchor="end">35</text>
<text class="tk" x="173.2" y="362.31" text-anchor="end">40</text>
<path d="M215.05 361v-2M215.05 210v2M257.32 361v-2M257.32 210v2M299.59 361v-2M299.59 210v2M341.86 361v-2M341.86 210v2M177 226.99h2M363 226.99h-2M177 245.86h2M363 245.86h-2M177 264.74h2M363 264.74h-2M177 283.61h2M363 283.61h-2M177 302.49h2M363 302.49h-2M177 321.36h2M363 321.36h-2M177 340.24h2M363 340.24h-2M177 359.11h2M363 359.11h-2" stroke="#000" stroke-width=".6" fill="none"/>
<text class="tt" x="269.8" y="208.2" text-anchor="middle" textLength="110.5" lengthAdjust="spacingAndGlyphs">Atmosphere, 20201216_VV</text>
<text class="lb" x="274" y="383.4" text-anchor="middle" textLength="65.8" lengthAdjust="spacingAndGlyphs">Azimuth [px×25]</text>
<text class="lb" transform="translate(154.8,290) rotate(-90)" text-anchor="middle" textLength="53.5" lengthAdjust="spacingAndGlyphs">Range [px×25]</text>
<text class="cp" x="274.2" y="393.6" text-anchor="middle" textLength="8.8" lengthAdjust="spacingAndGlyphs">(c)</text>
<rect x="369.5" y="209.5" width="14" height="152" fill="url(#jet)" stroke="#222" stroke-width="1"/>
<text class="tk" x="385.9" y="359.20">-3</text>
<path d="M369.5 357.60h1.5M383.5 357.60h-1.5" stroke="#000" stroke-width=".5"/>
<text class="tk" x="385.9" y="335.16">-2</text>
<path d="M369.5 333.56h1.5M383.5 333.56h-1.5" stroke="#000" stroke-width=".5"/>
<text class="tk" x="385.9" y="311.13">-1</text>
<path d="M369.5 309.53h1.5M383.5 309.53h-1.5" stroke="#000" stroke-width=".5"/>
<text class="tk" x="387.1" y="287.10">0</text>
<path d="M369.5 285.50h1.5M383.5 285.50h-1.5" stroke="#000" stroke-width=".5"/>
<text class="tk" x="387.1" y="263.07">1</text>
<path d="M369.5 261.47h1.5M383.5 261.47h-1.5" stroke="#000" stroke-width=".5"/>
<text class="tk" x="387.1" y="239.04">2</text>
<path d="M369.5 237.44h1.5M383.5 237.44h-1.5" stroke="#000" stroke-width=".5"/>
<text class="tk" x="387.1" y="215.00">3</text>
<path d="M369.5 213.40h1.5M383.5 213.40h-1.5" stroke="#000" stroke-width=".5"/>
<text class="tk" x="366.2" y="371.8" textLength="19.8" lengthAdjust="spacingAndGlyphs">[rad]</text>
<text class="lb" transform="translate(406.6,285.8) rotate(-90)" text-anchor="middle" textLength="25.6" lengthAdjust="spacingAndGlyphs">Phase</text>
<path d="M173.4 184L202 199.3" stroke="#111" stroke-width=".9"/><path d="M203.5 195L198.5 203.2H208.7Z" fill="#000"/>
<path d="M333.7 203.3L358.6 190.5" stroke="#111" stroke-width=".9"/><path d="M354.5 186.7H365.2L360 195.2Z" fill="#000"/>
</svg>
</body></html>
